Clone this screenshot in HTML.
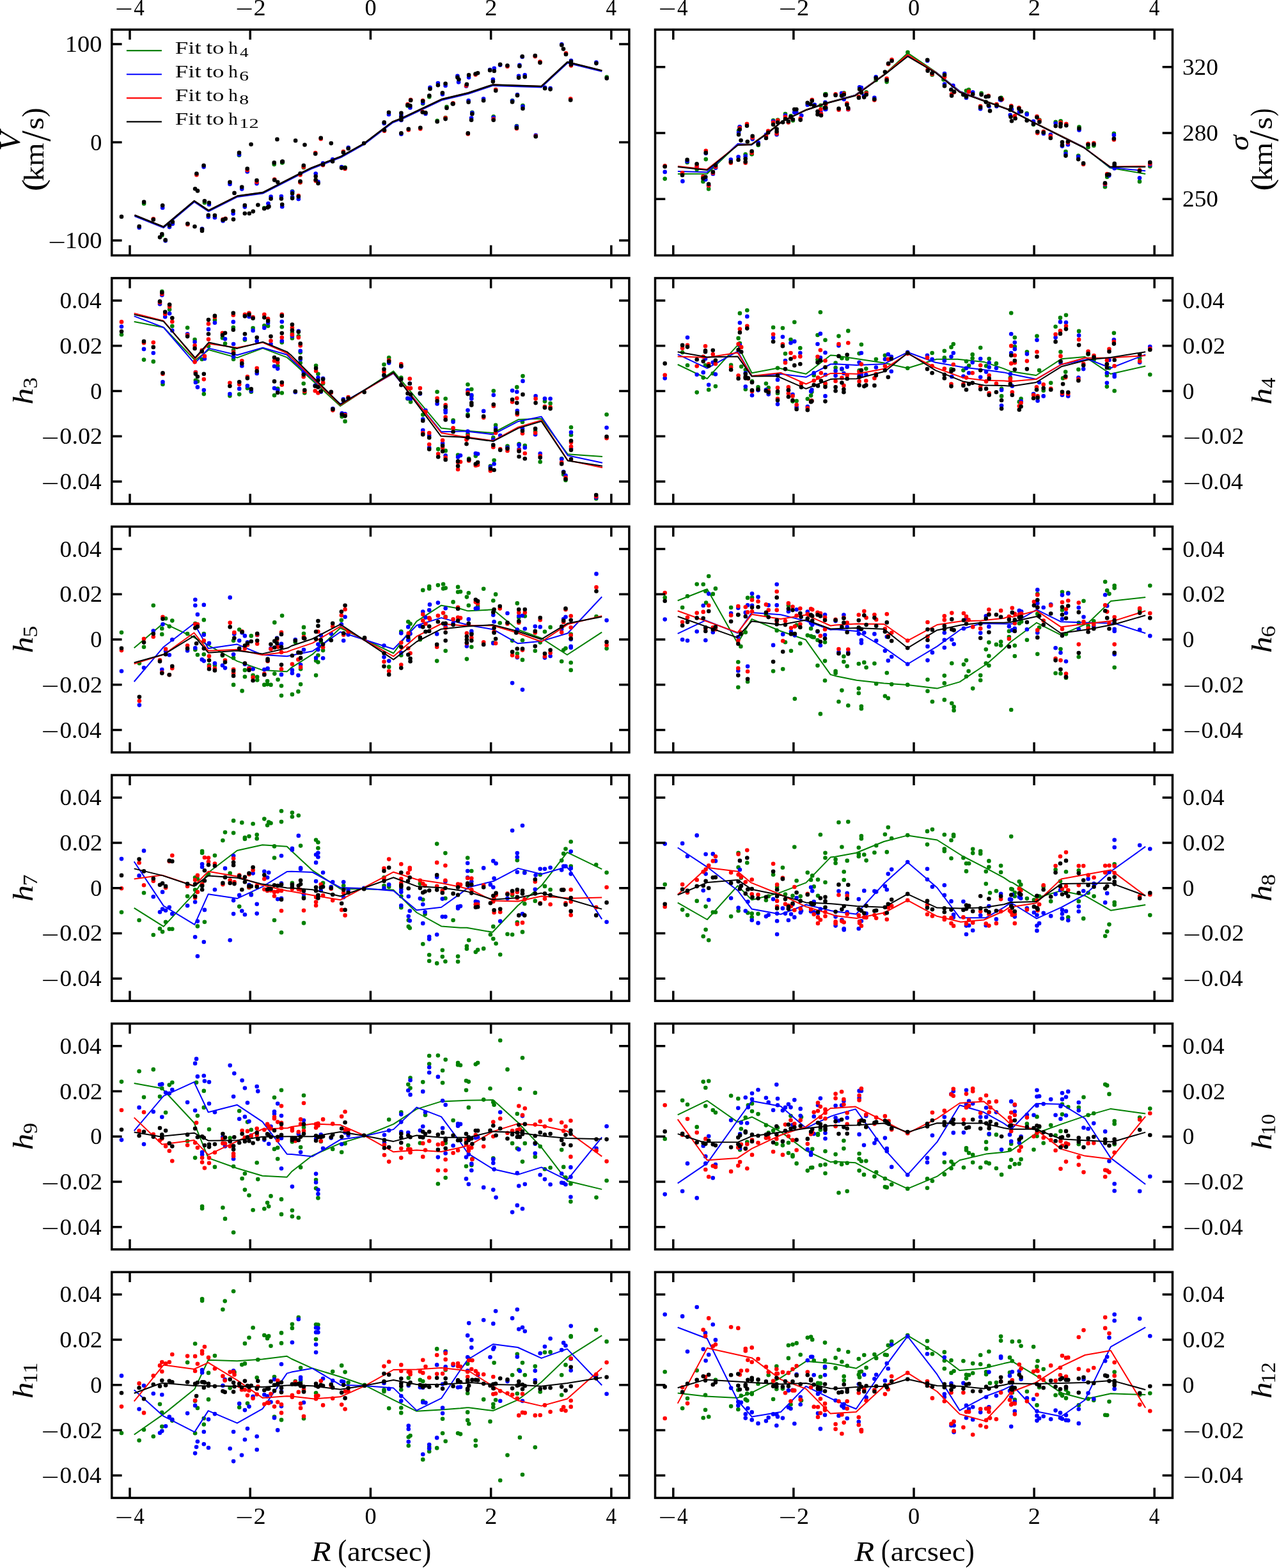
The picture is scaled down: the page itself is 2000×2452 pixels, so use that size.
<!DOCTYPE html>
<html><head><meta charset="utf-8"><title>LOSVD moments</title>
<style>html,body{margin:0;padding:0;background:#fff;}svg{display:block;}text{font-family:'Liberation Serif', serif;}</style>
</head><body>
<svg width="2000" height="2452" viewBox="0 0 2000 2452">
<rect width="2000" height="2452" fill="#fff"/>
<clipPath id="cL0"><rect x="174.80" y="46.30" width="809.10" height="353.10"/></clipPath>
<g clip-path="url(#cL0)">
<g fill="#008000"><circle cx="225.1" cy="318.5" r="3.3"/><circle cx="253.3" cy="368.0" r="3.3"/><circle cx="319.9" cy="317.0" r="3.3"/><circle cx="374.0" cy="242.8" r="3.3"/><circle cx="413.2" cy="325.2" r="3.3"/><circle cx="428.7" cy="257.1" r="3.3"/><circle cx="441.2" cy="254.4" r="3.3"/><circle cx="441.9" cy="254.1" r="3.3"/><circle cx="474.8" cy="261.9" r="3.3"/><circle cx="469.5" cy="285.2" r="3.3"/><circle cx="539.5" cy="261.9" r="3.3"/><circle cx="671.3" cy="151.4" r="3.3"/><circle cx="683.7" cy="188.8" r="3.3"/><circle cx="698.5" cy="167.0" r="3.3"/><circle cx="696.6" cy="184.1" r="3.3"/><circle cx="661.2" cy="161.9" r="3.3"/><circle cx="637.5" cy="165.4" r="3.3"/><circle cx="457.1" cy="299.3" r="3.3"/><circle cx="948.8" cy="120.6" r="3.3"/><circle cx="801.1" cy="157.3" r="3.3"/><circle cx="817.5" cy="165.0" r="3.3"/><circle cx="738.3" cy="175.8" r="3.3"/><circle cx="771.7" cy="182.2" r="3.3"/><circle cx="807.9" cy="197.1" r="3.3"/></g>
<polyline points="210.5,337.0 255.6,355.2 303.8,314.8 326.1,329.6 371.2,307.0 410.8,301.6 469.5,271.7 486.7,263.1 533.3,245.2 569.1,225.0 598.6,202.5 614.2,190.8 628.2,185.4 657.7,171.4 690.4,155.8 732.3,145.7 770.9,132.9 846.4,135.6 887.4,97.5 941.3,110.9" fill="none" stroke="#008000" stroke-width="2.00" stroke-linejoin="round"/>
<g fill="#0000ff"><circle cx="217.7" cy="356.0" r="3.3"/><circle cx="254.2" cy="324.9" r="3.3"/><circle cx="258.7" cy="376.5" r="3.3"/><circle cx="265.0" cy="355.1" r="3.3"/><circle cx="269.9" cy="350.1" r="3.3"/><circle cx="316.0" cy="357.9" r="3.3"/><circle cx="318.6" cy="261.1" r="3.3"/><circle cx="326.9" cy="319.8" r="3.3"/><circle cx="325.8" cy="339.2" r="3.3"/><circle cx="335.9" cy="340.3" r="3.3"/><circle cx="348.6" cy="345.4" r="3.3"/><circle cx="359.5" cy="287.9" r="3.3"/><circle cx="364.6" cy="334.1" r="3.3"/><circle cx="374.0" cy="241.7" r="3.3"/><circle cx="378.2" cy="295.6" r="3.3"/><circle cx="382.8" cy="323.6" r="3.3"/><circle cx="386.7" cy="268.4" r="3.3"/><circle cx="401.5" cy="287.1" r="3.3"/><circle cx="419.4" cy="318.2" r="3.3"/><circle cx="423.6" cy="307.6" r="3.3"/><circle cx="439.9" cy="307.0" r="3.3"/><circle cx="441.2" cy="323.2" r="3.3"/><circle cx="493.7" cy="271.6" r="3.3"/><circle cx="534.1" cy="261.1" r="3.3"/><circle cx="520.1" cy="249.4" r="3.3"/><circle cx="505.0" cy="255.2" r="3.3"/><circle cx="497.5" cy="284.4" r="3.3"/><circle cx="544.7" cy="230.7" r="3.3"/><circle cx="600.7" cy="193.0" r="3.3"/><circle cx="608.0" cy="179.0" r="3.3"/><circle cx="627.4" cy="180.2" r="3.3"/><circle cx="627.4" cy="188.0" r="3.3"/><circle cx="627.4" cy="209.8" r="3.3"/><circle cx="641.4" cy="168.5" r="3.3"/><circle cx="661.2" cy="160.8" r="3.3"/><circle cx="665.5" cy="177.9" r="3.3"/><circle cx="672.5" cy="136.7" r="3.3"/><circle cx="684.9" cy="130.1" r="3.3"/><circle cx="696.6" cy="133.9" r="3.3"/><circle cx="691.9" cy="147.5" r="3.3"/><circle cx="457.1" cy="299.8" r="3.3"/><circle cx="457.1" cy="308.1" r="3.3"/><circle cx="466.8" cy="311.2" r="3.3"/><circle cx="715.4" cy="118.7" r="3.3"/><circle cx="717.1" cy="128.4" r="3.3"/><circle cx="733.1" cy="121.1" r="3.3"/><circle cx="729.1" cy="134.8" r="3.3"/><circle cx="772.8" cy="106.7" r="3.3"/><circle cx="782.1" cy="101.8" r="3.3"/><circle cx="770.9" cy="124.3" r="3.3"/><circle cx="812.4" cy="101.8" r="3.3"/><circle cx="816.7" cy="89.0" r="3.3"/><circle cx="811.1" cy="118.7" r="3.3"/><circle cx="820.7" cy="117.4" r="3.3"/><circle cx="878.3" cy="69.4" r="3.3"/><circle cx="893.0" cy="94.9" r="3.3"/><circle cx="932.4" cy="97.5" r="3.3"/><circle cx="852.1" cy="136.7" r="3.3"/><circle cx="860.6" cy="138.0" r="3.3"/><circle cx="809.0" cy="148.0" r="3.3"/><circle cx="801.1" cy="157.8" r="3.3"/><circle cx="817.5" cy="166.5" r="3.3"/><circle cx="732.6" cy="157.3" r="3.3"/><circle cx="756.1" cy="154.6" r="3.3"/><circle cx="738.3" cy="176.6" r="3.3"/><circle cx="737.1" cy="184.6" r="3.3"/><circle cx="771.7" cy="183.8" r="3.3"/><circle cx="807.9" cy="197.8" r="3.3"/><circle cx="837.8" cy="211.6" r="3.3"/><circle cx="766.1" cy="109.1" r="3.3"/></g>
<polyline points="210.5,337.8 255.6,356.0 303.8,315.6 326.1,330.4 371.2,307.8 410.8,302.4 469.5,272.5 486.7,263.9 533.3,246.0 569.1,225.8 598.6,203.3 614.2,191.6 628.2,186.2 657.7,172.2 690.4,156.6 732.3,146.5 770.9,133.7 846.4,136.4 887.4,98.3 941.3,111.7" fill="none" stroke="#0000ff" stroke-width="2.40" stroke-linejoin="round"/>
<g fill="#ff0000"><circle cx="239.8" cy="342.3" r="3.3"/><circle cx="307.4" cy="273.4" r="3.3"/><circle cx="293.4" cy="350.9" r="3.3"/><circle cx="348.6" cy="343.1" r="3.3"/><circle cx="352.5" cy="341.8" r="3.3"/><circle cx="429.2" cy="280.6" r="3.3"/><circle cx="401.5" cy="284.8" r="3.3"/><circle cx="386.7" cy="266.1" r="3.3"/><circle cx="501.7" cy="217.2" r="3.3"/><circle cx="493.2" cy="239.0" r="3.3"/><circle cx="474.8" cy="261.1" r="3.3"/><circle cx="469.5" cy="273.5" r="3.3"/><circle cx="469.5" cy="285.2" r="3.3"/><circle cx="505.0" cy="258.3" r="3.3"/><circle cx="536.9" cy="237.0" r="3.3"/><circle cx="539.5" cy="263.9" r="3.3"/><circle cx="601.0" cy="204.8" r="3.3"/><circle cx="638.8" cy="203.2" r="3.3"/><circle cx="637.5" cy="163.1" r="3.3"/><circle cx="642.2" cy="156.1" r="3.3"/><circle cx="657.3" cy="201.4" r="3.3"/><circle cx="661.2" cy="157.2" r="3.3"/><circle cx="660.8" cy="174.8" r="3.3"/><circle cx="696.6" cy="184.6" r="3.3"/><circle cx="493.7" cy="282.8" r="3.3"/><circle cx="466.8" cy="306.0" r="3.3"/><circle cx="729.1" cy="134.0" r="3.3"/><circle cx="743.6" cy="116.8" r="3.3"/><circle cx="793.4" cy="103.9" r="3.3"/><circle cx="775.2" cy="140.1" r="3.3"/><circle cx="836.8" cy="88.2" r="3.3"/><circle cx="844.5" cy="96.5" r="3.3"/><circle cx="885.0" cy="83.4" r="3.3"/><circle cx="893.0" cy="102.6" r="3.3"/><circle cx="892.2" cy="154.6" r="3.3"/><circle cx="708.5" cy="161.3" r="3.3"/><circle cx="771.7" cy="186.2" r="3.3"/><circle cx="731.8" cy="209.5" r="3.3"/><circle cx="807.9" cy="201.0" r="3.3"/><circle cx="837.8" cy="212.7" r="3.3"/></g>
<polyline points="210.5,336.5 255.6,354.7 303.8,314.3 326.1,329.1 371.2,306.5 410.8,301.1 469.5,271.2 486.7,262.6 533.3,244.7 569.1,224.5 598.6,202.0 614.2,190.3 628.2,184.9 657.7,170.9 690.4,155.3 732.3,145.2 770.9,132.4 846.4,135.1 887.4,97.0 941.3,110.4" fill="none" stroke="#ff0000" stroke-width="2.00" stroke-linejoin="round"/>
<g fill="#000000"><circle cx="190.0" cy="338.9" r="3.3"/><circle cx="217.7" cy="354.0" r="3.3"/><circle cx="225.1" cy="315.9" r="3.3"/><circle cx="239.8" cy="343.4" r="3.3"/><circle cx="254.2" cy="321.3" r="3.3"/><circle cx="253.3" cy="366.1" r="3.3"/><circle cx="250.0" cy="371.1" r="3.3"/><circle cx="258.7" cy="375.4" r="3.3"/><circle cx="265.0" cy="352.4" r="3.3"/><circle cx="269.9" cy="347.0" r="3.3"/><circle cx="293.4" cy="349.8" r="3.3"/><circle cx="304.5" cy="354.3" r="3.3"/><circle cx="316.0" cy="358.6" r="3.3"/><circle cx="316.0" cy="361.0" r="3.3"/><circle cx="307.4" cy="271.5" r="3.3"/><circle cx="318.6" cy="258.8" r="3.3"/><circle cx="305.1" cy="295.2" r="3.3"/><circle cx="309.0" cy="298.4" r="3.3"/><circle cx="319.9" cy="314.3" r="3.3"/><circle cx="326.9" cy="317.0" r="3.3"/><circle cx="325.8" cy="336.5" r="3.3"/><circle cx="335.9" cy="336.9" r="3.3"/><circle cx="348.6" cy="343.9" r="3.3"/><circle cx="352.5" cy="342.3" r="3.3"/><circle cx="359.5" cy="284.8" r="3.3"/><circle cx="364.6" cy="329.9" r="3.3"/><circle cx="365.0" cy="343.1" r="3.3"/><circle cx="366.5" cy="301.9" r="3.3"/><circle cx="374.0" cy="238.9" r="3.3"/><circle cx="378.2" cy="292.5" r="3.3"/><circle cx="382.8" cy="321.0" r="3.3"/><circle cx="382.8" cy="333.7" r="3.3"/><circle cx="389.8" cy="333.7" r="3.3"/><circle cx="392.6" cy="225.7" r="3.3"/><circle cx="386.7" cy="263.8" r="3.3"/><circle cx="395.8" cy="330.6" r="3.3"/><circle cx="401.5" cy="282.1" r="3.3"/><circle cx="403.4" cy="320.5" r="3.3"/><circle cx="413.2" cy="326.3" r="3.3"/><circle cx="418.6" cy="324.4" r="3.3"/><circle cx="420.5" cy="322.9" r="3.3"/><circle cx="423.6" cy="310.7" r="3.3"/><circle cx="428.7" cy="254.4" r="3.3"/><circle cx="429.2" cy="281.6" r="3.3"/><circle cx="434.2" cy="284.8" r="3.3"/><circle cx="433.4" cy="217.9" r="3.3"/><circle cx="441.2" cy="252.9" r="3.3"/><circle cx="439.9" cy="310.7" r="3.3"/><circle cx="441.2" cy="319.8" r="3.3"/><circle cx="441.9" cy="252.5" r="3.3"/><circle cx="462.1" cy="219.9" r="3.3"/><circle cx="476.5" cy="226.5" r="3.3"/><circle cx="501.7" cy="215.7" r="3.3"/><circle cx="517.8" cy="224.1" r="3.3"/><circle cx="493.2" cy="240.5" r="3.3"/><circle cx="474.8" cy="258.7" r="3.3"/><circle cx="469.5" cy="271.2" r="3.3"/><circle cx="469.5" cy="283.6" r="3.3"/><circle cx="493.7" cy="275.8" r="3.3"/><circle cx="493.7" cy="281.3" r="3.3"/><circle cx="497.5" cy="286.7" r="3.3"/><circle cx="505.0" cy="257.2" r="3.3"/><circle cx="520.1" cy="252.5" r="3.3"/><circle cx="536.9" cy="238.5" r="3.3"/><circle cx="544.7" cy="232.3" r="3.3"/><circle cx="534.1" cy="262.6" r="3.3"/><circle cx="539.5" cy="262.6" r="3.3"/><circle cx="569.1" cy="224.1" r="3.3"/><circle cx="601.0" cy="203.5" r="3.3"/><circle cx="600.7" cy="191.4" r="3.3"/><circle cx="608.0" cy="175.8" r="3.3"/><circle cx="627.4" cy="176.8" r="3.3"/><circle cx="627.4" cy="183.3" r="3.3"/><circle cx="627.4" cy="187.2" r="3.3"/><circle cx="627.4" cy="208.2" r="3.3"/><circle cx="638.8" cy="201.7" r="3.3"/><circle cx="637.5" cy="164.3" r="3.3"/><circle cx="641.4" cy="165.4" r="3.3"/><circle cx="642.2" cy="156.9" r="3.3"/><circle cx="657.3" cy="199.8" r="3.3"/><circle cx="661.2" cy="158.1" r="3.3"/><circle cx="660.8" cy="175.5" r="3.3"/><circle cx="665.5" cy="176.3" r="3.3"/><circle cx="671.3" cy="149.6" r="3.3"/><circle cx="672.5" cy="139.0" r="3.3"/><circle cx="683.7" cy="190.3" r="3.3"/><circle cx="684.9" cy="133.2" r="3.3"/><circle cx="696.6" cy="130.7" r="3.3"/><circle cx="691.9" cy="145.2" r="3.3"/><circle cx="696.6" cy="186.1" r="3.3"/><circle cx="698.5" cy="169.0" r="3.3"/><circle cx="707.8" cy="162.3" r="3.3"/><circle cx="457.1" cy="302.4" r="3.3"/><circle cx="457.1" cy="310.1" r="3.3"/><circle cx="466.8" cy="307.5" r="3.3"/><circle cx="715.4" cy="121.1" r="3.3"/><circle cx="717.5" cy="124.3" r="3.3"/><circle cx="733.1" cy="117.4" r="3.3"/><circle cx="729.9" cy="131.9" r="3.3"/><circle cx="743.6" cy="115.5" r="3.3"/><circle cx="747.1" cy="114.2" r="3.3"/><circle cx="766.1" cy="109.9" r="3.3"/><circle cx="772.8" cy="111.0" r="3.3"/><circle cx="782.1" cy="100.7" r="3.3"/><circle cx="793.4" cy="102.6" r="3.3"/><circle cx="770.9" cy="127.6" r="3.3"/><circle cx="775.2" cy="141.7" r="3.3"/><circle cx="812.4" cy="103.4" r="3.3"/><circle cx="816.7" cy="88.2" r="3.3"/><circle cx="836.8" cy="87.1" r="3.3"/><circle cx="844.5" cy="98.1" r="3.3"/><circle cx="811.1" cy="121.6" r="3.3"/><circle cx="820.7" cy="120.3" r="3.3"/><circle cx="878.3" cy="70.5" r="3.3"/><circle cx="881.0" cy="76.6" r="3.3"/><circle cx="885.0" cy="85.0" r="3.3"/><circle cx="893.0" cy="96.2" r="3.3"/><circle cx="893.0" cy="101.0" r="3.3"/><circle cx="932.4" cy="99.1" r="3.3"/><circle cx="948.8" cy="122.4" r="3.3"/><circle cx="852.1" cy="138.3" r="3.3"/><circle cx="860.6" cy="139.6" r="3.3"/><circle cx="809.0" cy="149.3" r="3.3"/><circle cx="801.1" cy="159.4" r="3.3"/><circle cx="817.5" cy="169.7" r="3.3"/><circle cx="892.2" cy="156.5" r="3.3"/><circle cx="708.5" cy="162.4" r="3.3"/><circle cx="732.6" cy="159.7" r="3.3"/><circle cx="756.1" cy="157.3" r="3.3"/><circle cx="738.3" cy="178.2" r="3.3"/><circle cx="737.1" cy="187.8" r="3.3"/><circle cx="771.7" cy="187.8" r="3.3"/><circle cx="731.8" cy="208.4" r="3.3"/><circle cx="807.9" cy="199.9" r="3.3"/><circle cx="837.8" cy="213.5" r="3.3"/></g>
<polyline points="210.5,336.5 255.6,354.7 303.8,314.3 326.1,329.1 371.2,306.5 410.8,301.1 469.5,271.2 486.7,262.6 533.3,244.7 569.1,224.5 598.6,202.0 614.2,190.3 628.2,184.9 657.7,170.9 690.4,155.3 732.3,145.2 770.9,132.4 846.4,135.1 887.4,97.0 941.3,110.4" fill="none" stroke="#000000" stroke-width="2.50" stroke-linejoin="round"/>
</g>
<rect x="174.80" y="46.30" width="809.10" height="353.10" fill="none" stroke="#000" stroke-width="3.50"/>
<path d="M203.01 46.30V62.10M203.01 399.40V383.60M391.23 46.30V62.10M391.23 399.40V383.60M579.45 46.30V62.10M579.45 399.40V383.60M767.67 46.30V62.10M767.67 399.40V383.60M955.89 46.30V62.10M955.89 399.40V383.60" stroke="#000" stroke-width="3.50" fill="none"/>
<path d="M174.80 69.10H190.60M983.90 69.10H968.10M174.80 222.60H190.60M983.90 222.60H968.10M174.80 376.10H190.60M983.90 376.10H968.10" stroke="#000" stroke-width="3.50" fill="none"/>
<text transform="translate(101.86 81.17) scale(1.0810 1)" font-size="35.60" fill="#000">100</text>
<text transform="translate(141.36 234.67) scale(1.0190 1)" font-size="35.60" fill="#000">0</text>
<text transform="translate(75.04 390.73) scale(1.3831 1)" font-size="35.60" fill="#000">−</text>
<text transform="translate(101.86 388.18) scale(1.0810 1)" font-size="35.60" fill="#000">100</text>
<text transform="translate(179.71 26.46) scale(1.3831 1)" font-size="35.60" fill="#000">−</text>
<text transform="translate(209.26 23.90) scale(0.9291 1)" font-size="35.60" fill="#000">4</text>
<text transform="translate(367.93 26.46) scale(1.3831 1)" font-size="35.60" fill="#000">−</text>
<text transform="translate(396.44 23.90) scale(1.0773 1)" font-size="35.60" fill="#000">2</text>
<text transform="translate(570.38 23.90) scale(1.0190 1)" font-size="35.60" fill="#000">0</text>
<text transform="translate(758.30 23.90) scale(1.0773 1)" font-size="35.60" fill="#000">2</text>
<text transform="translate(947.56 23.90) scale(0.9291 1)" font-size="35.60" fill="#000">4</text>
<clipPath id="cR0"><rect x="1024.50" y="46.30" width="809.00" height="353.10"/></clipPath>
<g clip-path="url(#cR0)">
<g fill="#008000"><circle cx="1039.7" cy="279.6" r="3.3"/><circle cx="1067.0" cy="272.0" r="3.3"/><circle cx="1074.6" cy="253.9" r="3.3"/><circle cx="1089.6" cy="264.9" r="3.3"/><circle cx="1103.8" cy="249.1" r="3.3"/><circle cx="1099.4" cy="283.9" r="3.3"/><circle cx="1108.1" cy="295.4" r="3.3"/><circle cx="1165.7" cy="241.2" r="3.3"/><circle cx="1155.1" cy="204.2" r="3.3"/><circle cx="1156.7" cy="198.6" r="3.3"/><circle cx="1175.6" cy="241.2" r="3.3"/><circle cx="1185.7" cy="227.0" r="3.3"/><circle cx="1209.1" cy="188.4" r="3.3"/><circle cx="1216.2" cy="187.6" r="3.3"/><circle cx="1228.0" cy="178.1" r="3.3"/><circle cx="1236.7" cy="181.3" r="3.3"/><circle cx="1239.9" cy="188.4" r="3.3"/><circle cx="1290.4" cy="147.3" r="3.3"/><circle cx="1283.3" cy="164.7" r="3.3"/><circle cx="1291.3" cy="147.0" r="3.3"/><circle cx="1319.7" cy="145.4" r="3.3"/><circle cx="1354.7" cy="144.2" r="3.3"/><circle cx="1369.7" cy="125.2" r="3.3"/><circle cx="1386.6" cy="128.1" r="3.3"/><circle cx="1419.4" cy="81.8" r="3.3"/><circle cx="1457.6" cy="117.0" r="3.3"/><circle cx="1475.4" cy="124.5" r="3.3"/><circle cx="1511.0" cy="141.8" r="3.3"/><circle cx="1514.9" cy="140.2" r="3.3"/><circle cx="1534.6" cy="145.8" r="3.3"/><circle cx="1565.5" cy="152.9" r="3.3"/><circle cx="1605.7" cy="177.3" r="3.3"/><circle cx="1616.0" cy="194.7" r="3.3"/><circle cx="1625.4" cy="187.6" r="3.3"/><circle cx="1650.7" cy="190.7" r="3.3"/><circle cx="1658.6" cy="189.2" r="3.3"/><circle cx="1687.5" cy="198.6" r="3.3"/><circle cx="1666.5" cy="237.0" r="3.3"/><circle cx="1686.2" cy="243.6" r="3.3"/><circle cx="1701.5" cy="230.2" r="3.3"/><circle cx="1710.4" cy="227.8" r="3.3"/><circle cx="1741.9" cy="208.9" r="3.3"/><circle cx="1731.2" cy="276.8" r="3.3"/><circle cx="1728.0" cy="292.2" r="3.3"/><circle cx="1782.0" cy="283.9" r="3.3"/><circle cx="1798.3" cy="260.2" r="3.3"/></g>
<polyline points="1059.9,272.0 1105.7,271.7 1153.8,225.5 1175.1,225.5 1199.6,208.1 1223.3,189.2 1259.6,171.8 1290.0,161.5 1337.3,148.6 1384.7,114.7 1419.4,82.9 1463.6,112.9 1500.7,142.6 1539.4,157.3 1556.0,163.1 1579.7,171.8 1619.1,192.3 1666.5,216.0 1694.9,230.2 1735.9,262.6 1791.2,272.0" fill="none" stroke="#008000" stroke-width="2.00" stroke-linejoin="round"/>
<g fill="#0000ff"><circle cx="1039.7" cy="268.9" r="3.3"/><circle cx="1067.4" cy="283.4" r="3.3"/><circle cx="1074.6" cy="252.3" r="3.3"/><circle cx="1089.6" cy="261.0" r="3.3"/><circle cx="1103.8" cy="239.7" r="3.3"/><circle cx="1103.3" cy="280.7" r="3.3"/><circle cx="1108.1" cy="290.2" r="3.3"/><circle cx="1114.9" cy="272.0" r="3.3"/><circle cx="1119.1" cy="262.6" r="3.3"/><circle cx="1142.8" cy="249.6" r="3.3"/><circle cx="1154.6" cy="245.2" r="3.3"/><circle cx="1165.7" cy="244.4" r="3.3"/><circle cx="1155.1" cy="207.3" r="3.3"/><circle cx="1156.7" cy="198.2" r="3.3"/><circle cx="1176.7" cy="217.6" r="3.3"/><circle cx="1185.7" cy="223.1" r="3.3"/><circle cx="1198.0" cy="210.5" r="3.3"/><circle cx="1209.1" cy="189.9" r="3.3"/><circle cx="1214.6" cy="210.5" r="3.3"/><circle cx="1228.0" cy="180.5" r="3.3"/><circle cx="1236.7" cy="183.6" r="3.3"/><circle cx="1242.2" cy="175.7" r="3.3"/><circle cx="1245.4" cy="175.7" r="3.3"/><circle cx="1253.3" cy="180.5" r="3.3"/><circle cx="1262.7" cy="163.9" r="3.3"/><circle cx="1273.8" cy="163.9" r="3.3"/><circle cx="1283.3" cy="174.2" r="3.3"/><circle cx="1290.4" cy="160.0" r="3.3"/><circle cx="1290.4" cy="171.0" r="3.3"/><circle cx="1291.3" cy="171.0" r="3.3"/><circle cx="1316.0" cy="145.8" r="3.3"/><circle cx="1319.7" cy="155.2" r="3.3"/><circle cx="1326.3" cy="171.3" r="3.3"/><circle cx="1344.1" cy="136.3" r="3.3"/><circle cx="1346.8" cy="137.1" r="3.3"/><circle cx="1350.8" cy="149.7" r="3.3"/><circle cx="1367.3" cy="152.9" r="3.3"/><circle cx="1369.7" cy="120.2" r="3.3"/><circle cx="1450.2" cy="94.9" r="3.3"/><circle cx="1477.0" cy="115.0" r="3.3"/><circle cx="1477.0" cy="131.6" r="3.3"/><circle cx="1490.4" cy="133.9" r="3.3"/><circle cx="1511.0" cy="152.9" r="3.3"/><circle cx="1521.2" cy="144.2" r="3.3"/><circle cx="1533.1" cy="170.2" r="3.3"/><circle cx="1546.5" cy="166.3" r="3.3"/><circle cx="1564.0" cy="156.0" r="3.3"/><circle cx="1565.5" cy="156.5" r="3.3"/><circle cx="1558.4" cy="166.3" r="3.3"/><circle cx="1582.0" cy="171.0" r="3.3"/><circle cx="1579.7" cy="179.7" r="3.3"/><circle cx="1593.9" cy="175.0" r="3.3"/><circle cx="1605.7" cy="178.9" r="3.3"/><circle cx="1616.0" cy="189.9" r="3.3"/><circle cx="1631.8" cy="208.9" r="3.3"/><circle cx="1642.8" cy="210.5" r="3.3"/><circle cx="1650.7" cy="193.1" r="3.3"/><circle cx="1687.5" cy="203.4" r="3.3"/><circle cx="1661.0" cy="228.6" r="3.3"/><circle cx="1670.0" cy="226.2" r="3.3"/><circle cx="1666.5" cy="240.5" r="3.3"/><circle cx="1686.2" cy="245.2" r="3.3"/><circle cx="1741.9" cy="211.3" r="3.3"/><circle cx="1742.7" cy="263.3" r="3.3"/><circle cx="1734.3" cy="274.4" r="3.3"/><circle cx="1728.0" cy="288.6" r="3.3"/><circle cx="1782.0" cy="278.3" r="3.3"/><circle cx="1798.3" cy="257.8" r="3.3"/></g>
<polyline points="1059.9,268.1 1105.7,269.2 1153.8,224.7 1175.1,226.6 1199.6,209.2 1223.3,189.6 1259.6,172.3 1290.0,162.0 1337.3,148.9 1384.7,115.3 1419.4,86.6 1463.6,113.4 1500.7,142.9 1539.4,157.6 1556.0,163.6 1579.7,172.3 1619.1,192.8 1666.5,216.5 1694.9,230.2 1735.9,261.8 1791.2,267.3" fill="none" stroke="#0000ff" stroke-width="2.00" stroke-linejoin="round"/>
<g fill="#ff0000"><circle cx="1039.7" cy="259.4" r="3.3"/><circle cx="1067.0" cy="270.4" r="3.3"/><circle cx="1089.6" cy="259.4" r="3.3"/><circle cx="1103.8" cy="235.7" r="3.3"/><circle cx="1099.4" cy="276.0" r="3.3"/><circle cx="1108.1" cy="290.2" r="3.3"/><circle cx="1114.9" cy="270.4" r="3.3"/><circle cx="1119.1" cy="261.0" r="3.3"/><circle cx="1142.8" cy="254.7" r="3.3"/><circle cx="1165.7" cy="254.7" r="3.3"/><circle cx="1156.7" cy="200.2" r="3.3"/><circle cx="1168.0" cy="193.9" r="3.3"/><circle cx="1176.7" cy="215.2" r="3.3"/><circle cx="1175.6" cy="238.9" r="3.3"/><circle cx="1198.0" cy="212.8" r="3.3"/><circle cx="1201.2" cy="204.9" r="3.3"/><circle cx="1209.1" cy="191.5" r="3.3"/><circle cx="1214.6" cy="208.9" r="3.3"/><circle cx="1216.2" cy="188.4" r="3.3"/><circle cx="1228.0" cy="182.8" r="3.3"/><circle cx="1232.8" cy="191.5" r="3.3"/><circle cx="1236.7" cy="183.6" r="3.3"/><circle cx="1251.7" cy="185.2" r="3.3"/><circle cx="1269.8" cy="156.0" r="3.3"/><circle cx="1283.3" cy="171.0" r="3.3"/><circle cx="1284.0" cy="178.1" r="3.3"/><circle cx="1291.3" cy="163.1" r="3.3"/><circle cx="1306.6" cy="147.3" r="3.3"/><circle cx="1319.7" cy="146.5" r="3.3"/><circle cx="1311.6" cy="171.8" r="3.3"/><circle cx="1324.4" cy="161.5" r="3.3"/><circle cx="1326.3" cy="171.0" r="3.3"/><circle cx="1342.9" cy="151.3" r="3.3"/><circle cx="1354.7" cy="145.8" r="3.3"/><circle cx="1367.3" cy="156.5" r="3.3"/><circle cx="1386.6" cy="122.9" r="3.3"/><circle cx="1394.5" cy="93.4" r="3.3"/><circle cx="1389.1" cy="100.3" r="3.3"/><circle cx="1450.7" cy="108.7" r="3.3"/><circle cx="1457.6" cy="115.8" r="3.3"/><circle cx="1477.0" cy="120.5" r="3.3"/><circle cx="1492.0" cy="144.2" r="3.3"/><circle cx="1488.1" cy="147.3" r="3.3"/><circle cx="1514.9" cy="143.4" r="3.3"/><circle cx="1533.1" cy="166.0" r="3.3"/><circle cx="1545.7" cy="149.7" r="3.3"/><circle cx="1558.3" cy="163.4" r="3.3"/><circle cx="1567.0" cy="155.2" r="3.3"/><circle cx="1558.4" cy="163.1" r="3.3"/><circle cx="1581.3" cy="165.5" r="3.3"/><circle cx="1586.8" cy="181.3" r="3.3"/><circle cx="1593.4" cy="168.6" r="3.3"/><circle cx="1621.5" cy="182.1" r="3.3"/><circle cx="1625.4" cy="188.4" r="3.3"/><circle cx="1622.3" cy="208.1" r="3.3"/><circle cx="1631.8" cy="205.7" r="3.3"/><circle cx="1642.8" cy="212.8" r="3.3"/><circle cx="1658.6" cy="191.5" r="3.3"/><circle cx="1667.3" cy="193.9" r="3.3"/><circle cx="1670.0" cy="223.1" r="3.3"/><circle cx="1694.1" cy="257.0" r="3.3"/><circle cx="1701.5" cy="224.7" r="3.3"/><circle cx="1710.4" cy="223.9" r="3.3"/><circle cx="1741.9" cy="218.4" r="3.3"/><circle cx="1731.2" cy="272.0" r="3.3"/><circle cx="1728.0" cy="287.8" r="3.3"/><circle cx="1782.0" cy="265.7" r="3.3"/><circle cx="1798.3" cy="256.2" r="3.3"/></g>
<polyline points="1059.9,259.9 1105.7,264.9 1153.8,226.7 1175.1,225.9 1199.6,208.6 1223.3,189.6 1259.6,172.3 1290.0,162.0 1337.3,149.4 1384.7,115.3 1419.4,85.5 1463.6,113.7 1500.7,143.7 1539.4,157.9 1556.0,163.6 1579.7,172.3 1619.1,192.8 1666.5,216.5 1694.9,230.7 1735.9,260.7 1791.2,259.9" fill="none" stroke="#ff0000" stroke-width="2.00" stroke-linejoin="round"/>
<g fill="#000000"><circle cx="1039.7" cy="260.5" r="3.3"/><circle cx="1067.0" cy="273.9" r="3.3"/><circle cx="1074.6" cy="249.9" r="3.3"/><circle cx="1089.6" cy="256.2" r="3.3"/><circle cx="1103.8" cy="238.9" r="3.3"/><circle cx="1099.4" cy="279.1" r="3.3"/><circle cx="1103.3" cy="276.8" r="3.3"/><circle cx="1108.1" cy="287.8" r="3.3"/><circle cx="1114.9" cy="268.9" r="3.3"/><circle cx="1119.1" cy="258.6" r="3.3"/><circle cx="1142.8" cy="253.1" r="3.3"/><circle cx="1154.6" cy="249.9" r="3.3"/><circle cx="1165.7" cy="253.1" r="3.3"/><circle cx="1165.7" cy="248.3" r="3.3"/><circle cx="1155.1" cy="210.5" r="3.3"/><circle cx="1156.7" cy="202.6" r="3.3"/><circle cx="1158.6" cy="219.6" r="3.3"/><circle cx="1168.8" cy="221.5" r="3.3"/><circle cx="1168.0" cy="196.7" r="3.3"/><circle cx="1176.7" cy="212.8" r="3.3"/><circle cx="1175.6" cy="236.5" r="3.3"/><circle cx="1185.7" cy="225.5" r="3.3"/><circle cx="1198.0" cy="216.0" r="3.3"/><circle cx="1201.2" cy="207.3" r="3.3"/><circle cx="1209.1" cy="194.7" r="3.3"/><circle cx="1214.6" cy="205.7" r="3.3"/><circle cx="1214.6" cy="201.8" r="3.3"/><circle cx="1216.2" cy="191.5" r="3.3"/><circle cx="1224.1" cy="191.2" r="3.3"/><circle cx="1228.0" cy="186.0" r="3.3"/><circle cx="1232.8" cy="189.9" r="3.3"/><circle cx="1236.7" cy="182.8" r="3.3"/><circle cx="1239.9" cy="186.8" r="3.3"/><circle cx="1242.2" cy="171.0" r="3.3"/><circle cx="1245.4" cy="171.0" r="3.3"/><circle cx="1251.7" cy="187.6" r="3.3"/><circle cx="1262.7" cy="160.8" r="3.3"/><circle cx="1269.8" cy="157.6" r="3.3"/><circle cx="1267.5" cy="163.1" r="3.3"/><circle cx="1273.0" cy="165.5" r="3.3"/><circle cx="1278.5" cy="174.2" r="3.3"/><circle cx="1278.5" cy="178.9" r="3.3"/><circle cx="1284.0" cy="180.5" r="3.3"/><circle cx="1290.4" cy="148.9" r="3.3"/><circle cx="1290.4" cy="161.5" r="3.3"/><circle cx="1289.6" cy="168.6" r="3.3"/><circle cx="1291.3" cy="148.9" r="3.3"/><circle cx="1291.3" cy="168.6" r="3.3"/><circle cx="1306.6" cy="148.9" r="3.3"/><circle cx="1316.0" cy="149.7" r="3.3"/><circle cx="1319.7" cy="148.1" r="3.3"/><circle cx="1311.6" cy="169.7" r="3.3"/><circle cx="1324.4" cy="163.9" r="3.3"/><circle cx="1326.3" cy="169.1" r="3.3"/><circle cx="1342.9" cy="152.9" r="3.3"/><circle cx="1344.1" cy="139.4" r="3.3"/><circle cx="1347.1" cy="145.0" r="3.3"/><circle cx="1351.2" cy="152.1" r="3.3"/><circle cx="1354.7" cy="148.1" r="3.3"/><circle cx="1367.3" cy="155.2" r="3.3"/><circle cx="1369.7" cy="122.1" r="3.3"/><circle cx="1383.9" cy="112.6" r="3.3"/><circle cx="1386.6" cy="125.2" r="3.3"/><circle cx="1389.1" cy="99.2" r="3.3"/><circle cx="1394.5" cy="95.3" r="3.3"/><circle cx="1450.2" cy="93.7" r="3.3"/><circle cx="1450.7" cy="110.7" r="3.3"/><circle cx="1457.6" cy="114.2" r="3.3"/><circle cx="1477.0" cy="117.3" r="3.3"/><circle cx="1477.0" cy="134.4" r="3.3"/><circle cx="1487.3" cy="140.2" r="3.3"/><circle cx="1492.0" cy="143.4" r="3.3"/><circle cx="1488.1" cy="149.7" r="3.3"/><circle cx="1506.2" cy="148.1" r="3.3"/><circle cx="1511.0" cy="151.3" r="3.3"/><circle cx="1521.2" cy="147.3" r="3.3"/><circle cx="1534.6" cy="148.1" r="3.3"/><circle cx="1533.1" cy="167.9" r="3.3"/><circle cx="1541.7" cy="151.3" r="3.3"/><circle cx="1545.7" cy="150.8" r="3.3"/><circle cx="1541.7" cy="159.6" r="3.3"/><circle cx="1545.7" cy="164.7" r="3.3"/><circle cx="1548.0" cy="173.4" r="3.3"/><circle cx="1558.3" cy="164.7" r="3.3"/><circle cx="1564.0" cy="153.6" r="3.3"/><circle cx="1565.5" cy="155.2" r="3.3"/><circle cx="1558.4" cy="164.7" r="3.3"/><circle cx="1581.3" cy="167.1" r="3.3"/><circle cx="1579.7" cy="171.8" r="3.3"/><circle cx="1580.5" cy="182.8" r="3.3"/><circle cx="1582.0" cy="189.2" r="3.3"/><circle cx="1587.6" cy="185.2" r="3.3"/><circle cx="1593.4" cy="169.9" r="3.3"/><circle cx="1597.0" cy="174.2" r="3.3"/><circle cx="1605.7" cy="188.4" r="3.3"/><circle cx="1616.0" cy="193.9" r="3.3"/><circle cx="1621.5" cy="183.6" r="3.3"/><circle cx="1625.4" cy="190.7" r="3.3"/><circle cx="1622.3" cy="206.0" r="3.3"/><circle cx="1631.8" cy="207.3" r="3.3"/><circle cx="1642.8" cy="216.0" r="3.3"/><circle cx="1650.7" cy="197.1" r="3.3"/><circle cx="1658.3" cy="197.8" r="3.3"/><circle cx="1658.6" cy="193.9" r="3.3"/><circle cx="1667.3" cy="196.3" r="3.3"/><circle cx="1687.5" cy="201.0" r="3.3"/><circle cx="1661.0" cy="222.3" r="3.3"/><circle cx="1661.0" cy="227.0" r="3.3"/><circle cx="1670.0" cy="221.5" r="3.3"/><circle cx="1666.5" cy="243.6" r="3.3"/><circle cx="1686.2" cy="249.1" r="3.3"/><circle cx="1694.1" cy="255.4" r="3.3"/><circle cx="1701.5" cy="226.2" r="3.3"/><circle cx="1710.4" cy="225.5" r="3.3"/><circle cx="1741.9" cy="216.8" r="3.3"/><circle cx="1742.7" cy="255.9" r="3.3"/><circle cx="1742.7" cy="258.6" r="3.3"/><circle cx="1731.2" cy="273.6" r="3.3"/><circle cx="1734.3" cy="272.8" r="3.3"/><circle cx="1728.0" cy="286.2" r="3.3"/><circle cx="1782.0" cy="267.3" r="3.3"/><circle cx="1798.3" cy="253.9" r="3.3"/></g>
<polyline points="1059.9,261.0 1105.7,266.0 1153.8,227.0 1175.1,226.2 1199.6,208.9 1223.3,189.9 1259.6,172.6 1290.0,162.3 1337.3,149.7 1384.7,115.8 1419.4,88.2 1463.6,114.2 1500.7,144.2 1539.4,158.4 1556.0,163.9 1579.7,172.6 1619.1,193.1 1666.5,216.8 1694.9,231.0 1735.9,261.0 1791.2,261.0" fill="none" stroke="#000000" stroke-width="2.00" stroke-linejoin="round"/>
</g>
<rect x="1024.50" y="46.30" width="809.00" height="353.10" fill="none" stroke="#000" stroke-width="3.50"/>
<path d="M1052.80 46.30V62.10M1052.80 399.40V383.60M1240.90 46.30V62.10M1240.90 399.40V383.60M1429.00 46.30V62.10M1429.00 399.40V383.60M1617.10 46.30V62.10M1617.10 399.40V383.60M1805.20 46.30V62.10M1805.20 399.40V383.60" stroke="#000" stroke-width="3.50" fill="none"/>
<path d="M1024.50 104.70H1040.30M1833.50 104.70H1817.70M1024.50 208.10H1040.30M1833.50 208.10H1817.70M1024.50 311.20H1040.30M1833.50 311.20H1817.70" stroke="#000" stroke-width="3.50" fill="none"/>
<text transform="translate(1848.90 116.78) scale(1.0503 1)" font-size="35.60" fill="#000">320</text>
<text transform="translate(1849.05 220.17) scale(1.0475 1)" font-size="35.60" fill="#000">280</text>
<text transform="translate(1849.05 323.27) scale(1.0475 1)" font-size="35.60" fill="#000">250</text>
<text transform="translate(1029.50 26.46) scale(1.3831 1)" font-size="35.60" fill="#000">−</text>
<text transform="translate(1059.05 23.90) scale(0.9291 1)" font-size="35.60" fill="#000">4</text>
<text transform="translate(1217.60 26.46) scale(1.3831 1)" font-size="35.60" fill="#000">−</text>
<text transform="translate(1246.11 23.90) scale(1.0773 1)" font-size="35.60" fill="#000">2</text>
<text transform="translate(1419.93 23.90) scale(1.0190 1)" font-size="35.60" fill="#000">0</text>
<text transform="translate(1607.73 23.90) scale(1.0773 1)" font-size="35.60" fill="#000">2</text>
<text transform="translate(1796.87 23.90) scale(0.9291 1)" font-size="35.60" fill="#000">4</text>
<clipPath id="cL1"><rect x="174.80" y="434.90" width="809.10" height="353.10"/></clipPath>
<g clip-path="url(#cL1)">
<g fill="#008000"><circle cx="190.0" cy="523.2" r="3.3"/><circle cx="225.0" cy="562.6" r="3.3"/><circle cx="239.8" cy="565.4" r="3.3"/><circle cx="253.3" cy="455.7" r="3.3"/><circle cx="265.1" cy="484.0" r="3.3"/><circle cx="269.3" cy="510.0" r="3.3"/><circle cx="254.5" cy="601.0" r="3.3"/><circle cx="293.1" cy="512.5" r="3.3"/><circle cx="304.6" cy="531.1" r="3.3"/><circle cx="305.9" cy="594.7" r="3.3"/><circle cx="308.9" cy="596.4" r="3.3"/><circle cx="315.8" cy="561.8" r="3.3"/><circle cx="318.8" cy="616.1" r="3.3"/><circle cx="326.0" cy="541.3" r="3.3"/><circle cx="335.9" cy="500.5" r="3.3"/><circle cx="347.9" cy="528.4" r="3.3"/><circle cx="352.0" cy="537.2" r="3.3"/><circle cx="364.8" cy="512.0" r="3.3"/><circle cx="365.1" cy="547.5" r="3.3"/><circle cx="365.1" cy="561.8" r="3.3"/><circle cx="359.4" cy="619.1" r="3.3"/><circle cx="374.2" cy="616.6" r="3.3"/><circle cx="382.9" cy="531.4" r="3.3"/><circle cx="386.9" cy="607.1" r="3.3"/><circle cx="392.8" cy="612.8" r="3.3"/><circle cx="395.6" cy="513.0" r="3.3"/><circle cx="413.3" cy="509.2" r="3.3"/><circle cx="419.1" cy="509.7" r="3.3"/><circle cx="429.0" cy="618.2" r="3.3"/><circle cx="434.2" cy="572.2" r="3.3"/><circle cx="434.2" cy="607.9" r="3.3"/><circle cx="440.8" cy="511.3" r="3.3"/><circle cx="440.8" cy="535.5" r="3.3"/><circle cx="440.8" cy="614.5" r="3.3"/><circle cx="456.9" cy="520.7" r="3.3"/><circle cx="456.9" cy="528.9" r="3.3"/><circle cx="466.8" cy="525.6" r="3.3"/><circle cx="469.7" cy="551.1" r="3.3"/><circle cx="469.7" cy="567.6" r="3.3"/><circle cx="474.7" cy="599.7" r="3.3"/><circle cx="476.3" cy="614.5" r="3.3"/><circle cx="494.1" cy="571.7" r="3.3"/><circle cx="497.4" cy="584.8" r="3.3"/><circle cx="505.1" cy="599.7" r="3.3"/><circle cx="534.7" cy="651.5" r="3.3"/><circle cx="539.6" cy="658.9" r="3.3"/><circle cx="600.5" cy="570.0" r="3.3"/><circle cx="608.2" cy="559.4" r="3.3"/><circle cx="627.3" cy="590.6" r="3.3"/><circle cx="637.5" cy="623.5" r="3.3"/><circle cx="642.1" cy="628.4" r="3.3"/><circle cx="661.3" cy="648.5" r="3.3"/><circle cx="683.6" cy="612.8" r="3.3"/><circle cx="685.2" cy="702.4" r="3.3"/><circle cx="696.7" cy="623.5" r="3.3"/><circle cx="696.7" cy="640.8" r="3.3"/><circle cx="696.7" cy="704.9" r="3.3"/><circle cx="708.6" cy="657.2" r="3.3"/><circle cx="716.1" cy="711.5" r="3.3"/><circle cx="731.5" cy="601.3" r="3.3"/><circle cx="731.5" cy="648.2" r="3.3"/><circle cx="731.5" cy="678.6" r="3.3"/><circle cx="737.3" cy="608.7" r="3.3"/><circle cx="737.3" cy="619.4" r="3.3"/><circle cx="733.2" cy="717.2" r="3.3"/><circle cx="743.8" cy="713.1" r="3.3"/><circle cx="771.8" cy="611.2" r="3.3"/><circle cx="775.1" cy="664.9" r="3.3"/><circle cx="771.3" cy="684.4" r="3.3"/><circle cx="772.6" cy="719.7" r="3.3"/><circle cx="766.9" cy="728.8" r="3.3"/><circle cx="793.5" cy="697.5" r="3.3"/><circle cx="808.3" cy="605.4" r="3.3"/><circle cx="817.5" cy="588.1" r="3.3"/><circle cx="817.0" cy="660.0" r="3.3"/><circle cx="811.6" cy="694.2" r="3.3"/><circle cx="820.8" cy="696.7" r="3.3"/><circle cx="837.1" cy="674.5" r="3.3"/><circle cx="844.7" cy="722.2" r="3.3"/><circle cx="851.9" cy="627.6" r="3.3"/><circle cx="860.6" cy="630.9" r="3.3"/><circle cx="878.2" cy="717.2" r="3.3"/><circle cx="881.2" cy="741.9" r="3.3"/><circle cx="884.5" cy="751.0" r="3.3"/><circle cx="893.0" cy="668.2" r="3.3"/><circle cx="893.0" cy="680.2" r="3.3"/><circle cx="948.6" cy="648.2" r="3.3"/><circle cx="932.2" cy="779.8" r="3.3"/></g>
<polyline points="209.7,503.1 255.8,512.0 305.1,563.5 326.5,547.0 370.9,559.4 410.9,544.6 448.7,558.9 455.9,565.1 532.2,635.0 615.3,580.4 690.1,669.6 720.0,672.8 729.9,673.7 771.0,677.0 810.5,656.1 846.6,654.8 887.8,710.3 942.0,714.0" fill="none" stroke="#008000" stroke-width="2.00" stroke-linejoin="round"/>
<g fill="#0000ff"><circle cx="190.0" cy="510.8" r="3.3"/><circle cx="225.0" cy="545.9" r="3.3"/><circle cx="239.8" cy="552.0" r="3.3"/><circle cx="253.3" cy="461.5" r="3.3"/><circle cx="250.0" cy="475.5" r="3.3"/><circle cx="258.2" cy="495.5" r="3.3"/><circle cx="265.1" cy="490.3" r="3.3"/><circle cx="269.3" cy="516.9" r="3.3"/><circle cx="254.5" cy="597.2" r="3.3"/><circle cx="293.1" cy="522.3" r="3.3"/><circle cx="304.6" cy="534.7" r="3.3"/><circle cx="305.9" cy="582.1" r="3.3"/><circle cx="305.9" cy="598.0" r="3.3"/><circle cx="308.9" cy="605.4" r="3.3"/><circle cx="319.9" cy="561.0" r="3.3"/><circle cx="318.8" cy="610.0" r="3.3"/><circle cx="326.0" cy="514.9" r="3.3"/><circle cx="335.9" cy="504.8" r="3.3"/><circle cx="352.0" cy="530.1" r="3.3"/><circle cx="364.8" cy="503.4" r="3.3"/><circle cx="365.1" cy="538.0" r="3.3"/><circle cx="365.1" cy="557.7" r="3.3"/><circle cx="359.4" cy="616.1" r="3.3"/><circle cx="374.2" cy="607.9" r="3.3"/><circle cx="378.3" cy="572.2" r="3.3"/><circle cx="382.9" cy="529.8" r="3.3"/><circle cx="389.5" cy="495.2" r="3.3"/><circle cx="386.9" cy="603.4" r="3.3"/><circle cx="392.8" cy="611.2" r="3.3"/><circle cx="395.6" cy="516.9" r="3.3"/><circle cx="401.7" cy="533.4" r="3.3"/><circle cx="401.7" cy="584.0" r="3.3"/><circle cx="413.3" cy="512.8" r="3.3"/><circle cx="419.1" cy="505.1" r="3.3"/><circle cx="423.5" cy="538.0" r="3.3"/><circle cx="429.0" cy="572.8" r="3.3"/><circle cx="429.0" cy="607.1" r="3.3"/><circle cx="434.2" cy="576.6" r="3.3"/><circle cx="434.2" cy="610.3" r="3.3"/><circle cx="440.8" cy="503.1" r="3.3"/><circle cx="440.8" cy="533.0" r="3.3"/><circle cx="456.9" cy="525.6" r="3.3"/><circle cx="466.8" cy="517.9" r="3.3"/><circle cx="469.7" cy="548.7" r="3.3"/><circle cx="469.7" cy="562.3" r="3.3"/><circle cx="474.7" cy="581.6" r="3.3"/><circle cx="461.8" cy="613.3" r="3.3"/><circle cx="497.4" cy="590.6" r="3.3"/><circle cx="492.8" cy="602.9" r="3.3"/><circle cx="501.8" cy="612.8" r="3.3"/><circle cx="505.1" cy="591.9" r="3.3"/><circle cx="520.4" cy="639.1" r="3.3"/><circle cx="536.8" cy="624.3" r="3.3"/><circle cx="534.7" cy="646.2" r="3.3"/><circle cx="539.6" cy="647.3" r="3.3"/><circle cx="600.5" cy="587.3" r="3.3"/><circle cx="608.2" cy="567.6" r="3.3"/><circle cx="627.3" cy="573.3" r="3.3"/><circle cx="640.8" cy="599.7" r="3.3"/><circle cx="637.5" cy="622.7" r="3.3"/><circle cx="642.1" cy="623.5" r="3.3"/><circle cx="656.9" cy="615.8" r="3.3"/><circle cx="661.3" cy="655.6" r="3.3"/><circle cx="665.5" cy="641.9" r="3.3"/><circle cx="661.3" cy="672.8" r="3.3"/><circle cx="671.2" cy="681.1" r="3.3"/><circle cx="671.2" cy="700.0" r="3.3"/><circle cx="683.6" cy="631.4" r="3.3"/><circle cx="692.1" cy="693.4" r="3.3"/><circle cx="696.7" cy="641.6" r="3.3"/><circle cx="696.7" cy="644.9" r="3.3"/><circle cx="696.7" cy="712.3" r="3.3"/><circle cx="708.6" cy="659.7" r="3.3"/><circle cx="716.1" cy="714.8" r="3.3"/><circle cx="731.5" cy="610.0" r="3.3"/><circle cx="731.5" cy="641.6" r="3.3"/><circle cx="731.5" cy="674.5" r="3.3"/><circle cx="737.3" cy="617.7" r="3.3"/><circle cx="737.3" cy="623.5" r="3.3"/><circle cx="720.0" cy="712.3" r="3.3"/><circle cx="743.8" cy="709.0" r="3.3"/><circle cx="747.1" cy="709.8" r="3.3"/><circle cx="756.2" cy="642.9" r="3.3"/><circle cx="771.8" cy="617.7" r="3.3"/><circle cx="775.1" cy="669.6" r="3.3"/><circle cx="771.3" cy="687.6" r="3.3"/><circle cx="772.6" cy="725.5" r="3.3"/><circle cx="766.9" cy="730.4" r="3.3"/><circle cx="782.2" cy="681.1" r="3.3"/><circle cx="793.5" cy="700.0" r="3.3"/><circle cx="801.1" cy="610.7" r="3.3"/><circle cx="808.3" cy="612.8" r="3.3"/><circle cx="808.8" cy="642.4" r="3.3"/><circle cx="817.5" cy="595.9" r="3.3"/><circle cx="817.0" cy="670.4" r="3.3"/><circle cx="811.6" cy="695.9" r="3.3"/><circle cx="811.6" cy="702.4" r="3.3"/><circle cx="820.8" cy="700.0" r="3.3"/><circle cx="837.6" cy="619.4" r="3.3"/><circle cx="837.1" cy="679.4" r="3.3"/><circle cx="844.7" cy="709.4" r="3.3"/><circle cx="851.9" cy="623.2" r="3.3"/><circle cx="860.6" cy="623.5" r="3.3"/><circle cx="878.2" cy="718.1" r="3.3"/><circle cx="881.2" cy="737.8" r="3.3"/><circle cx="884.5" cy="743.6" r="3.3"/><circle cx="893.0" cy="676.1" r="3.3"/><circle cx="893.0" cy="701.6" r="3.3"/><circle cx="948.6" cy="668.7" r="3.3"/><circle cx="932.2" cy="778.1" r="3.3"/></g>
<polyline points="209.7,494.4 255.8,512.0 304.3,568.4 326.5,544.6 370.9,555.2 410.9,543.7 448.7,554.8 455.9,562.6 532.2,631.7 615.3,584.0 690.1,675.3 720.0,674.5 729.9,674.5 771.0,679.4 810.5,658.9 846.6,651.5 887.8,712.3 942.0,723.8" fill="none" stroke="#0000ff" stroke-width="2.00" stroke-linejoin="round"/>
<g fill="#ff0000"><circle cx="190.0" cy="503.4" r="3.3"/><circle cx="225.0" cy="536.3" r="3.3"/><circle cx="239.8" cy="535.5" r="3.3"/><circle cx="253.3" cy="459.8" r="3.3"/><circle cx="250.0" cy="473.0" r="3.3"/><circle cx="258.2" cy="491.1" r="3.3"/><circle cx="265.1" cy="479.6" r="3.3"/><circle cx="269.3" cy="503.1" r="3.3"/><circle cx="254.5" cy="584.8" r="3.3"/><circle cx="293.1" cy="524.0" r="3.3"/><circle cx="304.6" cy="540.4" r="3.3"/><circle cx="304.6" cy="565.9" r="3.3"/><circle cx="305.9" cy="582.4" r="3.3"/><circle cx="315.8" cy="547.8" r="3.3"/><circle cx="319.9" cy="556.9" r="3.3"/><circle cx="318.8" cy="593.1" r="3.3"/><circle cx="326.0" cy="506.4" r="3.3"/><circle cx="326.0" cy="530.6" r="3.3"/><circle cx="335.9" cy="496.0" r="3.3"/><circle cx="347.9" cy="520.7" r="3.3"/><circle cx="364.8" cy="492.7" r="3.3"/><circle cx="365.1" cy="550.8" r="3.3"/><circle cx="359.4" cy="598.8" r="3.3"/><circle cx="374.2" cy="601.0" r="3.3"/><circle cx="378.3" cy="564.3" r="3.3"/><circle cx="382.9" cy="491.9" r="3.3"/><circle cx="389.5" cy="489.5" r="3.3"/><circle cx="386.9" cy="589.0" r="3.3"/><circle cx="395.6" cy="496.0" r="3.3"/><circle cx="401.7" cy="575.8" r="3.3"/><circle cx="413.3" cy="491.9" r="3.3"/><circle cx="419.1" cy="498.5" r="3.3"/><circle cx="423.5" cy="533.0" r="3.3"/><circle cx="429.0" cy="564.3" r="3.3"/><circle cx="434.2" cy="566.8" r="3.3"/><circle cx="440.8" cy="491.9" r="3.3"/><circle cx="440.8" cy="527.8" r="3.3"/><circle cx="440.8" cy="601.8" r="3.3"/><circle cx="456.9" cy="512.5" r="3.3"/><circle cx="456.9" cy="523.2" r="3.3"/><circle cx="466.8" cy="527.8" r="3.3"/><circle cx="469.7" cy="540.4" r="3.3"/><circle cx="474.7" cy="589.3" r="3.3"/><circle cx="476.3" cy="612.0" r="3.3"/><circle cx="494.1" cy="579.9" r="3.3"/><circle cx="492.8" cy="611.2" r="3.3"/><circle cx="497.4" cy="614.5" r="3.3"/><circle cx="505.1" cy="598.0" r="3.3"/><circle cx="517.8" cy="614.0" r="3.3"/><circle cx="520.4" cy="641.6" r="3.3"/><circle cx="544.6" cy="621.0" r="3.3"/><circle cx="539.6" cy="649.0" r="3.3"/><circle cx="600.5" cy="581.6" r="3.3"/><circle cx="608.2" cy="563.5" r="3.3"/><circle cx="627.3" cy="569.2" r="3.3"/><circle cx="640.8" cy="592.2" r="3.3"/><circle cx="637.5" cy="606.7" r="3.3"/><circle cx="642.1" cy="607.1" r="3.3"/><circle cx="656.9" cy="607.1" r="3.3"/><circle cx="665.5" cy="644.1" r="3.3"/><circle cx="661.3" cy="677.0" r="3.3"/><circle cx="671.2" cy="677.0" r="3.3"/><circle cx="671.2" cy="695.0" r="3.3"/><circle cx="683.6" cy="622.7" r="3.3"/><circle cx="685.2" cy="709.8" r="3.3"/><circle cx="692.1" cy="688.5" r="3.3"/><circle cx="692.1" cy="700.0" r="3.3"/><circle cx="696.7" cy="633.4" r="3.3"/><circle cx="696.7" cy="652.3" r="3.3"/><circle cx="696.7" cy="715.6" r="3.3"/><circle cx="708.6" cy="669.2" r="3.3"/><circle cx="716.1" cy="723.0" r="3.3"/><circle cx="716.1" cy="734.0" r="3.3"/><circle cx="731.5" cy="613.6" r="3.3"/><circle cx="731.5" cy="681.9" r="3.3"/><circle cx="729.5" cy="687.6" r="3.3"/><circle cx="720.0" cy="722.2" r="3.3"/><circle cx="733.2" cy="720.5" r="3.3"/><circle cx="743.8" cy="727.9" r="3.3"/><circle cx="747.1" cy="727.1" r="3.3"/><circle cx="756.2" cy="653.1" r="3.3"/><circle cx="771.8" cy="635.0" r="3.3"/><circle cx="775.1" cy="677.0" r="3.3"/><circle cx="771.3" cy="699.2" r="3.3"/><circle cx="766.9" cy="736.2" r="3.3"/><circle cx="782.2" cy="702.4" r="3.3"/><circle cx="793.5" cy="704.9" r="3.3"/><circle cx="801.1" cy="628.4" r="3.3"/><circle cx="808.3" cy="622.7" r="3.3"/><circle cx="808.8" cy="648.2" r="3.3"/><circle cx="817.0" cy="677.8" r="3.3"/><circle cx="811.6" cy="704.1" r="3.3"/><circle cx="820.8" cy="709.0" r="3.3"/><circle cx="837.6" cy="623.5" r="3.3"/><circle cx="837.1" cy="677.0" r="3.3"/><circle cx="844.7" cy="713.1" r="3.3"/><circle cx="851.9" cy="635.8" r="3.3"/><circle cx="860.6" cy="636.7" r="3.3"/><circle cx="878.2" cy="723.0" r="3.3"/><circle cx="884.5" cy="746.9" r="3.3"/><circle cx="893.0" cy="691.8" r="3.3"/><circle cx="893.0" cy="698.3" r="3.3"/><circle cx="948.6" cy="685.2" r="3.3"/><circle cx="932.2" cy="776.5" r="3.3"/></g>
<polyline points="209.7,489.9 255.8,501.8 305.1,561.0 326.5,537.6 370.9,543.7 410.9,535.5 448.7,552.4 455.9,559.4 532.2,633.4 615.3,583.2 690.1,677.0 720.0,682.2 729.9,683.5 771.0,689.3 810.5,667.9 846.6,657.2 887.8,719.7 942.0,731.2" fill="none" stroke="#ff0000" stroke-width="2.00" stroke-linejoin="round"/>
<g fill="#000000"><circle cx="190.0" cy="518.2" r="3.3"/><circle cx="225.0" cy="533.9" r="3.3"/><circle cx="239.8" cy="542.9" r="3.3"/><circle cx="253.3" cy="457.4" r="3.3"/><circle cx="250.0" cy="471.4" r="3.3"/><circle cx="258.2" cy="487.8" r="3.3"/><circle cx="265.1" cy="476.3" r="3.3"/><circle cx="269.3" cy="497.2" r="3.3"/><circle cx="254.5" cy="583.2" r="3.3"/><circle cx="293.1" cy="526.1" r="3.3"/><circle cx="304.6" cy="544.9" r="3.3"/><circle cx="305.9" cy="584.8" r="3.3"/><circle cx="308.9" cy="589.0" r="3.3"/><circle cx="315.8" cy="549.5" r="3.3"/><circle cx="318.8" cy="584.8" r="3.3"/><circle cx="326.0" cy="500.1" r="3.3"/><circle cx="326.0" cy="522.3" r="3.3"/><circle cx="335.9" cy="493.9" r="3.3"/><circle cx="347.9" cy="524.0" r="3.3"/><circle cx="352.0" cy="520.7" r="3.3"/><circle cx="364.8" cy="489.5" r="3.3"/><circle cx="364.8" cy="515.8" r="3.3"/><circle cx="365.1" cy="552.8" r="3.3"/><circle cx="359.4" cy="603.8" r="3.3"/><circle cx="374.2" cy="597.2" r="3.3"/><circle cx="378.3" cy="568.4" r="3.3"/><circle cx="382.9" cy="494.4" r="3.3"/><circle cx="382.9" cy="522.3" r="3.3"/><circle cx="389.5" cy="491.9" r="3.3"/><circle cx="386.9" cy="591.4" r="3.3"/><circle cx="392.8" cy="608.4" r="3.3"/><circle cx="395.6" cy="497.7" r="3.3"/><circle cx="401.7" cy="527.8" r="3.3"/><circle cx="401.7" cy="580.4" r="3.3"/><circle cx="413.3" cy="496.5" r="3.3"/><circle cx="419.1" cy="501.8" r="3.3"/><circle cx="423.5" cy="526.1" r="3.3"/><circle cx="429.0" cy="559.0" r="3.3"/><circle cx="429.0" cy="596.4" r="3.3"/><circle cx="434.2" cy="561.8" r="3.3"/><circle cx="434.2" cy="614.0" r="3.3"/><circle cx="440.8" cy="493.9" r="3.3"/><circle cx="440.8" cy="521.0" r="3.3"/><circle cx="440.8" cy="598.0" r="3.3"/><circle cx="456.9" cy="507.5" r="3.3"/><circle cx="456.9" cy="516.6" r="3.3"/><circle cx="466.8" cy="519.1" r="3.3"/><circle cx="469.7" cy="537.2" r="3.3"/><circle cx="469.7" cy="559.7" r="3.3"/><circle cx="474.7" cy="585.7" r="3.3"/><circle cx="461.8" cy="612.0" r="3.3"/><circle cx="476.3" cy="610.0" r="3.3"/><circle cx="494.1" cy="575.8" r="3.3"/><circle cx="497.4" cy="594.7" r="3.3"/><circle cx="492.8" cy="603.8" r="3.3"/><circle cx="497.4" cy="605.4" r="3.3"/><circle cx="501.8" cy="611.7" r="3.3"/><circle cx="505.1" cy="593.1" r="3.3"/><circle cx="517.8" cy="612.8" r="3.3"/><circle cx="520.4" cy="639.9" r="3.3"/><circle cx="536.8" cy="626.0" r="3.3"/><circle cx="544.6" cy="622.7" r="3.3"/><circle cx="534.7" cy="648.2" r="3.3"/><circle cx="539.6" cy="650.6" r="3.3"/><circle cx="569.7" cy="613.3" r="3.3"/><circle cx="600.5" cy="577.4" r="3.3"/><circle cx="600.5" cy="586.5" r="3.3"/><circle cx="608.2" cy="565.1" r="3.3"/><circle cx="627.3" cy="572.2" r="3.3"/><circle cx="627.3" cy="593.1" r="3.3"/><circle cx="627.3" cy="602.1" r="3.3"/><circle cx="640.8" cy="599.7" r="3.3"/><circle cx="637.5" cy="615.3" r="3.3"/><circle cx="642.1" cy="616.9" r="3.3"/><circle cx="656.9" cy="614.9" r="3.3"/><circle cx="661.3" cy="658.0" r="3.3"/><circle cx="661.3" cy="679.4" r="3.3"/><circle cx="671.2" cy="684.4" r="3.3"/><circle cx="671.2" cy="702.4" r="3.3"/><circle cx="683.6" cy="627.1" r="3.3"/><circle cx="685.2" cy="714.5" r="3.3"/><circle cx="692.1" cy="696.7" r="3.3"/><circle cx="692.1" cy="705.7" r="3.3"/><circle cx="696.7" cy="636.3" r="3.3"/><circle cx="696.7" cy="656.4" r="3.3"/><circle cx="696.7" cy="718.9" r="3.3"/><circle cx="708.6" cy="675.3" r="3.3"/><circle cx="716.1" cy="721.4" r="3.3"/><circle cx="716.1" cy="728.8" r="3.3"/><circle cx="731.5" cy="616.1" r="3.3"/><circle cx="731.5" cy="650.6" r="3.3"/><circle cx="731.5" cy="684.4" r="3.3"/><circle cx="729.5" cy="694.2" r="3.3"/><circle cx="737.3" cy="630.1" r="3.3"/><circle cx="737.3" cy="633.4" r="3.3"/><circle cx="733.2" cy="718.9" r="3.3"/><circle cx="743.8" cy="725.5" r="3.3"/><circle cx="747.1" cy="723.0" r="3.3"/><circle cx="756.2" cy="651.1" r="3.3"/><circle cx="771.8" cy="632.5" r="3.3"/><circle cx="775.1" cy="672.8" r="3.3"/><circle cx="771.3" cy="695.9" r="3.3"/><circle cx="772.6" cy="735.0" r="3.3"/><circle cx="766.9" cy="732.9" r="3.3"/><circle cx="782.2" cy="703.8" r="3.3"/><circle cx="793.5" cy="701.6" r="3.3"/><circle cx="801.1" cy="624.8" r="3.3"/><circle cx="808.3" cy="630.1" r="3.3"/><circle cx="808.8" cy="645.7" r="3.3"/><circle cx="817.5" cy="616.9" r="3.3"/><circle cx="817.0" cy="673.7" r="3.3"/><circle cx="811.6" cy="705.7" r="3.3"/><circle cx="811.6" cy="714.0" r="3.3"/><circle cx="820.8" cy="717.2" r="3.3"/><circle cx="837.6" cy="630.1" r="3.3"/><circle cx="837.1" cy="670.4" r="3.3"/><circle cx="844.7" cy="715.6" r="3.3"/><circle cx="851.9" cy="637.5" r="3.3"/><circle cx="860.6" cy="639.1" r="3.3"/><circle cx="878.2" cy="725.5" r="3.3"/><circle cx="881.2" cy="738.6" r="3.3"/><circle cx="884.5" cy="749.3" r="3.3"/><circle cx="893.0" cy="689.3" r="3.3"/><circle cx="893.0" cy="703.8" r="3.3"/><circle cx="893.0" cy="718.1" r="3.3"/><circle cx="948.6" cy="682.7" r="3.3"/><circle cx="932.2" cy="774.0" r="3.3"/></g>
<polyline points="209.7,491.9 255.8,502.6 305.1,559.4 326.5,535.5 370.9,544.9 410.9,534.7 448.7,550.1 455.9,556.1 532.2,632.5 615.3,582.4 689.3,681.9 720.0,683.5 729.9,684.4 771.0,690.1 810.5,669.6 846.6,658.9 887.8,720.5 942.0,728.8" fill="none" stroke="#000000" stroke-width="2.00" stroke-linejoin="round"/>
</g>
<rect x="174.80" y="434.90" width="809.10" height="353.10" fill="none" stroke="#000" stroke-width="3.50"/>
<path d="M203.01 434.90V450.70M203.01 788.00V772.20M391.23 434.90V450.70M391.23 788.00V772.20M579.45 434.90V450.70M579.45 788.00V772.20M767.67 434.90V450.70M767.67 788.00V772.20M955.89 434.90V450.70M955.89 788.00V772.20" stroke="#000" stroke-width="3.50" fill="none"/>
<path d="M174.80 469.95H190.60M983.90 469.95H968.10M174.80 540.70H190.60M983.90 540.70H968.10M174.80 611.45H190.60M983.90 611.45H968.10M174.80 682.20H190.60M983.90 682.20H968.10M174.80 752.95H190.60M983.90 752.95H968.10" stroke="#000" stroke-width="3.50" fill="none"/>
<text transform="translate(93.39 482.03) scale(1.0482 1)" font-size="35.60" fill="#000">0.04</text>
<text transform="translate(93.36 552.78) scale(1.0732 1)" font-size="35.60" fill="#000">0.02</text>
<text transform="translate(141.36 623.53) scale(1.0190 1)" font-size="35.60" fill="#000">0</text>
<text transform="translate(64.61 696.83) scale(1.3831 1)" font-size="35.60" fill="#000">−</text>
<text transform="translate(93.36 694.28) scale(1.0732 1)" font-size="35.60" fill="#000">0.02</text>
<text transform="translate(64.61 767.58) scale(1.3831 1)" font-size="35.60" fill="#000">−</text>
<text transform="translate(93.39 765.03) scale(1.0482 1)" font-size="35.60" fill="#000">0.04</text>
<clipPath id="cR1"><rect x="1024.50" y="434.90" width="809.00" height="353.10"/></clipPath>
<g clip-path="url(#cR1)">
<g fill="#008000"><circle cx="1067.1" cy="551.1" r="3.3"/><circle cx="1075.0" cy="571.2" r="3.3"/><circle cx="1089.7" cy="613.6" r="3.3"/><circle cx="1099.7" cy="590.6" r="3.3"/><circle cx="1103.0" cy="571.2" r="3.3"/><circle cx="1108.2" cy="609.5" r="3.3"/><circle cx="1114.8" cy="584.0" r="3.3"/><circle cx="1118.9" cy="604.1" r="3.3"/><circle cx="1143.1" cy="570.9" r="3.3"/><circle cx="1154.6" cy="528.9" r="3.3"/><circle cx="1156.9" cy="489.9" r="3.3"/><circle cx="1156.9" cy="536.7" r="3.3"/><circle cx="1159.2" cy="573.3" r="3.3"/><circle cx="1168.3" cy="485.3" r="3.3"/><circle cx="1165.8" cy="578.3" r="3.3"/><circle cx="1165.8" cy="608.7" r="3.3"/><circle cx="1176.0" cy="596.4" r="3.3"/><circle cx="1185.5" cy="605.4" r="3.3"/><circle cx="1197.9" cy="599.7" r="3.3"/><circle cx="1201.7" cy="606.2" r="3.3"/><circle cx="1209.1" cy="512.0" r="3.3"/><circle cx="1216.0" cy="575.5" r="3.3"/><circle cx="1216.0" cy="614.9" r="3.3"/><circle cx="1223.9" cy="513.0" r="3.3"/><circle cx="1228.0" cy="553.1" r="3.3"/><circle cx="1236.5" cy="531.1" r="3.3"/><circle cx="1242.3" cy="503.8" r="3.3"/><circle cx="1239.5" cy="627.6" r="3.3"/><circle cx="1245.6" cy="627.1" r="3.3"/><circle cx="1251.3" cy="544.2" r="3.3"/><circle cx="1262.8" cy="623.8" r="3.3"/><circle cx="1268.1" cy="618.6" r="3.3"/><circle cx="1269.4" cy="612.8" r="3.3"/><circle cx="1272.7" cy="587.0" r="3.3"/><circle cx="1278.5" cy="524.0" r="3.3"/><circle cx="1278.5" cy="562.6" r="3.3"/><circle cx="1282.9" cy="488.3" r="3.3"/><circle cx="1290.5" cy="531.7" r="3.3"/><circle cx="1290.5" cy="601.3" r="3.3"/><circle cx="1306.6" cy="567.6" r="3.3"/><circle cx="1306.6" cy="575.0" r="3.3"/><circle cx="1311.5" cy="525.6" r="3.3"/><circle cx="1316.4" cy="560.2" r="3.3"/><circle cx="1316.4" cy="577.4" r="3.3"/><circle cx="1324.7" cy="561.0" r="3.3"/><circle cx="1326.3" cy="517.4" r="3.3"/><circle cx="1343.6" cy="552.8" r="3.3"/><circle cx="1343.6" cy="579.4" r="3.3"/><circle cx="1346.9" cy="538.8" r="3.3"/><circle cx="1354.3" cy="576.6" r="3.3"/><circle cx="1369.9" cy="561.8" r="3.3"/><circle cx="1383.9" cy="555.7" r="3.3"/><circle cx="1419.2" cy="575.8" r="3.3"/><circle cx="1457.6" cy="552.0" r="3.3"/><circle cx="1476.8" cy="548.7" r="3.3"/><circle cx="1476.8" cy="559.4" r="3.3"/><circle cx="1487.5" cy="542.9" r="3.3"/><circle cx="1487.5" cy="577.4" r="3.3"/><circle cx="1490.8" cy="538.0" r="3.3"/><circle cx="1506.4" cy="579.1" r="3.3"/><circle cx="1511.0" cy="565.1" r="3.3"/><circle cx="1515.1" cy="571.7" r="3.3"/><circle cx="1520.7" cy="554.4" r="3.3"/><circle cx="1520.7" cy="560.2" r="3.3"/><circle cx="1533.2" cy="543.7" r="3.3"/><circle cx="1542.1" cy="572.2" r="3.3"/><circle cx="1546.7" cy="561.0" r="3.3"/><circle cx="1557.9" cy="568.4" r="3.3"/><circle cx="1566.1" cy="607.9" r="3.3"/><circle cx="1566.1" cy="619.4" r="3.3"/><circle cx="1581.2" cy="489.5" r="3.3"/><circle cx="1586.8" cy="527.8" r="3.3"/><circle cx="1586.8" cy="542.1" r="3.3"/><circle cx="1579.9" cy="590.6" r="3.3"/><circle cx="1593.8" cy="628.4" r="3.3"/><circle cx="1596.6" cy="623.5" r="3.3"/><circle cx="1605.9" cy="550.3" r="3.3"/><circle cx="1621.5" cy="525.6" r="3.3"/><circle cx="1625.1" cy="579.1" r="3.3"/><circle cx="1631.7" cy="610.7" r="3.3"/><circle cx="1643.2" cy="598.8" r="3.3"/><circle cx="1650.6" cy="510.8" r="3.3"/><circle cx="1658.0" cy="496.9" r="3.3"/><circle cx="1658.5" cy="550.3" r="3.3"/><circle cx="1667.0" cy="492.7" r="3.3"/><circle cx="1666.2" cy="581.6" r="3.3"/><circle cx="1662.1" cy="591.4" r="3.3"/><circle cx="1687.1" cy="517.9" r="3.3"/><circle cx="1686.4" cy="577.8" r="3.3"/><circle cx="1701.6" cy="554.1" r="3.3"/><circle cx="1710.6" cy="562.6" r="3.3"/><circle cx="1730.9" cy="587.0" r="3.3"/><circle cx="1730.9" cy="604.6" r="3.3"/><circle cx="1734.5" cy="575.5" r="3.3"/><circle cx="1741.9" cy="520.7" r="3.3"/><circle cx="1742.7" cy="611.2" r="3.3"/><circle cx="1782.2" cy="560.2" r="3.3"/><circle cx="1798.3" cy="585.7" r="3.3"/></g>
<polyline points="1059.7,570.0 1105.8,592.2 1153.5,539.9 1175.7,583.2 1216.8,575.5 1260.4,584.8 1298.7,555.5 1305.9,556.1 1382.2,567.6 1419.2,575.8 1464.5,561.8 1497.4,561.8 1538.5,565.9 1570.0,576.6 1579.9,580.7 1620.2,587.0 1659.6,561.3 1696.6,558.0 1736.9,584.8 1791.2,572.5" fill="none" stroke="#008000" stroke-width="2.00" stroke-linejoin="round"/>
<g fill="#0000ff"><circle cx="1039.7" cy="591.4" r="3.3"/><circle cx="1075.0" cy="527.8" r="3.3"/><circle cx="1089.7" cy="585.7" r="3.3"/><circle cx="1099.7" cy="582.4" r="3.3"/><circle cx="1103.0" cy="561.0" r="3.3"/><circle cx="1108.2" cy="601.8" r="3.3"/><circle cx="1114.8" cy="566.8" r="3.3"/><circle cx="1118.9" cy="585.3" r="3.3"/><circle cx="1156.9" cy="504.8" r="3.3"/><circle cx="1156.9" cy="539.6" r="3.3"/><circle cx="1168.3" cy="494.9" r="3.3"/><circle cx="1165.8" cy="583.2" r="3.3"/><circle cx="1165.8" cy="604.6" r="3.3"/><circle cx="1176.0" cy="618.2" r="3.3"/><circle cx="1185.5" cy="610.3" r="3.3"/><circle cx="1197.9" cy="609.5" r="3.3"/><circle cx="1201.7" cy="616.6" r="3.3"/><circle cx="1209.1" cy="528.1" r="3.3"/><circle cx="1216.0" cy="593.9" r="3.3"/><circle cx="1216.0" cy="632.1" r="3.3"/><circle cx="1223.9" cy="526.8" r="3.3"/><circle cx="1228.0" cy="564.0" r="3.3"/><circle cx="1232.9" cy="610.3" r="3.3"/><circle cx="1236.5" cy="536.3" r="3.3"/><circle cx="1242.3" cy="533.9" r="3.3"/><circle cx="1239.5" cy="616.9" r="3.3"/><circle cx="1245.6" cy="636.7" r="3.3"/><circle cx="1251.3" cy="552.0" r="3.3"/><circle cx="1262.8" cy="635.8" r="3.3"/><circle cx="1268.1" cy="612.0" r="3.3"/><circle cx="1269.4" cy="609.5" r="3.3"/><circle cx="1272.7" cy="583.2" r="3.3"/><circle cx="1278.5" cy="538.0" r="3.3"/><circle cx="1282.9" cy="521.9" r="3.3"/><circle cx="1282.9" cy="559.4" r="3.3"/><circle cx="1290.5" cy="551.5" r="3.3"/><circle cx="1290.5" cy="619.4" r="3.3"/><circle cx="1290.8" cy="586.0" r="3.3"/><circle cx="1306.6" cy="579.9" r="3.3"/><circle cx="1306.6" cy="587.6" r="3.3"/><circle cx="1311.5" cy="540.4" r="3.3"/><circle cx="1316.4" cy="576.6" r="3.3"/><circle cx="1319.4" cy="583.7" r="3.3"/><circle cx="1324.7" cy="573.8" r="3.3"/><circle cx="1343.6" cy="566.8" r="3.3"/><circle cx="1343.6" cy="587.0" r="3.3"/><circle cx="1346.9" cy="552.0" r="3.3"/><circle cx="1346.9" cy="586.5" r="3.3"/><circle cx="1354.3" cy="586.0" r="3.3"/><circle cx="1369.9" cy="574.5" r="3.3"/><circle cx="1383.9" cy="561.8" r="3.3"/><circle cx="1388.8" cy="554.1" r="3.3"/><circle cx="1393.8" cy="557.7" r="3.3"/><circle cx="1393.8" cy="580.7" r="3.3"/><circle cx="1419.2" cy="550.8" r="3.3"/><circle cx="1450.0" cy="555.7" r="3.3"/><circle cx="1457.6" cy="561.8" r="3.3"/><circle cx="1476.8" cy="564.3" r="3.3"/><circle cx="1487.5" cy="557.7" r="3.3"/><circle cx="1490.8" cy="552.0" r="3.3"/><circle cx="1488.3" cy="589.0" r="3.3"/><circle cx="1506.4" cy="588.6" r="3.3"/><circle cx="1511.0" cy="575.8" r="3.3"/><circle cx="1515.1" cy="583.2" r="3.3"/><circle cx="1520.7" cy="566.8" r="3.3"/><circle cx="1533.2" cy="561.0" r="3.3"/><circle cx="1533.2" cy="589.8" r="3.3"/><circle cx="1542.1" cy="581.6" r="3.3"/><circle cx="1546.7" cy="567.2" r="3.3"/><circle cx="1546.7" cy="574.2" r="3.3"/><circle cx="1557.9" cy="575.8" r="3.3"/><circle cx="1566.1" cy="610.0" r="3.3"/><circle cx="1566.1" cy="634.2" r="3.3"/><circle cx="1581.2" cy="522.3" r="3.3"/><circle cx="1581.2" cy="552.0" r="3.3"/><circle cx="1586.8" cy="535.5" r="3.3"/><circle cx="1586.8" cy="545.9" r="3.3"/><circle cx="1579.9" cy="584.8" r="3.3"/><circle cx="1582.8" cy="603.8" r="3.3"/><circle cx="1596.6" cy="627.6" r="3.3"/><circle cx="1605.9" cy="553.6" r="3.3"/><circle cx="1621.5" cy="531.7" r="3.3"/><circle cx="1625.1" cy="598.0" r="3.3"/><circle cx="1616.1" cy="616.1" r="3.3"/><circle cx="1622.6" cy="626.8" r="3.3"/><circle cx="1631.7" cy="619.4" r="3.3"/><circle cx="1650.6" cy="527.8" r="3.3"/><circle cx="1658.0" cy="503.4" r="3.3"/><circle cx="1658.5" cy="567.6" r="3.3"/><circle cx="1667.0" cy="504.3" r="3.3"/><circle cx="1661.0" cy="617.7" r="3.3"/><circle cx="1670.3" cy="619.4" r="3.3"/><circle cx="1687.1" cy="524.5" r="3.3"/><circle cx="1686.4" cy="590.6" r="3.3"/><circle cx="1694.2" cy="577.1" r="3.3"/><circle cx="1730.9" cy="583.2" r="3.3"/><circle cx="1730.9" cy="598.8" r="3.3"/><circle cx="1734.5" cy="563.0" r="3.3"/><circle cx="1741.9" cy="531.4" r="3.3"/><circle cx="1742.7" cy="585.7" r="3.3"/><circle cx="1742.7" cy="589.0" r="3.3"/><circle cx="1782.2" cy="566.8" r="3.3"/><circle cx="1798.3" cy="542.1" r="3.3"/></g>
<polyline points="1059.7,554.1 1105.8,575.8 1153.5,549.5 1175.7,588.1 1220.9,584.8 1260.4,589.8 1298.7,569.5 1305.9,569.2 1339.5,570.9 1382.2,569.2 1419.2,550.8 1462.8,566.8 1505.6,574.2 1538.5,578.3 1570.0,582.4 1579.9,584.8 1620.2,593.1 1659.6,570.0 1701.6,561.8 1736.9,575.5 1791.2,554.4" fill="none" stroke="#0000ff" stroke-width="2.00" stroke-linejoin="round"/>
<g fill="#ff0000"><circle cx="1039.7" cy="586.5" r="3.3"/><circle cx="1067.1" cy="544.6" r="3.3"/><circle cx="1075.0" cy="539.9" r="3.3"/><circle cx="1089.7" cy="572.5" r="3.3"/><circle cx="1099.7" cy="557.7" r="3.3"/><circle cx="1103.0" cy="541.3" r="3.3"/><circle cx="1108.2" cy="569.2" r="3.3"/><circle cx="1114.8" cy="554.1" r="3.3"/><circle cx="1118.9" cy="568.9" r="3.3"/><circle cx="1143.1" cy="574.2" r="3.3"/><circle cx="1154.6" cy="538.0" r="3.3"/><circle cx="1154.6" cy="587.3" r="3.3"/><circle cx="1156.9" cy="514.6" r="3.3"/><circle cx="1159.2" cy="542.9" r="3.3"/><circle cx="1168.3" cy="509.7" r="3.3"/><circle cx="1165.8" cy="590.6" r="3.3"/><circle cx="1169.9" cy="591.9" r="3.3"/><circle cx="1176.0" cy="612.0" r="3.3"/><circle cx="1201.7" cy="611.2" r="3.3"/><circle cx="1209.1" cy="522.8" r="3.3"/><circle cx="1216.0" cy="606.2" r="3.3"/><circle cx="1216.0" cy="623.5" r="3.3"/><circle cx="1223.9" cy="538.3" r="3.3"/><circle cx="1228.0" cy="567.2" r="3.3"/><circle cx="1232.9" cy="605.4" r="3.3"/><circle cx="1232.9" cy="615.3" r="3.3"/><circle cx="1236.5" cy="552.0" r="3.3"/><circle cx="1242.3" cy="558.5" r="3.3"/><circle cx="1239.5" cy="619.4" r="3.3"/><circle cx="1245.6" cy="633.0" r="3.3"/><circle cx="1251.3" cy="557.4" r="3.3"/><circle cx="1253.0" cy="599.7" r="3.3"/><circle cx="1262.8" cy="638.0" r="3.3"/><circle cx="1268.1" cy="626.8" r="3.3"/><circle cx="1269.4" cy="626.5" r="3.3"/><circle cx="1272.7" cy="595.2" r="3.3"/><circle cx="1278.5" cy="557.7" r="3.3"/><circle cx="1282.9" cy="547.5" r="3.3"/><circle cx="1279.0" cy="590.6" r="3.3"/><circle cx="1283.9" cy="583.2" r="3.3"/><circle cx="1290.5" cy="564.0" r="3.3"/><circle cx="1290.5" cy="599.2" r="3.3"/><circle cx="1306.6" cy="595.9" r="3.3"/><circle cx="1311.5" cy="538.0" r="3.3"/><circle cx="1316.4" cy="590.9" r="3.3"/><circle cx="1319.4" cy="602.9" r="3.3"/><circle cx="1324.7" cy="587.0" r="3.3"/><circle cx="1326.3" cy="536.3" r="3.3"/><circle cx="1343.6" cy="581.6" r="3.3"/><circle cx="1343.6" cy="596.4" r="3.3"/><circle cx="1346.9" cy="569.6" r="3.3"/><circle cx="1354.3" cy="595.5" r="3.3"/><circle cx="1367.4" cy="591.4" r="3.3"/><circle cx="1369.9" cy="584.8" r="3.3"/><circle cx="1383.9" cy="572.5" r="3.3"/><circle cx="1388.8" cy="561.8" r="3.3"/><circle cx="1419.2" cy="553.1" r="3.3"/><circle cx="1450.0" cy="559.4" r="3.3"/><circle cx="1457.6" cy="572.2" r="3.3"/><circle cx="1476.8" cy="576.6" r="3.3"/><circle cx="1487.5" cy="600.5" r="3.3"/><circle cx="1490.8" cy="570.0" r="3.3"/><circle cx="1506.4" cy="600.5" r="3.3"/><circle cx="1511.0" cy="590.6" r="3.3"/><circle cx="1520.7" cy="583.2" r="3.3"/><circle cx="1533.2" cy="571.2" r="3.3"/><circle cx="1533.2" cy="604.6" r="3.3"/><circle cx="1542.1" cy="596.4" r="3.3"/><circle cx="1546.7" cy="587.0" r="3.3"/><circle cx="1546.7" cy="614.9" r="3.3"/><circle cx="1557.9" cy="599.7" r="3.3"/><circle cx="1581.2" cy="540.9" r="3.3"/><circle cx="1581.2" cy="568.4" r="3.3"/><circle cx="1586.8" cy="555.7" r="3.3"/><circle cx="1586.8" cy="567.2" r="3.3"/><circle cx="1579.9" cy="592.2" r="3.3"/><circle cx="1579.9" cy="595.5" r="3.3"/><circle cx="1582.8" cy="613.3" r="3.3"/><circle cx="1593.8" cy="635.0" r="3.3"/><circle cx="1596.6" cy="630.1" r="3.3"/><circle cx="1605.9" cy="564.6" r="3.3"/><circle cx="1621.5" cy="550.3" r="3.3"/><circle cx="1621.0" cy="605.4" r="3.3"/><circle cx="1616.1" cy="617.7" r="3.3"/><circle cx="1622.6" cy="619.4" r="3.3"/><circle cx="1631.7" cy="601.3" r="3.3"/><circle cx="1643.2" cy="607.9" r="3.3"/><circle cx="1650.6" cy="522.8" r="3.3"/><circle cx="1658.0" cy="517.4" r="3.3"/><circle cx="1658.5" cy="556.9" r="3.3"/><circle cx="1667.0" cy="509.7" r="3.3"/><circle cx="1666.2" cy="590.3" r="3.3"/><circle cx="1661.0" cy="615.3" r="3.3"/><circle cx="1670.3" cy="616.1" r="3.3"/><circle cx="1687.1" cy="531.1" r="3.3"/><circle cx="1686.4" cy="593.1" r="3.3"/><circle cx="1701.6" cy="549.5" r="3.3"/><circle cx="1694.2" cy="568.9" r="3.3"/><circle cx="1710.6" cy="556.1" r="3.3"/><circle cx="1730.9" cy="563.5" r="3.3"/><circle cx="1730.9" cy="570.0" r="3.3"/><circle cx="1734.5" cy="545.9" r="3.3"/><circle cx="1741.9" cy="534.4" r="3.3"/><circle cx="1742.7" cy="572.2" r="3.3"/><circle cx="1782.2" cy="565.1" r="3.3"/><circle cx="1798.3" cy="545.4" r="3.3"/></g>
<polyline points="1059.7,557.4 1105.8,559.0 1153.5,551.5 1175.7,588.1 1220.9,582.9 1260.4,600.5 1298.7,583.9 1305.9,583.7 1339.5,584.8 1383.9,576.6 1419.2,552.8 1462.8,575.0 1505.6,590.6 1538.5,594.7 1570.0,595.5 1579.9,596.4 1620.2,593.1 1659.6,570.0 1696.6,559.7 1736.9,559.4 1791.2,556.1" fill="none" stroke="#ff0000" stroke-width="2.00" stroke-linejoin="round"/>
<g fill="#000000"><circle cx="1039.7" cy="568.4" r="3.3"/><circle cx="1067.1" cy="539.9" r="3.3"/><circle cx="1075.0" cy="542.6" r="3.3"/><circle cx="1089.7" cy="562.3" r="3.3"/><circle cx="1099.7" cy="565.1" r="3.3"/><circle cx="1103.0" cy="548.3" r="3.3"/><circle cx="1103.0" cy="550.3" r="3.3"/><circle cx="1108.2" cy="572.2" r="3.3"/><circle cx="1114.8" cy="547.8" r="3.3"/><circle cx="1118.9" cy="563.5" r="3.3"/><circle cx="1143.1" cy="578.3" r="3.3"/><circle cx="1154.6" cy="547.0" r="3.3"/><circle cx="1154.6" cy="591.9" r="3.3"/><circle cx="1156.9" cy="519.9" r="3.3"/><circle cx="1159.2" cy="550.3" r="3.3"/><circle cx="1168.3" cy="513.6" r="3.3"/><circle cx="1165.8" cy="584.8" r="3.3"/><circle cx="1165.8" cy="589.0" r="3.3"/><circle cx="1165.8" cy="591.4" r="3.3"/><circle cx="1169.9" cy="591.4" r="3.3"/><circle cx="1176.0" cy="598.0" r="3.3"/><circle cx="1176.0" cy="610.3" r="3.3"/><circle cx="1185.5" cy="609.0" r="3.3"/><circle cx="1197.9" cy="611.2" r="3.3"/><circle cx="1201.7" cy="613.6" r="3.3"/><circle cx="1209.1" cy="534.2" r="3.3"/><circle cx="1216.0" cy="587.3" r="3.3"/><circle cx="1216.0" cy="612.0" r="3.3"/><circle cx="1216.0" cy="626.0" r="3.3"/><circle cx="1223.9" cy="541.3" r="3.3"/><circle cx="1228.0" cy="577.1" r="3.3"/><circle cx="1232.9" cy="610.0" r="3.3"/><circle cx="1232.9" cy="620.5" r="3.3"/><circle cx="1236.5" cy="561.3" r="3.3"/><circle cx="1242.3" cy="571.4" r="3.3"/><circle cx="1239.5" cy="626.0" r="3.3"/><circle cx="1245.6" cy="639.9" r="3.3"/><circle cx="1251.3" cy="569.2" r="3.3"/><circle cx="1253.0" cy="605.4" r="3.3"/><circle cx="1262.8" cy="641.3" r="3.3"/><circle cx="1268.1" cy="628.4" r="3.3"/><circle cx="1269.4" cy="627.6" r="3.3"/><circle cx="1272.7" cy="602.1" r="3.3"/><circle cx="1278.5" cy="566.8" r="3.3"/><circle cx="1282.9" cy="563.5" r="3.3"/><circle cx="1279.0" cy="603.4" r="3.3"/><circle cx="1283.9" cy="595.5" r="3.3"/><circle cx="1290.5" cy="574.2" r="3.3"/><circle cx="1290.5" cy="605.1" r="3.3"/><circle cx="1290.5" cy="627.6" r="3.3"/><circle cx="1306.6" cy="605.4" r="3.3"/><circle cx="1306.6" cy="611.2" r="3.3"/><circle cx="1311.5" cy="556.9" r="3.3"/><circle cx="1316.4" cy="598.5" r="3.3"/><circle cx="1319.4" cy="608.7" r="3.3"/><circle cx="1319.4" cy="613.3" r="3.3"/><circle cx="1324.7" cy="554.8" r="3.3"/><circle cx="1324.7" cy="592.2" r="3.3"/><circle cx="1343.6" cy="589.8" r="3.3"/><circle cx="1343.6" cy="602.4" r="3.3"/><circle cx="1346.9" cy="579.1" r="3.3"/><circle cx="1354.3" cy="602.4" r="3.3"/><circle cx="1351.3" cy="604.1" r="3.3"/><circle cx="1367.4" cy="602.9" r="3.3"/><circle cx="1369.9" cy="587.0" r="3.3"/><circle cx="1383.9" cy="579.1" r="3.3"/><circle cx="1388.8" cy="589.8" r="3.3"/><circle cx="1393.8" cy="561.0" r="3.3"/><circle cx="1419.2" cy="552.0" r="3.3"/><circle cx="1450.0" cy="577.1" r="3.3"/><circle cx="1457.6" cy="583.2" r="3.3"/><circle cx="1476.8" cy="585.7" r="3.3"/><circle cx="1476.8" cy="591.4" r="3.3"/><circle cx="1487.5" cy="580.7" r="3.3"/><circle cx="1487.5" cy="604.1" r="3.3"/><circle cx="1490.8" cy="578.3" r="3.3"/><circle cx="1506.4" cy="602.9" r="3.3"/><circle cx="1511.0" cy="609.5" r="3.3"/><circle cx="1515.1" cy="600.5" r="3.3"/><circle cx="1520.7" cy="598.8" r="3.3"/><circle cx="1533.2" cy="579.1" r="3.3"/><circle cx="1533.2" cy="608.7" r="3.3"/><circle cx="1542.1" cy="607.9" r="3.3"/><circle cx="1546.7" cy="591.9" r="3.3"/><circle cx="1546.7" cy="617.7" r="3.3"/><circle cx="1557.9" cy="613.3" r="3.3"/><circle cx="1566.1" cy="626.0" r="3.3"/><circle cx="1566.1" cy="639.1" r="3.3"/><circle cx="1581.2" cy="555.7" r="3.3"/><circle cx="1586.8" cy="564.0" r="3.3"/><circle cx="1586.8" cy="577.8" r="3.3"/><circle cx="1579.9" cy="600.5" r="3.3"/><circle cx="1582.8" cy="617.7" r="3.3"/><circle cx="1593.8" cy="640.8" r="3.3"/><circle cx="1596.6" cy="635.8" r="3.3"/><circle cx="1605.9" cy="577.1" r="3.3"/><circle cx="1621.5" cy="557.7" r="3.3"/><circle cx="1621.0" cy="609.5" r="3.3"/><circle cx="1616.1" cy="622.7" r="3.3"/><circle cx="1622.6" cy="621.9" r="3.3"/><circle cx="1631.7" cy="607.1" r="3.3"/><circle cx="1643.2" cy="609.5" r="3.3"/><circle cx="1650.6" cy="534.4" r="3.3"/><circle cx="1658.0" cy="521.9" r="3.3"/><circle cx="1658.5" cy="565.1" r="3.3"/><circle cx="1667.0" cy="514.6" r="3.3"/><circle cx="1666.2" cy="588.6" r="3.3"/><circle cx="1662.1" cy="600.5" r="3.3"/><circle cx="1661.0" cy="612.8" r="3.3"/><circle cx="1670.3" cy="613.6" r="3.3"/><circle cx="1687.1" cy="539.6" r="3.3"/><circle cx="1686.4" cy="595.2" r="3.3"/><circle cx="1701.6" cy="553.1" r="3.3"/><circle cx="1694.2" cy="571.2" r="3.3"/><circle cx="1710.6" cy="558.5" r="3.3"/><circle cx="1730.9" cy="569.2" r="3.3"/><circle cx="1730.9" cy="575.0" r="3.3"/><circle cx="1734.5" cy="549.8" r="3.3"/><circle cx="1741.9" cy="537.6" r="3.3"/><circle cx="1742.7" cy="563.0" r="3.3"/><circle cx="1782.2" cy="554.1" r="3.3"/><circle cx="1798.3" cy="547.0" r="3.3"/></g>
<polyline points="1059.7,550.3 1105.8,558.5 1153.5,557.4 1175.7,588.6 1215.1,588.1 1260.4,607.9 1298.7,593.1 1305.9,592.6 1339.5,592.2 1383.9,580.7 1419.2,552.0 1462.8,579.1 1505.6,596.4 1538.5,602.4 1570.0,602.9 1579.9,603.8 1583.2,603.8 1620.2,598.0 1659.6,573.3 1701.6,562.6 1736.9,559.0 1791.2,550.3" fill="none" stroke="#000000" stroke-width="2.00" stroke-linejoin="round"/>
</g>
<rect x="1024.50" y="434.90" width="809.00" height="353.10" fill="none" stroke="#000" stroke-width="3.50"/>
<path d="M1052.80 434.90V450.70M1052.80 788.00V772.20M1240.90 434.90V450.70M1240.90 788.00V772.20M1429.00 434.90V450.70M1429.00 788.00V772.20M1617.10 434.90V450.70M1617.10 788.00V772.20M1805.20 434.90V450.70M1805.20 788.00V772.20" stroke="#000" stroke-width="3.50" fill="none"/>
<path d="M1024.50 469.95H1040.30M1833.50 469.95H1817.70M1024.50 540.70H1040.30M1833.50 540.70H1817.70M1024.50 611.45H1040.30M1833.50 611.45H1817.70M1024.50 682.20H1040.30M1833.50 682.20H1817.70M1024.50 752.95H1040.30M1833.50 752.95H1817.70" stroke="#000" stroke-width="3.50" fill="none"/>
<text transform="translate(1849.27 482.03) scale(1.0482 1)" font-size="35.60" fill="#000">0.04</text>
<text transform="translate(1849.23 552.78) scale(1.0732 1)" font-size="35.60" fill="#000">0.02</text>
<text transform="translate(1849.31 623.53) scale(1.0190 1)" font-size="35.60" fill="#000">0</text>
<text transform="translate(1849.66 696.83) scale(1.3831 1)" font-size="35.60" fill="#000">−</text>
<text transform="translate(1878.41 694.28) scale(1.0732 1)" font-size="35.60" fill="#000">0.02</text>
<text transform="translate(1849.66 767.58) scale(1.3831 1)" font-size="35.60" fill="#000">−</text>
<text transform="translate(1878.44 765.03) scale(1.0482 1)" font-size="35.60" fill="#000">0.04</text>
<clipPath id="cL2"><rect x="174.80" y="823.50" width="809.10" height="353.10"/></clipPath>
<g clip-path="url(#cL2)">
<g fill="#008000"><circle cx="190.0" cy="989.1" r="3.3"/><circle cx="217.9" cy="1037.2" r="3.3"/><circle cx="225.0" cy="1011.7" r="3.3"/><circle cx="239.8" cy="946.7" r="3.3"/><circle cx="253.3" cy="982.9" r="3.3"/><circle cx="253.3" cy="991.9" r="3.3"/><circle cx="259.1" cy="967.3" r="3.3"/><circle cx="264.8" cy="979.6" r="3.3"/><circle cx="269.3" cy="970.6" r="3.3"/><circle cx="293.1" cy="991.1" r="3.3"/><circle cx="305.3" cy="975.0" r="3.3"/><circle cx="305.3" cy="1016.1" r="3.3"/><circle cx="308.9" cy="1024.0" r="3.3"/><circle cx="318.8" cy="969.4" r="3.3"/><circle cx="318.8" cy="991.1" r="3.3"/><circle cx="318.8" cy="1023.2" r="3.3"/><circle cx="327.0" cy="1040.1" r="3.3"/><circle cx="335.9" cy="1040.5" r="3.3"/><circle cx="347.9" cy="1025.3" r="3.3"/><circle cx="365.1" cy="1001.8" r="3.3"/><circle cx="365.1" cy="1028.9" r="3.3"/><circle cx="365.1" cy="1070.9" r="3.3"/><circle cx="374.2" cy="984.5" r="3.3"/><circle cx="378.6" cy="1080.4" r="3.3"/><circle cx="382.9" cy="1047.9" r="3.3"/><circle cx="382.9" cy="1058.2" r="3.3"/><circle cx="392.8" cy="994.4" r="3.3"/><circle cx="395.6" cy="1056.1" r="3.3"/><circle cx="402.2" cy="1058.6" r="3.3"/><circle cx="402.2" cy="1063.5" r="3.3"/><circle cx="413.3" cy="1070.9" r="3.3"/><circle cx="418.1" cy="1065.1" r="3.3"/><circle cx="418.1" cy="1070.1" r="3.3"/><circle cx="423.5" cy="1070.9" r="3.3"/><circle cx="429.3" cy="973.4" r="3.3"/><circle cx="429.3" cy="1053.6" r="3.3"/><circle cx="434.6" cy="1062.7" r="3.3"/><circle cx="440.0" cy="1072.5" r="3.3"/><circle cx="440.0" cy="1087.8" r="3.3"/><circle cx="441.1" cy="962.8" r="3.3"/><circle cx="456.9" cy="1085.9" r="3.3"/><circle cx="461.8" cy="1004.3" r="3.3"/><circle cx="466.4" cy="1081.4" r="3.3"/><circle cx="470.1" cy="1046.2" r="3.3"/><circle cx="470.1" cy="1070.1" r="3.3"/><circle cx="475.0" cy="980.9" r="3.3"/><circle cx="475.0" cy="990.8" r="3.3"/><circle cx="494.1" cy="1033.1" r="3.3"/><circle cx="494.1" cy="1056.1" r="3.3"/><circle cx="497.4" cy="1024.8" r="3.3"/><circle cx="497.4" cy="1035.5" r="3.3"/><circle cx="501.8" cy="1003.5" r="3.3"/><circle cx="505.1" cy="1017.1" r="3.3"/><circle cx="533.9" cy="969.7" r="3.3"/><circle cx="608.2" cy="1042.9" r="3.3"/><circle cx="627.3" cy="987.5" r="3.3"/><circle cx="627.3" cy="1024.8" r="3.3"/><circle cx="638.3" cy="972.2" r="3.3"/><circle cx="641.6" cy="975.5" r="3.3"/><circle cx="638.8" cy="999.7" r="3.3"/><circle cx="656.9" cy="1000.2" r="3.3"/><circle cx="661.3" cy="922.9" r="3.3"/><circle cx="671.2" cy="917.1" r="3.3"/><circle cx="671.2" cy="920.4" r="3.3"/><circle cx="683.2" cy="1033.6" r="3.3"/><circle cx="684.9" cy="915.1" r="3.3"/><circle cx="693.1" cy="913.5" r="3.3"/><circle cx="693.1" cy="920.4" r="3.3"/><circle cx="696.7" cy="919.6" r="3.3"/><circle cx="696.7" cy="964.5" r="3.3"/><circle cx="696.7" cy="1017.8" r="3.3"/><circle cx="708.6" cy="941.4" r="3.3"/><circle cx="716.1" cy="917.9" r="3.3"/><circle cx="716.1" cy="925.7" r="3.3"/><circle cx="720.0" cy="925.3" r="3.3"/><circle cx="729.9" cy="933.6" r="3.3"/><circle cx="729.9" cy="1030.6" r="3.3"/><circle cx="732.8" cy="927.3" r="3.3"/><circle cx="732.8" cy="946.7" r="3.3"/><circle cx="737.3" cy="990.3" r="3.3"/><circle cx="737.3" cy="1011.7" r="3.3"/><circle cx="747.1" cy="948.0" r="3.3"/><circle cx="756.2" cy="920.7" r="3.3"/><circle cx="771.3" cy="939.3" r="3.3"/><circle cx="771.3" cy="1005.1" r="3.3"/><circle cx="775.1" cy="929.4" r="3.3"/><circle cx="781.7" cy="974.3" r="3.3"/><circle cx="801.1" cy="1001.8" r="3.3"/><circle cx="808.8" cy="943.4" r="3.3"/><circle cx="808.8" cy="1022.0" r="3.3"/><circle cx="811.3" cy="965.6" r="3.3"/><circle cx="817.0" cy="1001.3" r="3.3"/><circle cx="817.0" cy="1031.9" r="3.3"/><circle cx="820.8" cy="963.5" r="3.3"/><circle cx="836.8" cy="1017.8" r="3.3"/><circle cx="844.7" cy="1004.6" r="3.3"/><circle cx="851.9" cy="987.8" r="3.3"/><circle cx="860.6" cy="980.9" r="3.3"/><circle cx="878.2" cy="1034.2" r="3.3"/><circle cx="881.2" cy="1016.6" r="3.3"/><circle cx="884.5" cy="1013.8" r="3.3"/><circle cx="892.7" cy="991.9" r="3.3"/><circle cx="892.7" cy="1036.3" r="3.3"/><circle cx="892.7" cy="1047.9" r="3.3"/><circle cx="932.5" cy="964.0" r="3.3"/><circle cx="948.6" cy="1014.1" r="3.3"/></g>
<polyline points="209.7,1013.3 255.8,974.3 303.5,996.9 370.9,1033.9 410.4,1047.9 448.7,1050.3 455.9,1043.8 488.7,1023.2 532.2,982.1 615.3,1021.5 651.5,971.7 690.1,946.7 720.0,952.0 729.9,954.9 733.2,955.3 771.0,953.3 808.8,984.2 846.6,998.0 886.9,1024.0 941.2,988.7" fill="none" stroke="#008000" stroke-width="2.00" stroke-linejoin="round"/>
<g fill="#0000ff"><circle cx="190.0" cy="1049.5" r="3.3"/><circle cx="217.9" cy="1102.6" r="3.3"/><circle cx="225.0" cy="1044.2" r="3.3"/><circle cx="239.8" cy="986.5" r="3.3"/><circle cx="253.3" cy="1047.0" r="3.3"/><circle cx="254.5" cy="976.3" r="3.3"/><circle cx="259.1" cy="1018.3" r="3.3"/><circle cx="264.8" cy="1024.3" r="3.3"/><circle cx="269.3" cy="1000.2" r="3.3"/><circle cx="293.1" cy="1017.4" r="3.3"/><circle cx="305.3" cy="937.7" r="3.3"/><circle cx="305.3" cy="946.7" r="3.3"/><circle cx="305.3" cy="1013.3" r="3.3"/><circle cx="308.9" cy="960.9" r="3.3"/><circle cx="318.8" cy="945.9" r="3.3"/><circle cx="318.8" cy="992.8" r="3.3"/><circle cx="318.8" cy="1033.6" r="3.3"/><circle cx="315.8" cy="1031.4" r="3.3"/><circle cx="327.0" cy="1005.9" r="3.3"/><circle cx="335.9" cy="1037.2" r="3.3"/><circle cx="347.9" cy="1040.5" r="3.3"/><circle cx="352.0" cy="1044.6" r="3.3"/><circle cx="359.7" cy="934.4" r="3.3"/><circle cx="365.1" cy="1023.2" r="3.3"/><circle cx="366.3" cy="991.4" r="3.3"/><circle cx="374.2" cy="1001.8" r="3.3"/><circle cx="378.6" cy="989.5" r="3.3"/><circle cx="382.9" cy="994.4" r="3.3"/><circle cx="382.9" cy="1038.8" r="3.3"/><circle cx="387.0" cy="1004.3" r="3.3"/><circle cx="389.5" cy="1044.6" r="3.3"/><circle cx="395.6" cy="1046.2" r="3.3"/><circle cx="402.2" cy="993.1" r="3.3"/><circle cx="413.3" cy="1047.0" r="3.3"/><circle cx="418.6" cy="1045.4" r="3.3"/><circle cx="423.5" cy="1014.1" r="3.3"/><circle cx="433.1" cy="997.7" r="3.3"/><circle cx="440.0" cy="1006.7" r="3.3"/><circle cx="440.0" cy="1054.9" r="3.3"/><circle cx="434.2" cy="1009.2" r="3.3"/><circle cx="456.9" cy="1047.9" r="3.3"/><circle cx="456.9" cy="1052.8" r="3.3"/><circle cx="461.8" cy="1000.2" r="3.3"/><circle cx="466.4" cy="1056.1" r="3.3"/><circle cx="470.1" cy="1039.6" r="3.3"/><circle cx="475.0" cy="1016.1" r="3.3"/><circle cx="494.1" cy="1028.9" r="3.3"/><circle cx="497.4" cy="1007.6" r="3.3"/><circle cx="497.4" cy="1015.8" r="3.3"/><circle cx="501.8" cy="993.6" r="3.3"/><circle cx="505.1" cy="1029.3" r="3.3"/><circle cx="517.8" cy="991.1" r="3.3"/><circle cx="533.9" cy="976.3" r="3.3"/><circle cx="539.6" cy="964.8" r="3.3"/><circle cx="537.2" cy="1001.8" r="3.3"/><circle cx="544.6" cy="992.4" r="3.3"/><circle cx="600.5" cy="1009.5" r="3.3"/><circle cx="600.5" cy="1027.6" r="3.3"/><circle cx="608.2" cy="1033.6" r="3.3"/><circle cx="627.3" cy="990.3" r="3.3"/><circle cx="627.3" cy="1020.7" r="3.3"/><circle cx="638.3" cy="980.4" r="3.3"/><circle cx="638.3" cy="1001.0" r="3.3"/><circle cx="641.6" cy="991.1" r="3.3"/><circle cx="656.9" cy="979.3" r="3.3"/><circle cx="661.3" cy="956.6" r="3.3"/><circle cx="671.2" cy="954.1" r="3.3"/><circle cx="665.5" cy="965.6" r="3.3"/><circle cx="672.0" cy="945.4" r="3.3"/><circle cx="683.2" cy="991.4" r="3.3"/><circle cx="684.9" cy="942.6" r="3.3"/><circle cx="696.7" cy="951.3" r="3.3"/><circle cx="696.7" cy="979.9" r="3.3"/><circle cx="708.6" cy="975.0" r="3.3"/><circle cx="729.9" cy="1010.5" r="3.3"/><circle cx="732.8" cy="968.4" r="3.3"/><circle cx="737.3" cy="987.0" r="3.3"/><circle cx="743.8" cy="951.6" r="3.3"/><circle cx="747.1" cy="951.3" r="3.3"/><circle cx="771.3" cy="961.8" r="3.3"/><circle cx="771.3" cy="1005.9" r="3.3"/><circle cx="772.6" cy="972.2" r="3.3"/><circle cx="793.5" cy="959.0" r="3.3"/><circle cx="801.1" cy="1068.1" r="3.3"/><circle cx="808.8" cy="984.5" r="3.3"/><circle cx="808.8" cy="1028.1" r="3.3"/><circle cx="811.3" cy="963.2" r="3.3"/><circle cx="817.0" cy="962.8" r="3.3"/><circle cx="817.0" cy="1078.6" r="3.3"/><circle cx="820.8" cy="983.2" r="3.3"/><circle cx="836.8" cy="979.6" r="3.3"/><circle cx="844.7" cy="980.4" r="3.3"/><circle cx="851.9" cy="1028.6" r="3.3"/><circle cx="860.6" cy="1026.0" r="3.3"/><circle cx="878.2" cy="983.7" r="3.3"/><circle cx="881.2" cy="968.1" r="3.3"/><circle cx="884.5" cy="964.8" r="3.3"/><circle cx="892.7" cy="999.7" r="3.3"/><circle cx="892.7" cy="1010.9" r="3.3"/><circle cx="892.7" cy="1012.8" r="3.3"/><circle cx="932.5" cy="897.4" r="3.3"/><circle cx="948.6" cy="970.1" r="3.3"/></g>
<polyline points="209.7,1066.0 255.8,1011.7 303.5,975.0 325.7,1014.1 370.9,1007.6 410.4,1024.0 448.7,1026.2 455.9,1024.8 488.7,1018.3 532.2,988.2 615.3,1015.0 651.5,978.0 690.1,966.1 720.0,974.3 729.9,976.6 741.4,979.3 771.0,984.2 809.6,1006.2 838.4,1003.5 846.6,1002.6 887.8,990.3 941.2,933.2" fill="none" stroke="#0000ff" stroke-width="2.00" stroke-linejoin="round"/>
<g fill="#ff0000"><circle cx="190.0" cy="1017.1" r="3.3"/><circle cx="217.9" cy="1096.1" r="3.3"/><circle cx="225.0" cy="999.0" r="3.3"/><circle cx="239.8" cy="995.7" r="3.3"/><circle cx="250.0" cy="1032.2" r="3.3"/><circle cx="253.3" cy="1051.6" r="3.3"/><circle cx="254.5" cy="964.8" r="3.3"/><circle cx="259.1" cy="1015.0" r="3.3"/><circle cx="264.8" cy="1055.3" r="3.3"/><circle cx="269.3" cy="1045.1" r="3.3"/><circle cx="293.1" cy="1009.5" r="3.3"/><circle cx="305.3" cy="976.0" r="3.3"/><circle cx="308.9" cy="976.3" r="3.3"/><circle cx="318.8" cy="1001.8" r="3.3"/><circle cx="327.0" cy="1026.0" r="3.3"/><circle cx="327.0" cy="1042.4" r="3.3"/><circle cx="335.9" cy="1045.4" r="3.3"/><circle cx="352.0" cy="1032.6" r="3.3"/><circle cx="359.7" cy="973.8" r="3.3"/><circle cx="365.1" cy="1046.7" r="3.3"/><circle cx="365.1" cy="1052.8" r="3.3"/><circle cx="366.3" cy="989.1" r="3.3"/><circle cx="378.6" cy="987.5" r="3.3"/><circle cx="382.9" cy="1014.1" r="3.3"/><circle cx="387.0" cy="1008.4" r="3.3"/><circle cx="389.5" cy="1045.4" r="3.3"/><circle cx="395.6" cy="1059.4" r="3.3"/><circle cx="402.2" cy="992.8" r="3.3"/><circle cx="402.2" cy="1006.7" r="3.3"/><circle cx="413.3" cy="1053.6" r="3.3"/><circle cx="418.6" cy="1033.9" r="3.3"/><circle cx="423.5" cy="1015.0" r="3.3"/><circle cx="433.1" cy="1000.2" r="3.3"/><circle cx="434.6" cy="1011.7" r="3.3"/><circle cx="440.0" cy="988.7" r="3.3"/><circle cx="440.0" cy="1019.9" r="3.3"/><circle cx="440.0" cy="1046.2" r="3.3"/><circle cx="456.9" cy="1038.5" r="3.3"/><circle cx="466.4" cy="1031.4" r="3.3"/><circle cx="470.1" cy="1043.4" r="3.3"/><circle cx="475.0" cy="996.1" r="3.3"/><circle cx="497.4" cy="987.8" r="3.3"/><circle cx="505.1" cy="1012.2" r="3.3"/><circle cx="520.2" cy="979.6" r="3.3"/><circle cx="533.9" cy="962.3" r="3.3"/><circle cx="539.6" cy="953.0" r="3.3"/><circle cx="537.2" cy="992.8" r="3.3"/><circle cx="544.6" cy="987.8" r="3.3"/><circle cx="570.1" cy="999.0" r="3.3"/><circle cx="600.5" cy="1034.7" r="3.3"/><circle cx="608.2" cy="1049.5" r="3.3"/><circle cx="627.3" cy="1005.1" r="3.3"/><circle cx="627.3" cy="1039.6" r="3.3"/><circle cx="638.3" cy="1013.8" r="3.3"/><circle cx="641.6" cy="1021.5" r="3.3"/><circle cx="638.8" cy="990.3" r="3.3"/><circle cx="661.3" cy="960.7" r="3.3"/><circle cx="661.3" cy="970.6" r="3.3"/><circle cx="671.2" cy="966.4" r="3.3"/><circle cx="665.5" cy="975.5" r="3.3"/><circle cx="672.0" cy="968.1" r="3.3"/><circle cx="683.2" cy="1011.7" r="3.3"/><circle cx="684.9" cy="962.8" r="3.3"/><circle cx="693.1" cy="958.6" r="3.3"/><circle cx="696.7" cy="965.1" r="3.3"/><circle cx="696.7" cy="982.1" r="3.3"/><circle cx="708.6" cy="968.4" r="3.3"/><circle cx="716.1" cy="949.7" r="3.3"/><circle cx="716.1" cy="965.6" r="3.3"/><circle cx="720.0" cy="966.4" r="3.3"/><circle cx="729.9" cy="990.3" r="3.3"/><circle cx="729.9" cy="1005.9" r="3.3"/><circle cx="732.8" cy="975.5" r="3.3"/><circle cx="737.3" cy="997.4" r="3.3"/><circle cx="743.8" cy="941.4" r="3.3"/><circle cx="747.1" cy="943.8" r="3.3"/><circle cx="756.2" cy="1004.3" r="3.3"/><circle cx="772.6" cy="987.8" r="3.3"/><circle cx="775.1" cy="1005.9" r="3.3"/><circle cx="781.7" cy="951.6" r="3.3"/><circle cx="793.5" cy="975.5" r="3.3"/><circle cx="801.1" cy="1024.8" r="3.3"/><circle cx="808.8" cy="1027.0" r="3.3"/><circle cx="811.3" cy="957.9" r="3.3"/><circle cx="811.3" cy="973.8" r="3.3"/><circle cx="817.0" cy="1016.6" r="3.3"/><circle cx="820.8" cy="957.9" r="3.3"/><circle cx="836.8" cy="989.5" r="3.3"/><circle cx="844.7" cy="969.4" r="3.3"/><circle cx="851.9" cy="1026.5" r="3.3"/><circle cx="860.6" cy="1021.1" r="3.3"/><circle cx="878.2" cy="988.7" r="3.3"/><circle cx="881.2" cy="973.0" r="3.3"/><circle cx="884.5" cy="953.3" r="3.3"/><circle cx="892.7" cy="963.2" r="3.3"/><circle cx="892.7" cy="981.2" r="3.3"/><circle cx="892.7" cy="993.6" r="3.3"/><circle cx="932.5" cy="918.4" r="3.3"/><circle cx="948.6" cy="1008.9" r="3.3"/></g>
<polyline points="209.7,1038.0 256.6,1023.2 303.5,989.5 325.7,1017.8 370.9,1015.8 410.4,1024.3 448.7,1019.5 455.9,1016.6 488.7,1005.6 532.2,979.6 615.3,1026.5 651.5,995.2 690.1,975.5 720.0,978.0 729.9,978.0 741.4,978.3 771.0,978.3 808.8,989.5 846.6,1003.5 887.8,976.3 941.2,963.2" fill="none" stroke="#ff0000" stroke-width="2.00" stroke-linejoin="round"/>
<g fill="#000000"><circle cx="190.0" cy="1013.8" r="3.3"/><circle cx="217.9" cy="1089.8" r="3.3"/><circle cx="225.0" cy="1004.6" r="3.3"/><circle cx="239.8" cy="991.1" r="3.3"/><circle cx="250.0" cy="1034.2" r="3.3"/><circle cx="253.3" cy="1052.8" r="3.3"/><circle cx="254.5" cy="967.8" r="3.3"/><circle cx="259.1" cy="1023.2" r="3.3"/><circle cx="264.8" cy="1055.3" r="3.3"/><circle cx="269.3" cy="1041.8" r="3.3"/><circle cx="293.1" cy="1014.1" r="3.3"/><circle cx="305.3" cy="982.1" r="3.3"/><circle cx="308.9" cy="979.9" r="3.3"/><circle cx="307.1" cy="1006.2" r="3.3"/><circle cx="318.8" cy="1014.1" r="3.3"/><circle cx="327.0" cy="1032.6" r="3.3"/><circle cx="327.0" cy="1046.2" r="3.3"/><circle cx="335.9" cy="1048.4" r="3.3"/><circle cx="347.9" cy="1024.0" r="3.3"/><circle cx="352.0" cy="1035.5" r="3.3"/><circle cx="359.7" cy="980.4" r="3.3"/><circle cx="365.1" cy="1049.0" r="3.3"/><circle cx="365.1" cy="1056.9" r="3.3"/><circle cx="366.3" cy="997.7" r="3.3"/><circle cx="374.2" cy="1014.1" r="3.3"/><circle cx="378.6" cy="988.2" r="3.3"/><circle cx="382.9" cy="1009.5" r="3.3"/><circle cx="382.9" cy="1037.2" r="3.3"/><circle cx="387.0" cy="1005.9" r="3.3"/><circle cx="389.5" cy="1047.9" r="3.3"/><circle cx="392.8" cy="1003.0" r="3.3"/><circle cx="395.6" cy="1064.3" r="3.3"/><circle cx="402.2" cy="990.8" r="3.3"/><circle cx="402.2" cy="1001.8" r="3.3"/><circle cx="413.3" cy="1055.3" r="3.3"/><circle cx="418.6" cy="1033.1" r="3.3"/><circle cx="418.6" cy="1030.6" r="3.3"/><circle cx="423.5" cy="1007.6" r="3.3"/><circle cx="429.3" cy="1002.6" r="3.3"/><circle cx="429.3" cy="1012.5" r="3.3"/><circle cx="433.1" cy="998.5" r="3.3"/><circle cx="433.1" cy="1005.9" r="3.3"/><circle cx="440.0" cy="991.9" r="3.3"/><circle cx="440.0" cy="1011.7" r="3.3"/><circle cx="440.0" cy="1039.6" r="3.3"/><circle cx="456.9" cy="1025.3" r="3.3"/><circle cx="461.8" cy="1001.8" r="3.3"/><circle cx="466.4" cy="1020.4" r="3.3"/><circle cx="470.1" cy="1020.7" r="3.3"/><circle cx="470.1" cy="1028.9" r="3.3"/><circle cx="475.0" cy="998.0" r="3.3"/><circle cx="476.3" cy="998.5" r="3.3"/><circle cx="494.1" cy="987.8" r="3.3"/><circle cx="494.1" cy="999.3" r="3.3"/><circle cx="497.4" cy="971.1" r="3.3"/><circle cx="497.4" cy="978.8" r="3.3"/><circle cx="501.8" cy="1000.7" r="3.3"/><circle cx="505.1" cy="1007.6" r="3.3"/><circle cx="517.8" cy="1001.3" r="3.3"/><circle cx="520.2" cy="974.7" r="3.3"/><circle cx="533.9" cy="956.6" r="3.3"/><circle cx="539.6" cy="946.7" r="3.3"/><circle cx="537.2" cy="990.3" r="3.3"/><circle cx="570.1" cy="997.4" r="3.3"/><circle cx="600.5" cy="1021.5" r="3.3"/><circle cx="600.5" cy="1042.1" r="3.3"/><circle cx="608.2" cy="1054.9" r="3.3"/><circle cx="627.3" cy="1011.7" r="3.3"/><circle cx="627.3" cy="1044.6" r="3.3"/><circle cx="638.3" cy="996.1" r="3.3"/><circle cx="638.3" cy="1023.7" r="3.3"/><circle cx="641.6" cy="1029.8" r="3.3"/><circle cx="641.6" cy="1034.2" r="3.3"/><circle cx="656.9" cy="996.9" r="3.3"/><circle cx="661.3" cy="980.4" r="3.3"/><circle cx="671.2" cy="979.6" r="3.3"/><circle cx="671.2" cy="987.0" r="3.3"/><circle cx="665.5" cy="987.8" r="3.3"/><circle cx="683.2" cy="1007.9" r="3.3"/><circle cx="684.9" cy="972.2" r="3.3"/><circle cx="693.1" cy="975.0" r="3.3"/><circle cx="696.7" cy="974.7" r="3.3"/><circle cx="696.7" cy="989.1" r="3.3"/><circle cx="696.7" cy="1001.8" r="3.3"/><circle cx="708.6" cy="977.1" r="3.3"/><circle cx="716.1" cy="952.0" r="3.3"/><circle cx="716.1" cy="970.6" r="3.3"/><circle cx="729.9" cy="995.2" r="3.3"/><circle cx="729.9" cy="1000.2" r="3.3"/><circle cx="729.9" cy="1005.1" r="3.3"/><circle cx="732.8" cy="975.0" r="3.3"/><circle cx="737.3" cy="991.9" r="3.3"/><circle cx="737.3" cy="1001.8" r="3.3"/><circle cx="743.8" cy="937.7" r="3.3"/><circle cx="747.1" cy="940.1" r="3.3"/><circle cx="756.2" cy="1007.9" r="3.3"/><circle cx="771.3" cy="957.4" r="3.3"/><circle cx="772.6" cy="953.0" r="3.3"/><circle cx="772.6" cy="982.1" r="3.3"/><circle cx="772.6" cy="989.5" r="3.3"/><circle cx="775.1" cy="999.0" r="3.3"/><circle cx="781.7" cy="948.0" r="3.3"/><circle cx="793.5" cy="973.8" r="3.3"/><circle cx="801.1" cy="1019.4" r="3.3"/><circle cx="808.8" cy="1014.5" r="3.3"/><circle cx="811.3" cy="953.0" r="3.3"/><circle cx="811.3" cy="971.4" r="3.3"/><circle cx="817.0" cy="1014.5" r="3.3"/><circle cx="820.8" cy="953.0" r="3.3"/><circle cx="807.2" cy="989.5" r="3.3"/><circle cx="836.8" cy="987.0" r="3.3"/><circle cx="836.8" cy="1010.5" r="3.3"/><circle cx="844.7" cy="966.1" r="3.3"/><circle cx="851.9" cy="1022.0" r="3.3"/><circle cx="860.6" cy="1016.6" r="3.3"/><circle cx="878.2" cy="979.9" r="3.3"/><circle cx="881.2" cy="970.6" r="3.3"/><circle cx="884.5" cy="951.6" r="3.3"/><circle cx="892.7" cy="969.7" r="3.3"/><circle cx="892.7" cy="998.5" r="3.3"/><circle cx="932.5" cy="924.5" r="3.3"/><circle cx="948.6" cy="1003.9" r="3.3"/></g>
<polyline points="209.7,1036.3 256.6,1023.2 303.5,994.4 325.7,1020.7 370.9,1017.4 410.4,1022.4 450.0,1013.3 455.9,1010.0 488.7,999.0 532.2,976.3 615.3,1031.4 651.5,1003.5 690.1,983.7 720.0,980.4 729.9,979.6 741.4,978.8 771.0,977.1 808.8,987.0 846.6,999.7 887.8,974.7 941.2,964.5" fill="none" stroke="#000000" stroke-width="2.00" stroke-linejoin="round"/>
</g>
<rect x="174.80" y="823.50" width="809.10" height="353.10" fill="none" stroke="#000" stroke-width="3.50"/>
<path d="M203.01 823.50V839.30M203.01 1176.60V1160.80M391.23 823.50V839.30M391.23 1176.60V1160.80M579.45 823.50V839.30M579.45 1176.60V1160.80M767.67 823.50V839.30M767.67 1176.60V1160.80M955.89 823.50V839.30M955.89 1176.60V1160.80" stroke="#000" stroke-width="3.50" fill="none"/>
<path d="M174.80 858.55H190.60M983.90 858.55H968.10M174.80 929.30H190.60M983.90 929.30H968.10M174.80 1000.05H190.60M983.90 1000.05H968.10M174.80 1070.80H190.60M983.90 1070.80H968.10M174.80 1141.55H190.60M983.90 1141.55H968.10" stroke="#000" stroke-width="3.50" fill="none"/>
<text transform="translate(93.39 870.62) scale(1.0482 1)" font-size="35.60" fill="#000">0.04</text>
<text transform="translate(93.36 941.38) scale(1.0732 1)" font-size="35.60" fill="#000">0.02</text>
<text transform="translate(141.36 1012.12) scale(1.0190 1)" font-size="35.60" fill="#000">0</text>
<text transform="translate(64.61 1085.43) scale(1.3831 1)" font-size="35.60" fill="#000">−</text>
<text transform="translate(93.36 1082.88) scale(1.0732 1)" font-size="35.60" fill="#000">0.02</text>
<text transform="translate(64.61 1156.18) scale(1.3831 1)" font-size="35.60" fill="#000">−</text>
<text transform="translate(93.39 1153.62) scale(1.0482 1)" font-size="35.60" fill="#000">0.04</text>
<clipPath id="cR2"><rect x="1024.50" y="823.50" width="809.00" height="353.10"/></clipPath>
<g clip-path="url(#cR2)">
<g fill="#008000"><circle cx="1039.7" cy="934.4" r="3.3"/><circle cx="1067.1" cy="950.0" r="3.3"/><circle cx="1075.0" cy="932.2" r="3.3"/><circle cx="1089.7" cy="913.5" r="3.3"/><circle cx="1099.7" cy="913.8" r="3.3"/><circle cx="1103.3" cy="924.5" r="3.3"/><circle cx="1104.1" cy="942.6" r="3.3"/><circle cx="1108.2" cy="901.0" r="3.3"/><circle cx="1114.8" cy="928.9" r="3.3"/><circle cx="1118.9" cy="920.4" r="3.3"/><circle cx="1143.1" cy="950.0" r="3.3"/><circle cx="1154.3" cy="961.5" r="3.3"/><circle cx="1154.3" cy="1035.2" r="3.3"/><circle cx="1154.3" cy="1074.7" r="3.3"/><circle cx="1158.4" cy="1010.9" r="3.3"/><circle cx="1165.8" cy="988.7" r="3.3"/><circle cx="1169.1" cy="934.9" r="3.3"/><circle cx="1169.1" cy="1066.0" r="3.3"/><circle cx="1176.0" cy="934.4" r="3.3"/><circle cx="1197.9" cy="961.2" r="3.3"/><circle cx="1209.1" cy="1049.5" r="3.3"/><circle cx="1214.7" cy="985.9" r="3.3"/><circle cx="1224.2" cy="1046.2" r="3.3"/><circle cx="1228.0" cy="1004.3" r="3.3"/><circle cx="1232.9" cy="946.7" r="3.3"/><circle cx="1237.0" cy="1017.8" r="3.3"/><circle cx="1242.8" cy="1092.8" r="3.3"/><circle cx="1245.6" cy="977.6" r="3.3"/><circle cx="1251.3" cy="1006.2" r="3.3"/><circle cx="1262.8" cy="993.6" r="3.3"/><circle cx="1268.1" cy="982.9" r="3.3"/><circle cx="1268.1" cy="994.7" r="3.3"/><circle cx="1270.2" cy="996.1" r="3.3"/><circle cx="1272.7" cy="996.4" r="3.3"/><circle cx="1278.5" cy="1001.0" r="3.3"/><circle cx="1278.5" cy="1040.8" r="3.3"/><circle cx="1282.9" cy="1116.4" r="3.3"/><circle cx="1290.0" cy="1004.3" r="3.3"/><circle cx="1290.0" cy="1033.6" r="3.3"/><circle cx="1290.0" cy="1064.3" r="3.3"/><circle cx="1306.6" cy="1049.5" r="3.3"/><circle cx="1306.6" cy="1052.8" r="3.3"/><circle cx="1311.5" cy="1097.2" r="3.3"/><circle cx="1316.4" cy="1079.6" r="3.3"/><circle cx="1319.4" cy="1026.5" r="3.3"/><circle cx="1319.4" cy="1034.7" r="3.3"/><circle cx="1324.7" cy="1041.8" r="3.3"/><circle cx="1326.3" cy="1103.3" r="3.3"/><circle cx="1342.8" cy="1038.0" r="3.3"/><circle cx="1342.8" cy="1076.6" r="3.3"/><circle cx="1342.8" cy="1084.0" r="3.3"/><circle cx="1346.9" cy="1104.6" r="3.3"/><circle cx="1346.9" cy="1108.2" r="3.3"/><circle cx="1351.3" cy="1035.9" r="3.3"/><circle cx="1354.6" cy="1043.8" r="3.3"/><circle cx="1367.4" cy="1037.5" r="3.3"/><circle cx="1370.2" cy="1069.2" r="3.3"/><circle cx="1386.8" cy="1052.3" r="3.3"/><circle cx="1383.9" cy="1088.5" r="3.3"/><circle cx="1388.8" cy="1091.8" r="3.3"/><circle cx="1394.2" cy="1070.1" r="3.3"/><circle cx="1419.2" cy="1070.9" r="3.3"/><circle cx="1450.5" cy="1062.7" r="3.3"/><circle cx="1450.5" cy="1080.8" r="3.3"/><circle cx="1457.9" cy="1097.2" r="3.3"/><circle cx="1476.8" cy="1056.6" r="3.3"/><circle cx="1476.8" cy="1068.4" r="3.3"/><circle cx="1476.8" cy="1094.4" r="3.3"/><circle cx="1488.3" cy="1037.2" r="3.3"/><circle cx="1488.3" cy="1099.7" r="3.3"/><circle cx="1491.6" cy="1105.4" r="3.3"/><circle cx="1491.6" cy="1110.9" r="3.3"/><circle cx="1506.9" cy="1039.1" r="3.3"/><circle cx="1511.0" cy="1032.6" r="3.3"/><circle cx="1514.6" cy="1049.5" r="3.3"/><circle cx="1511.0" cy="1057.7" r="3.3"/><circle cx="1521.2" cy="1076.6" r="3.3"/><circle cx="1533.2" cy="1056.1" r="3.3"/><circle cx="1533.2" cy="1063.8" r="3.3"/><circle cx="1541.8" cy="1015.5" r="3.3"/><circle cx="1541.8" cy="1037.2" r="3.3"/><circle cx="1546.4" cy="1004.6" r="3.3"/><circle cx="1546.4" cy="1025.7" r="3.3"/><circle cx="1546.4" cy="1040.8" r="3.3"/><circle cx="1557.9" cy="1007.9" r="3.3"/><circle cx="1565.1" cy="1003.5" r="3.3"/><circle cx="1565.1" cy="1009.2" r="3.3"/><circle cx="1577.9" cy="987.0" r="3.3"/><circle cx="1577.9" cy="996.1" r="3.3"/><circle cx="1581.2" cy="1110.0" r="3.3"/><circle cx="1586.8" cy="1009.5" r="3.3"/><circle cx="1586.8" cy="1026.0" r="3.3"/><circle cx="1593.8" cy="974.7" r="3.3"/><circle cx="1597.1" cy="972.2" r="3.3"/><circle cx="1605.9" cy="1000.7" r="3.3"/><circle cx="1622.3" cy="928.9" r="3.3"/><circle cx="1622.3" cy="959.9" r="3.3"/><circle cx="1622.3" cy="1022.7" r="3.3"/><circle cx="1625.1" cy="981.2" r="3.3"/><circle cx="1650.6" cy="1052.8" r="3.3"/><circle cx="1658.5" cy="1015.0" r="3.3"/><circle cx="1658.5" cy="1053.3" r="3.3"/><circle cx="1661.0" cy="925.7" r="3.3"/><circle cx="1661.0" cy="954.1" r="3.3"/><circle cx="1667.0" cy="991.4" r="3.3"/><circle cx="1667.0" cy="1059.9" r="3.3"/><circle cx="1670.3" cy="927.0" r="3.3"/><circle cx="1686.8" cy="973.8" r="3.3"/><circle cx="1686.8" cy="1027.3" r="3.3"/><circle cx="1694.5" cy="939.8" r="3.3"/><circle cx="1701.6" cy="978.8" r="3.3"/><circle cx="1710.3" cy="971.4" r="3.3"/><circle cx="1728.2" cy="909.7" r="3.3"/><circle cx="1731.2" cy="923.4" r="3.3"/><circle cx="1734.5" cy="928.6" r="3.3"/><circle cx="1742.7" cy="915.8" r="3.3"/><circle cx="1742.7" cy="919.6" r="3.3"/><circle cx="1742.7" cy="1043.8" r="3.3"/><circle cx="1782.2" cy="954.1" r="3.3"/><circle cx="1798.3" cy="915.8" r="3.3"/></g>
<polyline points="1059.7,939.3 1105.8,921.2 1153.5,1005.9 1175.7,968.1 1220.9,987.0 1259.6,1000.2 1298.7,1054.9 1305.9,1056.9 1339.5,1063.8 1382.2,1068.4 1419.2,1070.9 1465.3,1076.6 1500.7,1066.4 1543.4,1038.0 1570.0,1014.5 1579.9,1004.3 1621.0,973.8 1658.8,992.8 1701.6,974.3 1736.9,940.1 1791.2,933.9" fill="none" stroke="#008000" stroke-width="2.00" stroke-linejoin="round"/>
<g fill="#0000ff"><circle cx="1039.7" cy="968.6" r="3.3"/><circle cx="1067.1" cy="1000.2" r="3.3"/><circle cx="1075.0" cy="1001.8" r="3.3"/><circle cx="1089.7" cy="987.5" r="3.3"/><circle cx="1099.7" cy="947.0" r="3.3"/><circle cx="1103.3" cy="1001.3" r="3.3"/><circle cx="1108.2" cy="928.6" r="3.3"/><circle cx="1114.8" cy="988.7" r="3.3"/><circle cx="1143.1" cy="959.0" r="3.3"/><circle cx="1154.3" cy="950.8" r="3.3"/><circle cx="1154.3" cy="996.1" r="3.3"/><circle cx="1154.3" cy="1049.0" r="3.3"/><circle cx="1165.8" cy="957.9" r="3.3"/><circle cx="1169.1" cy="946.4" r="3.3"/><circle cx="1169.1" cy="1042.1" r="3.3"/><circle cx="1176.0" cy="928.3" r="3.3"/><circle cx="1176.0" cy="946.7" r="3.3"/><circle cx="1185.5" cy="933.6" r="3.3"/><circle cx="1201.7" cy="946.4" r="3.3"/><circle cx="1209.1" cy="1008.9" r="3.3"/><circle cx="1214.7" cy="913.8" r="3.3"/><circle cx="1214.7" cy="946.4" r="3.3"/><circle cx="1224.2" cy="991.9" r="3.3"/><circle cx="1232.9" cy="956.2" r="3.3"/><circle cx="1237.0" cy="987.8" r="3.3"/><circle cx="1242.8" cy="993.6" r="3.3"/><circle cx="1245.6" cy="953.3" r="3.3"/><circle cx="1262.8" cy="956.6" r="3.3"/><circle cx="1268.1" cy="974.3" r="3.3"/><circle cx="1270.2" cy="977.1" r="3.3"/><circle cx="1278.5" cy="987.8" r="3.3"/><circle cx="1282.9" cy="1009.2" r="3.3"/><circle cx="1290.0" cy="961.2" r="3.3"/><circle cx="1290.0" cy="993.1" r="3.3"/><circle cx="1306.6" cy="971.1" r="3.3"/><circle cx="1311.5" cy="1019.9" r="3.3"/><circle cx="1319.4" cy="961.5" r="3.3"/><circle cx="1324.7" cy="980.4" r="3.3"/><circle cx="1326.3" cy="1020.4" r="3.3"/><circle cx="1342.8" cy="984.5" r="3.3"/><circle cx="1342.8" cy="991.1" r="3.3"/><circle cx="1346.9" cy="1001.0" r="3.3"/><circle cx="1346.9" cy="1005.6" r="3.3"/><circle cx="1351.3" cy="989.5" r="3.3"/><circle cx="1367.4" cy="991.4" r="3.3"/><circle cx="1370.2" cy="1001.8" r="3.3"/><circle cx="1386.8" cy="995.7" r="3.3"/><circle cx="1383.9" cy="1017.8" r="3.3"/><circle cx="1388.8" cy="1033.1" r="3.3"/><circle cx="1394.2" cy="1027.0" r="3.3"/><circle cx="1419.2" cy="1038.5" r="3.3"/><circle cx="1450.5" cy="1010.9" r="3.3"/><circle cx="1450.5" cy="1032.6" r="3.3"/><circle cx="1457.9" cy="1020.4" r="3.3"/><circle cx="1476.8" cy="989.5" r="3.3"/><circle cx="1476.8" cy="1000.7" r="3.3"/><circle cx="1476.8" cy="1012.8" r="3.3"/><circle cx="1488.3" cy="1000.2" r="3.3"/><circle cx="1491.6" cy="1007.2" r="3.3"/><circle cx="1506.9" cy="982.9" r="3.3"/><circle cx="1511.0" cy="968.1" r="3.3"/><circle cx="1533.2" cy="989.8" r="3.3"/><circle cx="1541.8" cy="963.2" r="3.3"/><circle cx="1546.4" cy="979.9" r="3.3"/><circle cx="1577.9" cy="979.6" r="3.3"/><circle cx="1582.8" cy="985.4" r="3.3"/><circle cx="1586.8" cy="982.9" r="3.3"/><circle cx="1593.8" cy="954.9" r="3.3"/><circle cx="1597.1" cy="956.2" r="3.3"/><circle cx="1605.9" cy="984.2" r="3.3"/><circle cx="1622.3" cy="922.4" r="3.3"/><circle cx="1622.3" cy="943.4" r="3.3"/><circle cx="1622.3" cy="989.5" r="3.3"/><circle cx="1631.7" cy="950.0" r="3.3"/><circle cx="1643.2" cy="945.4" r="3.3"/><circle cx="1650.6" cy="1013.3" r="3.3"/><circle cx="1658.5" cy="1020.7" r="3.3"/><circle cx="1661.0" cy="930.6" r="3.3"/><circle cx="1661.0" cy="968.1" r="3.3"/><circle cx="1667.0" cy="958.6" r="3.3"/><circle cx="1667.0" cy="1034.2" r="3.3"/><circle cx="1670.3" cy="928.3" r="3.3"/><circle cx="1686.8" cy="950.3" r="3.3"/><circle cx="1686.8" cy="983.7" r="3.3"/><circle cx="1694.5" cy="964.8" r="3.3"/><circle cx="1710.3" cy="979.6" r="3.3"/><circle cx="1728.2" cy="930.3" r="3.3"/><circle cx="1731.2" cy="947.5" r="3.3"/><circle cx="1742.7" cy="983.7" r="3.3"/><circle cx="1742.7" cy="987.0" r="3.3"/><circle cx="1742.7" cy="1023.2" r="3.3"/><circle cx="1782.2" cy="984.9" r="3.3"/><circle cx="1798.3" cy="994.4" r="3.3"/></g>
<polyline points="1059.7,990.8 1103.3,970.1 1153.5,990.0 1175.7,957.9 1220.9,961.2 1260.4,971.1 1298.7,984.8 1305.9,984.2 1339.5,987.0 1382.2,1012.5 1419.2,1038.5 1465.3,1010.9 1502.3,984.2 1534.4,975.0 1570.0,975.5 1579.9,975.5 1583.2,975.5 1621.0,953.3 1658.8,972.2 1701.6,973.8 1742.7,974.7 1791.2,990.3" fill="none" stroke="#0000ff" stroke-width="2.00" stroke-linejoin="round"/>
<g fill="#ff0000"><circle cx="1039.7" cy="927.0" r="3.3"/><circle cx="1067.1" cy="972.7" r="3.3"/><circle cx="1075.0" cy="965.6" r="3.3"/><circle cx="1089.7" cy="958.6" r="3.3"/><circle cx="1099.7" cy="956.9" r="3.3"/><circle cx="1103.3" cy="982.9" r="3.3"/><circle cx="1108.2" cy="946.7" r="3.3"/><circle cx="1114.8" cy="981.2" r="3.3"/><circle cx="1118.9" cy="984.2" r="3.3"/><circle cx="1143.1" cy="962.3" r="3.3"/><circle cx="1154.3" cy="948.0" r="3.3"/><circle cx="1154.3" cy="1001.8" r="3.3"/><circle cx="1154.3" cy="1045.1" r="3.3"/><circle cx="1158.4" cy="988.7" r="3.3"/><circle cx="1165.8" cy="949.2" r="3.3"/><circle cx="1169.1" cy="957.4" r="3.3"/><circle cx="1169.1" cy="1050.0" r="3.3"/><circle cx="1176.0" cy="938.2" r="3.3"/><circle cx="1176.0" cy="956.2" r="3.3"/><circle cx="1185.5" cy="940.5" r="3.3"/><circle cx="1197.9" cy="945.4" r="3.3"/><circle cx="1201.7" cy="954.1" r="3.3"/><circle cx="1214.7" cy="925.0" r="3.3"/><circle cx="1214.7" cy="954.1" r="3.3"/><circle cx="1214.7" cy="971.7" r="3.3"/><circle cx="1224.2" cy="1002.3" r="3.3"/><circle cx="1228.0" cy="971.1" r="3.3"/><circle cx="1232.9" cy="943.4" r="3.3"/><circle cx="1237.0" cy="982.1" r="3.3"/><circle cx="1239.5" cy="948.7" r="3.3"/><circle cx="1242.8" cy="979.6" r="3.3"/><circle cx="1245.6" cy="962.8" r="3.3"/><circle cx="1251.3" cy="951.6" r="3.3"/><circle cx="1251.3" cy="976.0" r="3.3"/><circle cx="1262.8" cy="960.2" r="3.3"/><circle cx="1268.1" cy="952.0" r="3.3"/><circle cx="1270.2" cy="953.3" r="3.3"/><circle cx="1278.5" cy="957.9" r="3.3"/><circle cx="1282.9" cy="959.0" r="3.3"/><circle cx="1282.9" cy="994.4" r="3.3"/><circle cx="1290.0" cy="965.6" r="3.3"/><circle cx="1290.0" cy="984.2" r="3.3"/><circle cx="1306.6" cy="968.9" r="3.3"/><circle cx="1311.5" cy="1015.0" r="3.3"/><circle cx="1319.4" cy="966.1" r="3.3"/><circle cx="1324.7" cy="973.8" r="3.3"/><circle cx="1326.3" cy="1015.5" r="3.3"/><circle cx="1342.8" cy="961.5" r="3.3"/><circle cx="1351.3" cy="955.8" r="3.3"/><circle cx="1354.6" cy="966.1" r="3.3"/><circle cx="1367.4" cy="961.2" r="3.3"/><circle cx="1370.2" cy="968.9" r="3.3"/><circle cx="1386.8" cy="960.2" r="3.3"/><circle cx="1383.9" cy="983.2" r="3.3"/><circle cx="1388.8" cy="994.4" r="3.3"/><circle cx="1394.2" cy="989.5" r="3.3"/><circle cx="1419.2" cy="1001.8" r="3.3"/><circle cx="1450.5" cy="973.0" r="3.3"/><circle cx="1450.5" cy="995.2" r="3.3"/><circle cx="1476.8" cy="963.2" r="3.3"/><circle cx="1476.8" cy="969.4" r="3.3"/><circle cx="1488.3" cy="958.6" r="3.3"/><circle cx="1506.9" cy="959.0" r="3.3"/><circle cx="1511.0" cy="964.0" r="3.3"/><circle cx="1514.6" cy="969.4" r="3.3"/><circle cx="1521.2" cy="980.4" r="3.3"/><circle cx="1533.2" cy="982.9" r="3.3"/><circle cx="1546.4" cy="953.3" r="3.3"/><circle cx="1546.4" cy="960.2" r="3.3"/><circle cx="1565.1" cy="954.9" r="3.3"/><circle cx="1577.9" cy="964.0" r="3.3"/><circle cx="1577.9" cy="999.0" r="3.3"/><circle cx="1582.8" cy="950.8" r="3.3"/><circle cx="1586.8" cy="959.9" r="3.3"/><circle cx="1586.8" cy="974.7" r="3.3"/><circle cx="1593.8" cy="960.7" r="3.3"/><circle cx="1597.1" cy="959.5" r="3.3"/><circle cx="1616.9" cy="941.0" r="3.3"/><circle cx="1622.3" cy="930.3" r="3.3"/><circle cx="1622.3" cy="949.7" r="3.3"/><circle cx="1622.3" cy="985.4" r="3.3"/><circle cx="1631.7" cy="970.6" r="3.3"/><circle cx="1643.2" cy="946.7" r="3.3"/><circle cx="1650.6" cy="1029.8" r="3.3"/><circle cx="1658.5" cy="1032.6" r="3.3"/><circle cx="1661.0" cy="941.8" r="3.3"/><circle cx="1661.0" cy="983.7" r="3.3"/><circle cx="1667.0" cy="952.5" r="3.3"/><circle cx="1667.0" cy="1053.6" r="3.3"/><circle cx="1670.3" cy="939.3" r="3.3"/><circle cx="1686.8" cy="942.6" r="3.3"/><circle cx="1686.8" cy="1007.6" r="3.3"/><circle cx="1694.5" cy="972.2" r="3.3"/><circle cx="1701.6" cy="982.6" r="3.3"/><circle cx="1710.3" cy="976.6" r="3.3"/><circle cx="1728.2" cy="946.4" r="3.3"/><circle cx="1731.2" cy="956.6" r="3.3"/><circle cx="1734.5" cy="975.0" r="3.3"/><circle cx="1742.7" cy="965.1" r="3.3"/><circle cx="1742.7" cy="1007.6" r="3.3"/><circle cx="1782.2" cy="951.3" r="3.3"/><circle cx="1798.3" cy="959.0" r="3.3"/></g>
<polyline points="1059.7,955.3 1153.5,989.1 1175.7,960.7 1220.9,968.1 1260.4,961.5 1298.7,978.5 1305.9,977.6 1339.5,975.5 1382.2,976.0 1419.2,1001.8 1465.3,977.1 1502.3,971.4 1534.4,970.6 1570.0,966.8 1579.9,963.2 1583.2,964.8 1621.0,954.9 1658.8,980.4 1701.6,975.0 1742.7,970.6 1791.2,955.3" fill="none" stroke="#ff0000" stroke-width="2.00" stroke-linejoin="round"/>
<g fill="#000000"><circle cx="1039.7" cy="939.8" r="3.3"/><circle cx="1067.1" cy="978.3" r="3.3"/><circle cx="1075.0" cy="972.7" r="3.3"/><circle cx="1089.7" cy="966.4" r="3.3"/><circle cx="1099.7" cy="966.8" r="3.3"/><circle cx="1103.3" cy="981.2" r="3.3"/><circle cx="1103.3" cy="987.0" r="3.3"/><circle cx="1108.2" cy="955.8" r="3.3"/><circle cx="1114.8" cy="984.5" r="3.3"/><circle cx="1118.9" cy="980.4" r="3.3"/><circle cx="1143.1" cy="971.7" r="3.3"/><circle cx="1154.3" cy="961.2" r="3.3"/><circle cx="1154.3" cy="1006.7" r="3.3"/><circle cx="1154.3" cy="1056.1" r="3.3"/><circle cx="1158.4" cy="991.4" r="3.3"/><circle cx="1165.8" cy="964.0" r="3.3"/><circle cx="1169.1" cy="1061.8" r="3.3"/><circle cx="1176.0" cy="949.7" r="3.3"/><circle cx="1185.5" cy="949.2" r="3.3"/><circle cx="1197.9" cy="957.9" r="3.3"/><circle cx="1201.7" cy="965.1" r="3.3"/><circle cx="1209.1" cy="1034.7" r="3.3"/><circle cx="1214.7" cy="934.4" r="3.3"/><circle cx="1214.7" cy="969.7" r="3.3"/><circle cx="1214.7" cy="976.3" r="3.3"/><circle cx="1224.2" cy="1019.1" r="3.3"/><circle cx="1228.0" cy="977.1" r="3.3"/><circle cx="1232.9" cy="952.0" r="3.3"/><circle cx="1237.0" cy="991.4" r="3.3"/><circle cx="1239.5" cy="954.1" r="3.3"/><circle cx="1242.8" cy="991.1" r="3.3"/><circle cx="1251.3" cy="959.0" r="3.3"/><circle cx="1251.3" cy="980.9" r="3.3"/><circle cx="1252.6" cy="964.8" r="3.3"/><circle cx="1262.8" cy="967.3" r="3.3"/><circle cx="1268.1" cy="961.5" r="3.3"/><circle cx="1270.2" cy="963.2" r="3.3"/><circle cx="1270.2" cy="970.6" r="3.3"/><circle cx="1278.5" cy="961.5" r="3.3"/><circle cx="1278.5" cy="987.0" r="3.3"/><circle cx="1282.9" cy="963.5" r="3.3"/><circle cx="1282.9" cy="1003.5" r="3.3"/><circle cx="1290.0" cy="969.7" r="3.3"/><circle cx="1290.0" cy="998.5" r="3.3"/><circle cx="1306.6" cy="969.7" r="3.3"/><circle cx="1311.5" cy="1022.0" r="3.3"/><circle cx="1316.4" cy="980.4" r="3.3"/><circle cx="1319.4" cy="966.8" r="3.3"/><circle cx="1319.4" cy="973.8" r="3.3"/><circle cx="1324.7" cy="988.7" r="3.3"/><circle cx="1326.3" cy="1022.4" r="3.3"/><circle cx="1342.8" cy="970.1" r="3.3"/><circle cx="1342.8" cy="981.2" r="3.3"/><circle cx="1346.9" cy="983.7" r="3.3"/><circle cx="1351.3" cy="962.3" r="3.3"/><circle cx="1354.6" cy="977.1" r="3.3"/><circle cx="1367.4" cy="966.1" r="3.3"/><circle cx="1370.2" cy="978.8" r="3.3"/><circle cx="1386.8" cy="973.4" r="3.3"/><circle cx="1383.9" cy="987.8" r="3.3"/><circle cx="1388.8" cy="996.1" r="3.3"/><circle cx="1394.2" cy="1002.3" r="3.3"/><circle cx="1419.2" cy="1013.3" r="3.3"/><circle cx="1450.5" cy="984.2" r="3.3"/><circle cx="1450.5" cy="1001.0" r="3.3"/><circle cx="1457.9" cy="984.9" r="3.3"/><circle cx="1476.8" cy="978.8" r="3.3"/><circle cx="1476.8" cy="983.7" r="3.3"/><circle cx="1488.3" cy="968.4" r="3.3"/><circle cx="1488.3" cy="984.2" r="3.3"/><circle cx="1491.6" cy="985.4" r="3.3"/><circle cx="1506.9" cy="969.7" r="3.3"/><circle cx="1511.0" cy="975.5" r="3.3"/><circle cx="1533.2" cy="975.5" r="3.3"/><circle cx="1533.2" cy="997.7" r="3.3"/><circle cx="1541.8" cy="967.3" r="3.3"/><circle cx="1546.4" cy="961.2" r="3.3"/><circle cx="1546.4" cy="988.7" r="3.3"/><circle cx="1557.9" cy="961.2" r="3.3"/><circle cx="1565.1" cy="964.8" r="3.3"/><circle cx="1577.9" cy="968.9" r="3.3"/><circle cx="1577.9" cy="1011.2" r="3.3"/><circle cx="1582.8" cy="957.9" r="3.3"/><circle cx="1586.8" cy="969.4" r="3.3"/><circle cx="1586.8" cy="987.0" r="3.3"/><circle cx="1593.8" cy="965.6" r="3.3"/><circle cx="1597.1" cy="964.5" r="3.3"/><circle cx="1605.9" cy="973.0" r="3.3"/><circle cx="1616.9" cy="946.7" r="3.3"/><circle cx="1622.3" cy="938.2" r="3.3"/><circle cx="1622.3" cy="949.7" r="3.3"/><circle cx="1622.3" cy="996.9" r="3.3"/><circle cx="1625.1" cy="963.2" r="3.3"/><circle cx="1631.7" cy="977.1" r="3.3"/><circle cx="1643.2" cy="959.5" r="3.3"/><circle cx="1650.6" cy="1032.6" r="3.3"/><circle cx="1658.5" cy="1046.7" r="3.3"/><circle cx="1661.0" cy="949.2" r="3.3"/><circle cx="1661.0" cy="961.2" r="3.3"/><circle cx="1661.0" cy="994.1" r="3.3"/><circle cx="1667.0" cy="966.8" r="3.3"/><circle cx="1667.0" cy="1058.6" r="3.3"/><circle cx="1670.3" cy="947.5" r="3.3"/><circle cx="1686.8" cy="957.4" r="3.3"/><circle cx="1686.8" cy="1021.1" r="3.3"/><circle cx="1701.6" cy="988.2" r="3.3"/><circle cx="1710.3" cy="983.2" r="3.3"/><circle cx="1728.2" cy="955.3" r="3.3"/><circle cx="1731.2" cy="966.4" r="3.3"/><circle cx="1734.5" cy="983.2" r="3.3"/><circle cx="1742.7" cy="970.1" r="3.3"/><circle cx="1742.7" cy="973.8" r="3.3"/><circle cx="1742.7" cy="1020.7" r="3.3"/><circle cx="1782.2" cy="958.6" r="3.3"/><circle cx="1798.3" cy="966.4" r="3.3"/></g>
<polyline points="1059.7,964.0 1152.6,996.9 1175.7,971.4 1220.9,977.1 1260.4,969.4 1298.7,983.5 1305.9,983.2 1339.5,982.1 1382.2,983.7 1419.2,1013.3 1465.3,985.4 1502.3,977.6 1534.4,973.8 1570.0,973.8 1579.9,973.0 1583.2,972.2 1621.0,964.0 1658.8,990.3 1701.6,984.2 1742.7,976.3 1791.2,962.3" fill="none" stroke="#000000" stroke-width="2.00" stroke-linejoin="round"/>
</g>
<rect x="1024.50" y="823.50" width="809.00" height="353.10" fill="none" stroke="#000" stroke-width="3.50"/>
<path d="M1052.80 823.50V839.30M1052.80 1176.60V1160.80M1240.90 823.50V839.30M1240.90 1176.60V1160.80M1429.00 823.50V839.30M1429.00 1176.60V1160.80M1617.10 823.50V839.30M1617.10 1176.60V1160.80M1805.20 823.50V839.30M1805.20 1176.60V1160.80" stroke="#000" stroke-width="3.50" fill="none"/>
<path d="M1024.50 858.55H1040.30M1833.50 858.55H1817.70M1024.50 929.30H1040.30M1833.50 929.30H1817.70M1024.50 1000.05H1040.30M1833.50 1000.05H1817.70M1024.50 1070.80H1040.30M1833.50 1070.80H1817.70M1024.50 1141.55H1040.30M1833.50 1141.55H1817.70" stroke="#000" stroke-width="3.50" fill="none"/>
<text transform="translate(1849.27 870.62) scale(1.0482 1)" font-size="35.60" fill="#000">0.04</text>
<text transform="translate(1849.23 941.38) scale(1.0732 1)" font-size="35.60" fill="#000">0.02</text>
<text transform="translate(1849.31 1012.12) scale(1.0190 1)" font-size="35.60" fill="#000">0</text>
<text transform="translate(1849.66 1085.43) scale(1.3831 1)" font-size="35.60" fill="#000">−</text>
<text transform="translate(1878.41 1082.88) scale(1.0732 1)" font-size="35.60" fill="#000">0.02</text>
<text transform="translate(1849.66 1156.18) scale(1.3831 1)" font-size="35.60" fill="#000">−</text>
<text transform="translate(1878.44 1153.62) scale(1.0482 1)" font-size="35.60" fill="#000">0.04</text>
<clipPath id="cL3"><rect x="174.80" y="1212.10" width="809.10" height="353.10"/></clipPath>
<g clip-path="url(#cL3)">
<g fill="#008000"><circle cx="190.0" cy="1426.5" r="3.3"/><circle cx="217.6" cy="1439.0" r="3.3"/><circle cx="225.0" cy="1396.2" r="3.3"/><circle cx="239.8" cy="1462.0" r="3.3"/><circle cx="250.0" cy="1452.2" r="3.3"/><circle cx="254.1" cy="1457.1" r="3.3"/><circle cx="259.1" cy="1441.8" r="3.3"/><circle cx="264.8" cy="1452.8" r="3.3"/><circle cx="269.3" cy="1452.8" r="3.3"/><circle cx="293.1" cy="1401.5" r="3.3"/><circle cx="305.1" cy="1372.2" r="3.3"/><circle cx="305.1" cy="1391.6" r="3.3"/><circle cx="308.9" cy="1374.4" r="3.3"/><circle cx="308.9" cy="1448.4" r="3.3"/><circle cx="316.1" cy="1331.1" r="3.3"/><circle cx="316.1" cy="1333.7" r="3.3"/><circle cx="316.1" cy="1384.7" r="3.3"/><circle cx="319.9" cy="1441.8" r="3.3"/><circle cx="326.0" cy="1367.0" r="3.3"/><circle cx="335.9" cy="1337.7" r="3.3"/><circle cx="348.4" cy="1314.3" r="3.3"/><circle cx="352.0" cy="1301.5" r="3.3"/><circle cx="359.7" cy="1365.6" r="3.3"/><circle cx="365.1" cy="1283.4" r="3.3"/><circle cx="365.1" cy="1302.5" r="3.3"/><circle cx="374.2" cy="1417.6" r="3.3"/><circle cx="378.3" cy="1286.4" r="3.3"/><circle cx="382.9" cy="1309.7" r="3.3"/><circle cx="382.9" cy="1311.9" r="3.3"/><circle cx="389.5" cy="1307.8" r="3.3"/><circle cx="389.5" cy="1388.0" r="3.3"/><circle cx="392.8" cy="1398.2" r="3.3"/><circle cx="395.6" cy="1288.3" r="3.3"/><circle cx="401.7" cy="1305.3" r="3.3"/><circle cx="401.7" cy="1311.4" r="3.3"/><circle cx="413.3" cy="1280.6" r="3.3"/><circle cx="418.1" cy="1290.5" r="3.3"/><circle cx="420.2" cy="1285.5" r="3.3"/><circle cx="423.5" cy="1287.2" r="3.3"/><circle cx="429.0" cy="1323.4" r="3.3"/><circle cx="429.0" cy="1341.5" r="3.3"/><circle cx="429.0" cy="1439.0" r="3.3"/><circle cx="440.0" cy="1268.3" r="3.3"/><circle cx="440.0" cy="1285.1" r="3.3"/><circle cx="440.0" cy="1458.2" r="3.3"/><circle cx="456.9" cy="1270.7" r="3.3"/><circle cx="456.9" cy="1277.3" r="3.3"/><circle cx="456.9" cy="1380.9" r="3.3"/><circle cx="466.8" cy="1275.2" r="3.3"/><circle cx="470.1" cy="1322.6" r="3.3"/><circle cx="475.0" cy="1403.1" r="3.3"/><circle cx="475.0" cy="1443.4" r="3.3"/><circle cx="494.1" cy="1313.5" r="3.3"/><circle cx="497.4" cy="1317.3" r="3.3"/><circle cx="497.4" cy="1326.2" r="3.3"/><circle cx="505.1" cy="1380.9" r="3.3"/><circle cx="537.2" cy="1385.1" r="3.3"/><circle cx="600.5" cy="1372.2" r="3.3"/><circle cx="600.5" cy="1385.1" r="3.3"/><circle cx="608.2" cy="1386.7" r="3.3"/><circle cx="627.3" cy="1401.5" r="3.3"/><circle cx="627.3" cy="1419.3" r="3.3"/><circle cx="638.8" cy="1439.0" r="3.3"/><circle cx="638.8" cy="1448.9" r="3.3"/><circle cx="640.8" cy="1451.2" r="3.3"/><circle cx="656.9" cy="1381.8" r="3.3"/><circle cx="661.3" cy="1406.8" r="3.3"/><circle cx="661.3" cy="1476.3" r="3.3"/><circle cx="664.6" cy="1429.5" r="3.3"/><circle cx="671.2" cy="1493.3" r="3.3"/><circle cx="671.2" cy="1502.7" r="3.3"/><circle cx="683.2" cy="1319.6" r="3.3"/><circle cx="683.2" cy="1506.4" r="3.3"/><circle cx="691.8" cy="1485.7" r="3.3"/><circle cx="691.8" cy="1496.1" r="3.3"/><circle cx="696.4" cy="1334.1" r="3.3"/><circle cx="696.4" cy="1404.8" r="3.3"/><circle cx="696.4" cy="1503.5" r="3.3"/><circle cx="708.6" cy="1439.0" r="3.3"/><circle cx="716.1" cy="1495.6" r="3.3"/><circle cx="716.1" cy="1503.8" r="3.3"/><circle cx="731.2" cy="1341.5" r="3.3"/><circle cx="737.3" cy="1362.0" r="3.3"/><circle cx="729.9" cy="1483.7" r="3.3"/><circle cx="729.9" cy="1479.6" r="3.3"/><circle cx="733.2" cy="1470.2" r="3.3"/><circle cx="743.8" cy="1488.7" r="3.3"/><circle cx="747.1" cy="1485.4" r="3.3"/><circle cx="756.2" cy="1483.4" r="3.3"/><circle cx="766.9" cy="1461.5" r="3.3"/><circle cx="771.3" cy="1448.9" r="3.3"/><circle cx="771.3" cy="1468.1" r="3.3"/><circle cx="775.6" cy="1475.5" r="3.3"/><circle cx="782.2" cy="1492.8" r="3.3"/><circle cx="793.5" cy="1460.7" r="3.3"/><circle cx="801.1" cy="1399.9" r="3.3"/><circle cx="801.1" cy="1461.5" r="3.3"/><circle cx="808.8" cy="1345.2" r="3.3"/><circle cx="808.8" cy="1442.3" r="3.3"/><circle cx="817.0" cy="1457.4" r="3.3"/><circle cx="820.3" cy="1364.0" r="3.3"/><circle cx="820.3" cy="1413.3" r="3.3"/><circle cx="836.8" cy="1408.9" r="3.3"/><circle cx="844.7" cy="1367.8" r="3.3"/><circle cx="851.9" cy="1385.9" r="3.3"/><circle cx="860.6" cy="1391.3" r="3.3"/><circle cx="878.2" cy="1345.6" r="3.3"/><circle cx="881.2" cy="1334.9" r="3.3"/><circle cx="884.5" cy="1327.5" r="3.3"/><circle cx="892.7" cy="1316.3" r="3.3"/><circle cx="892.7" cy="1354.6" r="3.3"/><circle cx="932.2" cy="1352.2" r="3.3"/><circle cx="948.6" cy="1364.5" r="3.3"/></g>
<polyline points="209.7,1419.9 255.8,1448.9 304.3,1396.6 325.7,1364.5 370.9,1330.0 410.4,1321.2 448.7,1323.7 455.9,1330.8 488.7,1361.2 532.2,1390.0 569.2,1390.3 615.3,1391.6 651.5,1427.0 690.1,1448.4 720.0,1450.8 729.9,1450.8 770.2,1457.8 809.6,1416.3 846.6,1385.1 886.9,1332.8 941.2,1359.1" fill="none" stroke="#008000" stroke-width="2.00" stroke-linejoin="round"/>
<g fill="#0000ff"><circle cx="190.0" cy="1343.1" r="3.3"/><circle cx="217.6" cy="1369.4" r="3.3"/><circle cx="225.0" cy="1330.4" r="3.3"/><circle cx="239.8" cy="1402.3" r="3.3"/><circle cx="250.0" cy="1426.2" r="3.3"/><circle cx="254.1" cy="1394.9" r="3.3"/><circle cx="254.1" cy="1421.6" r="3.3"/><circle cx="259.1" cy="1423.7" r="3.3"/><circle cx="264.8" cy="1418.8" r="3.3"/><circle cx="269.3" cy="1429.1" r="3.3"/><circle cx="293.1" cy="1416.3" r="3.3"/><circle cx="305.1" cy="1410.5" r="3.3"/><circle cx="305.1" cy="1465.3" r="3.3"/><circle cx="308.9" cy="1440.6" r="3.3"/><circle cx="308.9" cy="1495.2" r="3.3"/><circle cx="316.1" cy="1351.3" r="3.3"/><circle cx="316.1" cy="1355.8" r="3.3"/><circle cx="319.9" cy="1422.9" r="3.3"/><circle cx="318.8" cy="1473.0" r="3.3"/><circle cx="335.9" cy="1391.3" r="3.3"/><circle cx="352.0" cy="1357.9" r="3.3"/><circle cx="359.7" cy="1470.2" r="3.3"/><circle cx="365.1" cy="1338.2" r="3.3"/><circle cx="365.1" cy="1408.1" r="3.3"/><circle cx="365.1" cy="1429.1" r="3.3"/><circle cx="374.2" cy="1399.9" r="3.3"/><circle cx="378.3" cy="1424.5" r="3.3"/><circle cx="382.9" cy="1430.3" r="3.3"/><circle cx="389.5" cy="1383.7" r="3.3"/><circle cx="392.8" cy="1399.5" r="3.3"/><circle cx="395.6" cy="1365.6" r="3.3"/><circle cx="401.7" cy="1413.8" r="3.3"/><circle cx="401.7" cy="1428.6" r="3.3"/><circle cx="413.3" cy="1362.8" r="3.3"/><circle cx="418.1" cy="1372.2" r="3.3"/><circle cx="420.2" cy="1364.5" r="3.3"/><circle cx="434.2" cy="1406.1" r="3.3"/><circle cx="440.0" cy="1338.2" r="3.3"/><circle cx="440.0" cy="1381.4" r="3.3"/><circle cx="440.0" cy="1404.8" r="3.3"/><circle cx="456.9" cy="1326.7" r="3.3"/><circle cx="456.9" cy="1329.1" r="3.3"/><circle cx="466.8" cy="1306.9" r="3.3"/><circle cx="470.1" cy="1357.4" r="3.3"/><circle cx="470.1" cy="1359.1" r="3.3"/><circle cx="475.0" cy="1398.2" r="3.3"/><circle cx="494.1" cy="1336.5" r="3.3"/><circle cx="494.1" cy="1348.9" r="3.3"/><circle cx="494.1" cy="1378.1" r="3.3"/><circle cx="497.4" cy="1333.7" r="3.3"/><circle cx="497.4" cy="1340.3" r="3.3"/><circle cx="501.8" cy="1392.5" r="3.3"/><circle cx="505.1" cy="1364.5" r="3.3"/><circle cx="517.8" cy="1386.7" r="3.3"/><circle cx="520.2" cy="1379.3" r="3.3"/><circle cx="537.2" cy="1379.3" r="3.3"/><circle cx="537.2" cy="1403.1" r="3.3"/><circle cx="544.6" cy="1392.5" r="3.3"/><circle cx="569.2" cy="1388.7" r="3.3"/><circle cx="600.5" cy="1388.7" r="3.3"/><circle cx="608.2" cy="1383.4" r="3.3"/><circle cx="627.3" cy="1390.8" r="3.3"/><circle cx="627.3" cy="1394.9" r="3.3"/><circle cx="627.3" cy="1416.0" r="3.3"/><circle cx="638.8" cy="1401.8" r="3.3"/><circle cx="638.8" cy="1432.8" r="3.3"/><circle cx="640.8" cy="1424.5" r="3.3"/><circle cx="640.8" cy="1439.7" r="3.3"/><circle cx="656.9" cy="1405.1" r="3.3"/><circle cx="661.3" cy="1414.3" r="3.3"/><circle cx="661.3" cy="1443.9" r="3.3"/><circle cx="664.6" cy="1426.2" r="3.3"/><circle cx="671.2" cy="1464.8" r="3.3"/><circle cx="671.2" cy="1468.6" r="3.3"/><circle cx="683.2" cy="1371.6" r="3.3"/><circle cx="683.2" cy="1461.5" r="3.3"/><circle cx="691.8" cy="1405.6" r="3.3"/><circle cx="691.8" cy="1433.6" r="3.3"/><circle cx="696.4" cy="1378.5" r="3.3"/><circle cx="696.4" cy="1433.6" r="3.3"/><circle cx="716.1" cy="1417.9" r="3.3"/><circle cx="716.1" cy="1420.4" r="3.3"/><circle cx="720.0" cy="1417.1" r="3.3"/><circle cx="731.2" cy="1349.7" r="3.3"/><circle cx="731.2" cy="1362.0" r="3.3"/><circle cx="731.2" cy="1372.2" r="3.3"/><circle cx="737.3" cy="1378.5" r="3.3"/><circle cx="743.8" cy="1409.7" r="3.3"/><circle cx="747.1" cy="1410.5" r="3.3"/><circle cx="756.2" cy="1357.4" r="3.3"/><circle cx="766.9" cy="1383.4" r="3.3"/><circle cx="771.3" cy="1346.4" r="3.3"/><circle cx="771.3" cy="1387.5" r="3.3"/><circle cx="772.6" cy="1373.5" r="3.3"/><circle cx="775.6" cy="1350.2" r="3.3"/><circle cx="782.2" cy="1440.6" r="3.3"/><circle cx="793.5" cy="1404.8" r="3.3"/><circle cx="801.1" cy="1298.7" r="3.3"/><circle cx="808.8" cy="1334.1" r="3.3"/><circle cx="808.8" cy="1340.3" r="3.3"/><circle cx="808.8" cy="1363.7" r="3.3"/><circle cx="817.0" cy="1291.0" r="3.3"/><circle cx="817.0" cy="1429.1" r="3.3"/><circle cx="820.3" cy="1365.0" r="3.3"/><circle cx="836.8" cy="1390.8" r="3.3"/><circle cx="837.6" cy="1368.6" r="3.3"/><circle cx="844.7" cy="1358.7" r="3.3"/><circle cx="851.9" cy="1358.7" r="3.3"/><circle cx="860.6" cy="1356.8" r="3.3"/><circle cx="878.2" cy="1360.4" r="3.3"/><circle cx="881.2" cy="1354.6" r="3.3"/><circle cx="884.5" cy="1354.6" r="3.3"/><circle cx="892.7" cy="1331.6" r="3.3"/><circle cx="892.7" cy="1357.9" r="3.3"/><circle cx="892.7" cy="1366.6" r="3.3"/><circle cx="948.6" cy="1441.8" r="3.3"/></g>
<polyline points="209.7,1347.2 255.8,1416.6 304.3,1445.9 325.7,1398.2 370.9,1405.1 410.4,1386.7 448.7,1363.1 455.9,1362.8 488.7,1364.0 532.2,1388.0 569.2,1389.2 615.3,1392.9 651.5,1423.2 690.1,1418.8 720.0,1397.4 729.9,1389.7 733.2,1387.5 772.6,1377.7 810.1,1357.9 846.6,1367.0 886.1,1355.8 892.7,1362.8 941.2,1437.4" fill="none" stroke="#0000ff" stroke-width="2.00" stroke-linejoin="round"/>
<g fill="#ff0000"><circle cx="190.0" cy="1389.2" r="3.3"/><circle cx="217.6" cy="1349.2" r="3.3"/><circle cx="225.0" cy="1384.2" r="3.3"/><circle cx="239.8" cy="1377.7" r="3.3"/><circle cx="259.1" cy="1388.3" r="3.3"/><circle cx="264.8" cy="1346.9" r="3.3"/><circle cx="269.3" cy="1337.7" r="3.3"/><circle cx="293.1" cy="1385.9" r="3.3"/><circle cx="305.1" cy="1376.0" r="3.3"/><circle cx="305.1" cy="1404.0" r="3.3"/><circle cx="308.9" cy="1368.9" r="3.3"/><circle cx="308.9" cy="1394.9" r="3.3"/><circle cx="316.1" cy="1382.6" r="3.3"/><circle cx="319.9" cy="1341.0" r="3.3"/><circle cx="326.0" cy="1341.5" r="3.3"/><circle cx="326.0" cy="1347.6" r="3.3"/><circle cx="335.9" cy="1350.5" r="3.3"/><circle cx="348.4" cy="1383.1" r="3.3"/><circle cx="359.7" cy="1376.5" r="3.3"/><circle cx="365.1" cy="1342.6" r="3.3"/><circle cx="366.5" cy="1379.3" r="3.3"/><circle cx="374.2" cy="1368.6" r="3.3"/><circle cx="389.5" cy="1367.3" r="3.3"/><circle cx="389.5" cy="1387.5" r="3.3"/><circle cx="395.6" cy="1360.7" r="3.3"/><circle cx="401.7" cy="1385.1" r="3.3"/><circle cx="413.3" cy="1374.4" r="3.3"/><circle cx="413.3" cy="1390.8" r="3.3"/><circle cx="418.1" cy="1392.9" r="3.3"/><circle cx="423.5" cy="1392.5" r="3.3"/><circle cx="429.0" cy="1394.9" r="3.3"/><circle cx="429.0" cy="1401.2" r="3.3"/><circle cx="434.2" cy="1394.1" r="3.3"/><circle cx="440.0" cy="1392.9" r="3.3"/><circle cx="440.0" cy="1424.2" r="3.3"/><circle cx="456.9" cy="1390.0" r="3.3"/><circle cx="466.8" cy="1390.8" r="3.3"/><circle cx="470.1" cy="1391.6" r="3.3"/><circle cx="475.0" cy="1423.7" r="3.3"/><circle cx="494.1" cy="1403.1" r="3.3"/><circle cx="494.1" cy="1410.5" r="3.3"/><circle cx="494.1" cy="1416.0" r="3.3"/><circle cx="501.8" cy="1383.1" r="3.3"/><circle cx="505.1" cy="1400.2" r="3.3"/><circle cx="517.8" cy="1389.7" r="3.3"/><circle cx="520.2" cy="1408.1" r="3.3"/><circle cx="537.2" cy="1396.2" r="3.3"/><circle cx="534.2" cy="1422.9" r="3.3"/><circle cx="539.6" cy="1431.4" r="3.3"/><circle cx="600.5" cy="1357.9" r="3.3"/><circle cx="600.5" cy="1373.9" r="3.3"/><circle cx="608.2" cy="1343.6" r="3.3"/><circle cx="627.3" cy="1351.3" r="3.3"/><circle cx="627.3" cy="1374.4" r="3.3"/><circle cx="627.3" cy="1380.9" r="3.3"/><circle cx="638.0" cy="1365.3" r="3.3"/><circle cx="640.8" cy="1357.1" r="3.3"/><circle cx="640.8" cy="1359.6" r="3.3"/><circle cx="656.9" cy="1376.8" r="3.3"/><circle cx="661.3" cy="1381.8" r="3.3"/><circle cx="664.6" cy="1385.1" r="3.3"/><circle cx="683.2" cy="1348.9" r="3.3"/><circle cx="683.2" cy="1385.9" r="3.3"/><circle cx="691.8" cy="1392.9" r="3.3"/><circle cx="696.4" cy="1353.5" r="3.3"/><circle cx="696.4" cy="1376.8" r="3.3"/><circle cx="716.1" cy="1382.6" r="3.3"/><circle cx="720.0" cy="1383.4" r="3.3"/><circle cx="731.2" cy="1373.2" r="3.3"/><circle cx="731.2" cy="1383.4" r="3.3"/><circle cx="737.3" cy="1373.5" r="3.3"/><circle cx="737.3" cy="1391.3" r="3.3"/><circle cx="743.8" cy="1414.3" r="3.3"/><circle cx="747.1" cy="1414.3" r="3.3"/><circle cx="756.2" cy="1384.2" r="3.3"/><circle cx="771.3" cy="1409.7" r="3.3"/><circle cx="772.6" cy="1404.8" r="3.3"/><circle cx="772.6" cy="1427.0" r="3.3"/><circle cx="775.6" cy="1399.5" r="3.3"/><circle cx="782.2" cy="1426.2" r="3.3"/><circle cx="793.5" cy="1397.4" r="3.3"/><circle cx="801.1" cy="1397.4" r="3.3"/><circle cx="808.8" cy="1394.9" r="3.3"/><circle cx="808.8" cy="1404.5" r="3.3"/><circle cx="808.8" cy="1445.1" r="3.3"/><circle cx="817.0" cy="1442.9" r="3.3"/><circle cx="820.3" cy="1406.4" r="3.3"/><circle cx="836.8" cy="1378.8" r="3.3"/><circle cx="844.7" cy="1412.2" r="3.3"/><circle cx="851.9" cy="1405.6" r="3.3"/><circle cx="860.6" cy="1414.3" r="3.3"/><circle cx="881.2" cy="1391.6" r="3.3"/><circle cx="884.5" cy="1412.2" r="3.3"/><circle cx="892.7" cy="1391.3" r="3.3"/><circle cx="892.7" cy="1410.1" r="3.3"/><circle cx="892.7" cy="1431.1" r="3.3"/><circle cx="932.2" cy="1418.8" r="3.3"/><circle cx="948.6" cy="1387.5" r="3.3"/></g>
<polyline points="209.7,1374.4 253.3,1368.6 303.5,1385.1 325.7,1362.8 370.9,1370.6 410.4,1384.2 448.7,1393.0 455.9,1394.1 488.7,1399.9 532.2,1407.3 615.3,1363.7 651.5,1375.2 690.1,1380.9 720.0,1387.0 729.9,1389.7 733.2,1390.0 771.0,1408.4 809.6,1409.4 846.6,1401.5 892.7,1404.8 941.2,1403.5" fill="none" stroke="#ff0000" stroke-width="2.00" stroke-linejoin="round"/>
<g fill="#000000"><circle cx="190.0" cy="1368.9" r="3.3"/><circle cx="217.6" cy="1343.6" r="3.3"/><circle cx="225.0" cy="1362.4" r="3.3"/><circle cx="239.8" cy="1373.9" r="3.3"/><circle cx="250.0" cy="1383.7" r="3.3"/><circle cx="254.1" cy="1381.4" r="3.3"/><circle cx="259.1" cy="1385.9" r="3.3"/><circle cx="264.8" cy="1345.9" r="3.3"/><circle cx="269.3" cy="1346.9" r="3.3"/><circle cx="293.1" cy="1382.1" r="3.3"/><circle cx="305.1" cy="1382.6" r="3.3"/><circle cx="305.1" cy="1401.8" r="3.3"/><circle cx="316.1" cy="1385.4" r="3.3"/><circle cx="316.1" cy="1391.3" r="3.3"/><circle cx="319.9" cy="1361.2" r="3.3"/><circle cx="319.9" cy="1377.2" r="3.3"/><circle cx="326.0" cy="1352.5" r="3.3"/><circle cx="335.9" cy="1354.1" r="3.3"/><circle cx="348.4" cy="1380.9" r="3.3"/><circle cx="352.0" cy="1371.9" r="3.3"/><circle cx="359.7" cy="1380.9" r="3.3"/><circle cx="365.1" cy="1348.5" r="3.3"/><circle cx="365.1" cy="1353.0" r="3.3"/><circle cx="366.5" cy="1382.1" r="3.3"/><circle cx="374.2" cy="1369.9" r="3.3"/><circle cx="378.3" cy="1391.3" r="3.3"/><circle cx="382.9" cy="1371.6" r="3.3"/><circle cx="382.9" cy="1379.3" r="3.3"/><circle cx="389.5" cy="1365.6" r="3.3"/><circle cx="389.5" cy="1385.9" r="3.3"/><circle cx="392.8" cy="1385.9" r="3.3"/><circle cx="395.6" cy="1356.3" r="3.3"/><circle cx="401.7" cy="1386.7" r="3.3"/><circle cx="413.3" cy="1368.3" r="3.3"/><circle cx="418.1" cy="1390.8" r="3.3"/><circle cx="420.2" cy="1390.0" r="3.3"/><circle cx="423.5" cy="1390.0" r="3.3"/><circle cx="429.0" cy="1384.2" r="3.3"/><circle cx="434.2" cy="1385.1" r="3.3"/><circle cx="440.0" cy="1383.4" r="3.3"/><circle cx="440.0" cy="1406.8" r="3.3"/><circle cx="456.9" cy="1383.4" r="3.3"/><circle cx="456.9" cy="1386.7" r="3.3"/><circle cx="466.8" cy="1385.1" r="3.3"/><circle cx="470.1" cy="1376.8" r="3.3"/><circle cx="470.1" cy="1382.6" r="3.3"/><circle cx="475.0" cy="1392.9" r="3.3"/><circle cx="475.0" cy="1404.8" r="3.3"/><circle cx="494.1" cy="1387.5" r="3.3"/><circle cx="494.1" cy="1392.9" r="3.3"/><circle cx="497.4" cy="1399.9" r="3.3"/><circle cx="497.4" cy="1404.5" r="3.3"/><circle cx="501.8" cy="1388.0" r="3.3"/><circle cx="505.1" cy="1386.7" r="3.3"/><circle cx="517.8" cy="1388.7" r="3.3"/><circle cx="520.2" cy="1399.0" r="3.3"/><circle cx="537.2" cy="1391.6" r="3.3"/><circle cx="534.2" cy="1412.7" r="3.3"/><circle cx="539.6" cy="1422.9" r="3.3"/><circle cx="544.6" cy="1395.7" r="3.3"/><circle cx="569.2" cy="1390.3" r="3.3"/><circle cx="600.5" cy="1362.0" r="3.3"/><circle cx="600.5" cy="1377.7" r="3.3"/><circle cx="608.2" cy="1356.8" r="3.3"/><circle cx="627.3" cy="1364.5" r="3.3"/><circle cx="627.3" cy="1384.2" r="3.3"/><circle cx="627.3" cy="1386.7" r="3.3"/><circle cx="638.8" cy="1389.2" r="3.3"/><circle cx="638.0" cy="1377.7" r="3.3"/><circle cx="640.8" cy="1372.2" r="3.3"/><circle cx="656.9" cy="1388.7" r="3.3"/><circle cx="661.3" cy="1395.7" r="3.3"/><circle cx="664.6" cy="1394.1" r="3.3"/><circle cx="671.2" cy="1392.5" r="3.3"/><circle cx="683.2" cy="1368.3" r="3.3"/><circle cx="683.2" cy="1391.6" r="3.3"/><circle cx="691.8" cy="1396.2" r="3.3"/><circle cx="696.4" cy="1388.7" r="3.3"/><circle cx="708.6" cy="1397.4" r="3.3"/><circle cx="716.1" cy="1387.5" r="3.3"/><circle cx="716.1" cy="1399.5" r="3.3"/><circle cx="731.2" cy="1381.4" r="3.3"/><circle cx="731.2" cy="1384.2" r="3.3"/><circle cx="737.3" cy="1383.4" r="3.3"/><circle cx="737.3" cy="1396.6" r="3.3"/><circle cx="743.8" cy="1418.8" r="3.3"/><circle cx="747.1" cy="1418.3" r="3.3"/><circle cx="756.2" cy="1387.5" r="3.3"/><circle cx="766.9" cy="1412.2" r="3.3"/><circle cx="771.3" cy="1400.7" r="3.3"/><circle cx="772.6" cy="1423.2" r="3.3"/><circle cx="775.6" cy="1396.6" r="3.3"/><circle cx="782.2" cy="1421.6" r="3.3"/><circle cx="793.5" cy="1398.5" r="3.3"/><circle cx="801.1" cy="1393.3" r="3.3"/><circle cx="808.8" cy="1391.3" r="3.3"/><circle cx="808.8" cy="1402.8" r="3.3"/><circle cx="811.3" cy="1431.4" r="3.3"/><circle cx="817.0" cy="1392.9" r="3.3"/><circle cx="817.0" cy="1397.4" r="3.3"/><circle cx="820.3" cy="1431.4" r="3.3"/><circle cx="836.8" cy="1375.2" r="3.3"/><circle cx="836.8" cy="1397.4" r="3.3"/><circle cx="844.7" cy="1413.3" r="3.3"/><circle cx="851.9" cy="1397.4" r="3.3"/><circle cx="860.6" cy="1399.9" r="3.3"/><circle cx="878.2" cy="1391.6" r="3.3"/><circle cx="881.2" cy="1391.6" r="3.3"/><circle cx="884.5" cy="1414.7" r="3.3"/><circle cx="892.7" cy="1404.0" r="3.3"/><circle cx="892.7" cy="1424.9" r="3.3"/><circle cx="932.2" cy="1431.4" r="3.3"/><circle cx="948.6" cy="1411.4" r="3.3"/></g>
<polyline points="209.7,1358.4 254.9,1369.4 303.5,1385.9 325.7,1369.4 370.9,1372.7 410.4,1382.6 448.7,1388.5 455.9,1388.7 488.7,1391.3 532.2,1401.5 615.3,1372.2 651.5,1385.9 690.1,1388.3 720.0,1392.5 729.9,1394.1 733.2,1394.9 771.0,1406.8 809.6,1404.0 846.6,1396.6 892.7,1407.3 941.2,1421.6" fill="none" stroke="#000000" stroke-width="2.00" stroke-linejoin="round"/>
</g>
<rect x="174.80" y="1212.10" width="809.10" height="353.10" fill="none" stroke="#000" stroke-width="3.50"/>
<path d="M203.01 1212.10V1227.90M203.01 1565.20V1549.40M391.23 1212.10V1227.90M391.23 1565.20V1549.40M579.45 1212.10V1227.90M579.45 1565.20V1549.40M767.67 1212.10V1227.90M767.67 1565.20V1549.40M955.89 1212.10V1227.90M955.89 1565.20V1549.40" stroke="#000" stroke-width="3.50" fill="none"/>
<path d="M174.80 1247.15H190.60M983.90 1247.15H968.10M174.80 1317.90H190.60M983.90 1317.90H968.10M174.80 1388.65H190.60M983.90 1388.65H968.10M174.80 1459.40H190.60M983.90 1459.40H968.10M174.80 1530.15H190.60M983.90 1530.15H968.10" stroke="#000" stroke-width="3.50" fill="none"/>
<text transform="translate(93.39 1259.23) scale(1.0482 1)" font-size="35.60" fill="#000">0.04</text>
<text transform="translate(93.36 1329.98) scale(1.0732 1)" font-size="35.60" fill="#000">0.02</text>
<text transform="translate(141.36 1400.73) scale(1.0190 1)" font-size="35.60" fill="#000">0</text>
<text transform="translate(64.61 1474.03) scale(1.3831 1)" font-size="35.60" fill="#000">−</text>
<text transform="translate(93.36 1471.48) scale(1.0732 1)" font-size="35.60" fill="#000">0.02</text>
<text transform="translate(64.61 1544.78) scale(1.3831 1)" font-size="35.60" fill="#000">−</text>
<text transform="translate(93.39 1542.23) scale(1.0482 1)" font-size="35.60" fill="#000">0.04</text>
<clipPath id="cR3"><rect x="1024.50" y="1212.10" width="809.00" height="353.10"/></clipPath>
<g clip-path="url(#cR3)">
<g fill="#008000"><circle cx="1039.7" cy="1383.1" r="3.3"/><circle cx="1067.1" cy="1422.6" r="3.3"/><circle cx="1075.0" cy="1431.1" r="3.3"/><circle cx="1089.7" cy="1408.9" r="3.3"/><circle cx="1099.7" cy="1464.3" r="3.3"/><circle cx="1103.6" cy="1417.6" r="3.3"/><circle cx="1103.6" cy="1453.8" r="3.3"/><circle cx="1108.2" cy="1470.2" r="3.3"/><circle cx="1114.8" cy="1426.5" r="3.3"/><circle cx="1118.9" cy="1426.5" r="3.3"/><circle cx="1143.1" cy="1433.1" r="3.3"/><circle cx="1154.6" cy="1333.7" r="3.3"/><circle cx="1154.6" cy="1356.3" r="3.3"/><circle cx="1154.6" cy="1424.2" r="3.3"/><circle cx="1158.9" cy="1372.7" r="3.3"/><circle cx="1168.3" cy="1349.2" r="3.3"/><circle cx="1169.4" cy="1390.8" r="3.3"/><circle cx="1169.4" cy="1427.5" r="3.3"/><circle cx="1175.7" cy="1428.6" r="3.3"/><circle cx="1175.7" cy="1434.4" r="3.3"/><circle cx="1185.5" cy="1429.1" r="3.3"/><circle cx="1197.9" cy="1407.8" r="3.3"/><circle cx="1201.7" cy="1401.5" r="3.3"/><circle cx="1209.1" cy="1367.8" r="3.3"/><circle cx="1215.1" cy="1387.0" r="3.3"/><circle cx="1223.9" cy="1356.8" r="3.3"/><circle cx="1228.0" cy="1398.5" r="3.3"/><circle cx="1239.5" cy="1400.7" r="3.3"/><circle cx="1242.3" cy="1324.5" r="3.3"/><circle cx="1245.6" cy="1377.2" r="3.3"/><circle cx="1251.7" cy="1401.5" r="3.3"/><circle cx="1262.8" cy="1364.5" r="3.3"/><circle cx="1268.1" cy="1376.0" r="3.3"/><circle cx="1270.2" cy="1369.4" r="3.3"/><circle cx="1272.7" cy="1386.4" r="3.3"/><circle cx="1279.0" cy="1375.5" r="3.3"/><circle cx="1279.0" cy="1400.7" r="3.3"/><circle cx="1282.9" cy="1305.3" r="3.3"/><circle cx="1290.5" cy="1333.7" r="3.3"/><circle cx="1290.5" cy="1341.5" r="3.3"/><circle cx="1290.5" cy="1379.8" r="3.3"/><circle cx="1306.6" cy="1343.9" r="3.3"/><circle cx="1306.6" cy="1349.7" r="3.3"/><circle cx="1311.5" cy="1286.0" r="3.3"/><circle cx="1316.4" cy="1324.5" r="3.3"/><circle cx="1319.7" cy="1363.3" r="3.3"/><circle cx="1319.7" cy="1376.0" r="3.3"/><circle cx="1324.7" cy="1345.9" r="3.3"/><circle cx="1326.3" cy="1285.1" r="3.3"/><circle cx="1342.8" cy="1325.5" r="3.3"/><circle cx="1342.8" cy="1335.4" r="3.3"/><circle cx="1342.8" cy="1339.3" r="3.3"/><circle cx="1346.9" cy="1307.4" r="3.3"/><circle cx="1346.9" cy="1311.4" r="3.3"/><circle cx="1351.3" cy="1336.5" r="3.3"/><circle cx="1354.6" cy="1345.6" r="3.3"/><circle cx="1367.4" cy="1333.2" r="3.3"/><circle cx="1370.2" cy="1322.2" r="3.3"/><circle cx="1383.9" cy="1304.8" r="3.3"/><circle cx="1386.8" cy="1332.4" r="3.3"/><circle cx="1388.8" cy="1293.8" r="3.3"/><circle cx="1394.2" cy="1311.0" r="3.3"/><circle cx="1419.2" cy="1306.1" r="3.3"/><circle cx="1450.0" cy="1299.9" r="3.3"/><circle cx="1450.0" cy="1320.6" r="3.3"/><circle cx="1457.9" cy="1297.1" r="3.3"/><circle cx="1476.8" cy="1305.3" r="3.3"/><circle cx="1476.8" cy="1327.5" r="3.3"/><circle cx="1476.8" cy="1331.1" r="3.3"/><circle cx="1487.5" cy="1314.0" r="3.3"/><circle cx="1487.5" cy="1342.3" r="3.3"/><circle cx="1491.1" cy="1305.3" r="3.3"/><circle cx="1491.1" cy="1307.8" r="3.3"/><circle cx="1506.4" cy="1341.5" r="3.3"/><circle cx="1511.0" cy="1350.2" r="3.3"/><circle cx="1511.0" cy="1362.4" r="3.3"/><circle cx="1515.1" cy="1350.2" r="3.3"/><circle cx="1521.2" cy="1327.8" r="3.3"/><circle cx="1521.2" cy="1334.1" r="3.3"/><circle cx="1533.2" cy="1331.1" r="3.3"/><circle cx="1533.2" cy="1334.9" r="3.3"/><circle cx="1541.8" cy="1362.8" r="3.3"/><circle cx="1541.8" cy="1382.1" r="3.3"/><circle cx="1546.4" cy="1346.4" r="3.3"/><circle cx="1546.4" cy="1355.8" r="3.3"/><circle cx="1548.0" cy="1396.2" r="3.3"/><circle cx="1557.9" cy="1393.3" r="3.3"/><circle cx="1565.1" cy="1353.8" r="3.3"/><circle cx="1565.1" cy="1364.0" r="3.3"/><circle cx="1581.2" cy="1308.1" r="3.3"/><circle cx="1581.2" cy="1390.0" r="3.3"/><circle cx="1582.8" cy="1390.8" r="3.3"/><circle cx="1586.8" cy="1395.7" r="3.3"/><circle cx="1586.8" cy="1401.5" r="3.3"/><circle cx="1593.8" cy="1378.5" r="3.3"/><circle cx="1596.3" cy="1383.4" r="3.3"/><circle cx="1605.9" cy="1405.1" r="3.3"/><circle cx="1616.9" cy="1407.3" r="3.3"/><circle cx="1621.5" cy="1401.8" r="3.3"/><circle cx="1625.1" cy="1401.5" r="3.3"/><circle cx="1631.7" cy="1386.4" r="3.3"/><circle cx="1643.2" cy="1409.4" r="3.3"/><circle cx="1650.6" cy="1360.1" r="3.3"/><circle cx="1658.0" cy="1378.1" r="3.3"/><circle cx="1661.0" cy="1436.4" r="3.3"/><circle cx="1667.0" cy="1363.3" r="3.3"/><circle cx="1670.3" cy="1434.4" r="3.3"/><circle cx="1686.8" cy="1361.2" r="3.3"/><circle cx="1686.8" cy="1409.4" r="3.3"/><circle cx="1694.2" cy="1436.4" r="3.3"/><circle cx="1701.6" cy="1396.2" r="3.3"/><circle cx="1710.6" cy="1401.5" r="3.3"/><circle cx="1728.2" cy="1463.7" r="3.3"/><circle cx="1731.2" cy="1456.6" r="3.3"/><circle cx="1734.5" cy="1445.6" r="3.3"/><circle cx="1742.7" cy="1351.3" r="3.3"/><circle cx="1742.7" cy="1411.0" r="3.3"/><circle cx="1742.7" cy="1415.0" r="3.3"/><circle cx="1798.3" cy="1431.1" r="3.3"/></g>
<polyline points="1059.7,1411.7 1105.8,1438.0 1153.5,1385.1 1175.7,1407.3 1216.8,1396.9 1260.4,1380.4 1298.7,1340.6 1305.9,1339.8 1338.7,1333.7 1382.2,1316.0 1419.2,1306.4 1465.3,1313.5 1505.6,1339.0 1543.4,1358.4 1570.0,1372.7 1579.9,1379.3 1583.2,1380.1 1621.0,1404.0 1659.6,1392.9 1696.6,1400.7 1736.9,1423.7 1791.2,1415.0" fill="none" stroke="#008000" stroke-width="2.00" stroke-linejoin="round"/>
<g fill="#0000ff"><circle cx="1039.7" cy="1319.6" r="3.3"/><circle cx="1067.1" cy="1318.9" r="3.3"/><circle cx="1075.0" cy="1339.0" r="3.3"/><circle cx="1089.7" cy="1306.4" r="3.3"/><circle cx="1099.7" cy="1392.5" r="3.3"/><circle cx="1103.6" cy="1335.7" r="3.3"/><circle cx="1103.6" cy="1366.6" r="3.3"/><circle cx="1108.2" cy="1407.3" r="3.3"/><circle cx="1114.8" cy="1335.4" r="3.3"/><circle cx="1118.9" cy="1346.4" r="3.3"/><circle cx="1143.1" cy="1404.5" r="3.3"/><circle cx="1154.6" cy="1419.6" r="3.3"/><circle cx="1156.9" cy="1360.1" r="3.3"/><circle cx="1158.9" cy="1385.1" r="3.3"/><circle cx="1165.8" cy="1424.5" r="3.3"/><circle cx="1169.4" cy="1410.1" r="3.3"/><circle cx="1175.7" cy="1439.0" r="3.3"/><circle cx="1185.5" cy="1443.4" r="3.3"/><circle cx="1197.9" cy="1433.1" r="3.3"/><circle cx="1201.7" cy="1430.8" r="3.3"/><circle cx="1209.1" cy="1406.1" r="3.3"/><circle cx="1215.1" cy="1428.6" r="3.3"/><circle cx="1215.1" cy="1440.2" r="3.3"/><circle cx="1215.1" cy="1461.0" r="3.3"/><circle cx="1223.9" cy="1420.4" r="3.3"/><circle cx="1228.0" cy="1428.6" r="3.3"/><circle cx="1232.9" cy="1439.0" r="3.3"/><circle cx="1237.0" cy="1429.5" r="3.3"/><circle cx="1239.5" cy="1414.3" r="3.3"/><circle cx="1242.3" cy="1434.4" r="3.3"/><circle cx="1245.6" cy="1404.0" r="3.3"/><circle cx="1251.7" cy="1427.0" r="3.3"/><circle cx="1253.0" cy="1424.5" r="3.3"/><circle cx="1268.1" cy="1387.5" r="3.3"/><circle cx="1268.1" cy="1425.3" r="3.3"/><circle cx="1270.2" cy="1393.3" r="3.3"/><circle cx="1272.7" cy="1410.1" r="3.3"/><circle cx="1272.7" cy="1426.2" r="3.3"/><circle cx="1279.0" cy="1428.1" r="3.3"/><circle cx="1282.9" cy="1421.6" r="3.3"/><circle cx="1306.6" cy="1433.6" r="3.3"/><circle cx="1306.6" cy="1447.6" r="3.3"/><circle cx="1311.5" cy="1393.6" r="3.3"/><circle cx="1316.4" cy="1438.5" r="3.3"/><circle cx="1319.7" cy="1452.2" r="3.3"/><circle cx="1319.7" cy="1454.1" r="3.3"/><circle cx="1324.7" cy="1396.9" r="3.3"/><circle cx="1324.7" cy="1426.2" r="3.3"/><circle cx="1342.8" cy="1406.1" r="3.3"/><circle cx="1342.8" cy="1452.2" r="3.3"/><circle cx="1344.1" cy="1441.0" r="3.3"/><circle cx="1346.9" cy="1440.2" r="3.3"/><circle cx="1351.3" cy="1392.9" r="3.3"/><circle cx="1354.6" cy="1428.6" r="3.3"/><circle cx="1367.4" cy="1393.6" r="3.3"/><circle cx="1370.2" cy="1394.6" r="3.3"/><circle cx="1383.9" cy="1385.9" r="3.3"/><circle cx="1386.8" cy="1391.3" r="3.3"/><circle cx="1388.8" cy="1366.6" r="3.3"/><circle cx="1394.2" cy="1359.6" r="3.3"/><circle cx="1419.2" cy="1348.0" r="3.3"/><circle cx="1450.0" cy="1358.7" r="3.3"/><circle cx="1450.0" cy="1375.2" r="3.3"/><circle cx="1457.9" cy="1386.7" r="3.3"/><circle cx="1476.8" cy="1384.2" r="3.3"/><circle cx="1476.8" cy="1399.9" r="3.3"/><circle cx="1487.5" cy="1409.4" r="3.3"/><circle cx="1491.1" cy="1430.3" r="3.3"/><circle cx="1490.8" cy="1434.4" r="3.3"/><circle cx="1506.4" cy="1409.7" r="3.3"/><circle cx="1511.0" cy="1447.6" r="3.3"/><circle cx="1511.0" cy="1461.0" r="3.3"/><circle cx="1515.1" cy="1447.2" r="3.3"/><circle cx="1521.2" cy="1455.0" r="3.3"/><circle cx="1533.2" cy="1431.4" r="3.3"/><circle cx="1541.8" cy="1447.2" r="3.3"/><circle cx="1546.4" cy="1417.1" r="3.3"/><circle cx="1557.9" cy="1437.4" r="3.3"/><circle cx="1565.1" cy="1397.9" r="3.3"/><circle cx="1581.2" cy="1406.8" r="3.3"/><circle cx="1579.0" cy="1406.4" r="3.3"/><circle cx="1582.8" cy="1399.0" r="3.3"/><circle cx="1586.8" cy="1433.6" r="3.3"/><circle cx="1593.8" cy="1402.8" r="3.3"/><circle cx="1596.3" cy="1404.8" r="3.3"/><circle cx="1605.9" cy="1420.4" r="3.3"/><circle cx="1616.9" cy="1427.0" r="3.3"/><circle cx="1621.5" cy="1431.1" r="3.3"/><circle cx="1621.5" cy="1447.6" r="3.3"/><circle cx="1621.5" cy="1455.4" r="3.3"/><circle cx="1625.1" cy="1443.9" r="3.3"/><circle cx="1631.7" cy="1427.8" r="3.3"/><circle cx="1643.2" cy="1432.4" r="3.3"/><circle cx="1650.6" cy="1398.2" r="3.3"/><circle cx="1658.0" cy="1392.0" r="3.3"/><circle cx="1661.0" cy="1422.9" r="3.3"/><circle cx="1661.0" cy="1429.1" r="3.3"/><circle cx="1661.0" cy="1436.0" r="3.3"/><circle cx="1667.0" cy="1424.9" r="3.3"/><circle cx="1670.3" cy="1439.3" r="3.3"/><circle cx="1686.8" cy="1417.6" r="3.3"/><circle cx="1686.8" cy="1425.3" r="3.3"/><circle cx="1694.2" cy="1393.3" r="3.3"/><circle cx="1701.6" cy="1374.4" r="3.3"/><circle cx="1710.6" cy="1381.8" r="3.3"/><circle cx="1728.2" cy="1411.4" r="3.3"/><circle cx="1731.2" cy="1396.9" r="3.3"/><circle cx="1734.5" cy="1364.0" r="3.3"/><circle cx="1742.7" cy="1313.5" r="3.3"/><circle cx="1742.7" cy="1325.0" r="3.3"/><circle cx="1782.2" cy="1321.7" r="3.3"/><circle cx="1798.3" cy="1327.5" r="3.3"/></g>
<polyline points="1059.7,1325.5 1105.8,1355.8 1153.5,1392.5 1175.7,1421.6 1220.9,1429.8 1260.4,1414.7 1300.0,1424.2 1305.9,1425.3 1338.7,1429.5 1382.2,1381.8 1419.2,1348.5 1465.3,1388.0 1500.7,1435.2 1541.8,1435.2 1570.0,1418.8 1579.9,1412.2 1583.2,1413.0 1621.0,1436.4 1659.6,1418.8 1696.6,1399.0 1736.9,1362.8 1791.2,1323.9" fill="none" stroke="#0000ff" stroke-width="2.00" stroke-linejoin="round"/>
<g fill="#ff0000"><circle cx="1039.7" cy="1417.9" r="3.3"/><circle cx="1067.1" cy="1383.1" r="3.3"/><circle cx="1075.0" cy="1395.7" r="3.3"/><circle cx="1089.7" cy="1376.0" r="3.3"/><circle cx="1099.7" cy="1363.3" r="3.3"/><circle cx="1103.6" cy="1359.6" r="3.3"/><circle cx="1108.2" cy="1353.5" r="3.3"/><circle cx="1114.8" cy="1346.4" r="3.3"/><circle cx="1118.9" cy="1339.3" r="3.3"/><circle cx="1143.1" cy="1364.5" r="3.3"/><circle cx="1154.6" cy="1335.7" r="3.3"/><circle cx="1154.6" cy="1367.8" r="3.3"/><circle cx="1158.9" cy="1371.6" r="3.3"/><circle cx="1168.3" cy="1329.5" r="3.3"/><circle cx="1165.8" cy="1379.3" r="3.3"/><circle cx="1175.7" cy="1375.5" r="3.3"/><circle cx="1175.7" cy="1398.2" r="3.3"/><circle cx="1185.5" cy="1399.0" r="3.3"/><circle cx="1209.1" cy="1350.8" r="3.3"/><circle cx="1215.1" cy="1383.4" r="3.3"/><circle cx="1215.1" cy="1408.9" r="3.3"/><circle cx="1215.1" cy="1417.6" r="3.3"/><circle cx="1223.9" cy="1372.7" r="3.3"/><circle cx="1228.0" cy="1413.8" r="3.3"/><circle cx="1232.9" cy="1416.0" r="3.3"/><circle cx="1237.0" cy="1417.1" r="3.3"/><circle cx="1242.3" cy="1387.0" r="3.3"/><circle cx="1242.3" cy="1423.2" r="3.3"/><circle cx="1251.7" cy="1420.9" r="3.3"/><circle cx="1262.8" cy="1397.9" r="3.3"/><circle cx="1268.1" cy="1422.1" r="3.3"/><circle cx="1272.7" cy="1429.8" r="3.3"/><circle cx="1279.0" cy="1434.4" r="3.3"/><circle cx="1279.0" cy="1443.9" r="3.3"/><circle cx="1282.9" cy="1438.5" r="3.3"/><circle cx="1290.5" cy="1426.2" r="3.3"/><circle cx="1290.5" cy="1432.8" r="3.3"/><circle cx="1306.6" cy="1441.3" r="3.3"/><circle cx="1306.6" cy="1444.3" r="3.3"/><circle cx="1311.5" cy="1399.5" r="3.3"/><circle cx="1316.4" cy="1440.6" r="3.3"/><circle cx="1319.7" cy="1442.3" r="3.3"/><circle cx="1324.7" cy="1400.7" r="3.3"/><circle cx="1324.7" cy="1429.5" r="3.3"/><circle cx="1342.8" cy="1431.4" r="3.3"/><circle cx="1344.1" cy="1441.0" r="3.3"/><circle cx="1344.1" cy="1443.4" r="3.3"/><circle cx="1346.9" cy="1447.9" r="3.3"/><circle cx="1351.3" cy="1434.4" r="3.3"/><circle cx="1354.6" cy="1434.7" r="3.3"/><circle cx="1367.4" cy="1431.1" r="3.3"/><circle cx="1370.2" cy="1435.7" r="3.3"/><circle cx="1383.9" cy="1428.6" r="3.3"/><circle cx="1386.8" cy="1437.7" r="3.3"/><circle cx="1388.8" cy="1419.3" r="3.3"/><circle cx="1394.2" cy="1416.6" r="3.3"/><circle cx="1419.2" cy="1407.8" r="3.3"/><circle cx="1450.0" cy="1415.0" r="3.3"/><circle cx="1450.0" cy="1429.8" r="3.3"/><circle cx="1457.9" cy="1432.4" r="3.3"/><circle cx="1476.8" cy="1434.7" r="3.3"/><circle cx="1476.8" cy="1438.0" r="3.3"/><circle cx="1487.5" cy="1435.2" r="3.3"/><circle cx="1487.5" cy="1443.9" r="3.3"/><circle cx="1491.1" cy="1447.9" r="3.3"/><circle cx="1506.4" cy="1434.4" r="3.3"/><circle cx="1511.0" cy="1444.6" r="3.3"/><circle cx="1515.1" cy="1438.5" r="3.3"/><circle cx="1521.2" cy="1442.9" r="3.3"/><circle cx="1533.2" cy="1425.3" r="3.3"/><circle cx="1541.8" cy="1444.3" r="3.3"/><circle cx="1546.4" cy="1429.5" r="3.3"/><circle cx="1546.4" cy="1447.6" r="3.3"/><circle cx="1557.9" cy="1443.9" r="3.3"/><circle cx="1565.1" cy="1406.1" r="3.3"/><circle cx="1565.1" cy="1425.3" r="3.3"/><circle cx="1581.2" cy="1426.2" r="3.3"/><circle cx="1579.0" cy="1424.2" r="3.3"/><circle cx="1582.8" cy="1430.8" r="3.3"/><circle cx="1586.8" cy="1443.9" r="3.3"/><circle cx="1586.8" cy="1429.5" r="3.3"/><circle cx="1593.8" cy="1389.7" r="3.3"/><circle cx="1596.3" cy="1392.5" r="3.3"/><circle cx="1605.9" cy="1422.6" r="3.3"/><circle cx="1621.5" cy="1408.1" r="3.3"/><circle cx="1622.6" cy="1423.7" r="3.3"/><circle cx="1625.1" cy="1414.3" r="3.3"/><circle cx="1631.7" cy="1384.2" r="3.3"/><circle cx="1650.6" cy="1354.1" r="3.3"/><circle cx="1658.0" cy="1339.3" r="3.3"/><circle cx="1661.0" cy="1390.0" r="3.3"/><circle cx="1667.0" cy="1332.8" r="3.3"/><circle cx="1667.0" cy="1385.9" r="3.3"/><circle cx="1670.3" cy="1392.0" r="3.3"/><circle cx="1686.8" cy="1354.1" r="3.3"/><circle cx="1686.8" cy="1384.2" r="3.3"/><circle cx="1694.2" cy="1354.1" r="3.3"/><circle cx="1701.6" cy="1368.6" r="3.3"/><circle cx="1710.6" cy="1372.2" r="3.3"/><circle cx="1728.2" cy="1353.8" r="3.3"/><circle cx="1728.2" cy="1364.5" r="3.3"/><circle cx="1734.5" cy="1353.5" r="3.3"/><circle cx="1742.7" cy="1354.1" r="3.3"/><circle cx="1742.7" cy="1365.0" r="3.3"/><circle cx="1782.2" cy="1401.2" r="3.3"/><circle cx="1798.3" cy="1399.0" r="3.3"/></g>
<polyline points="1059.7,1399.0 1105.8,1356.8 1153.5,1362.8 1174.0,1380.1 1220.9,1399.0 1260.4,1417.9 1300.0,1429.8 1305.9,1431.9 1339.5,1436.0 1382.2,1427.5 1419.2,1407.8 1465.3,1432.8 1502.3,1441.8 1538.5,1438.5 1570.0,1424.5 1579.9,1417.9 1583.2,1417.9 1620.2,1412.2 1659.6,1374.4 1736.9,1360.4 1791.2,1400.7" fill="none" stroke="#ff0000" stroke-width="2.00" stroke-linejoin="round"/>
<g fill="#000000"><circle cx="1039.7" cy="1413.8" r="3.3"/><circle cx="1067.1" cy="1390.8" r="3.3"/><circle cx="1075.0" cy="1392.9" r="3.3"/><circle cx="1089.7" cy="1385.9" r="3.3"/><circle cx="1099.7" cy="1385.1" r="3.3"/><circle cx="1103.6" cy="1377.7" r="3.3"/><circle cx="1108.2" cy="1388.7" r="3.3"/><circle cx="1114.8" cy="1372.2" r="3.3"/><circle cx="1118.9" cy="1371.9" r="3.3"/><circle cx="1143.1" cy="1380.9" r="3.3"/><circle cx="1154.6" cy="1378.5" r="3.3"/><circle cx="1156.9" cy="1345.9" r="3.3"/><circle cx="1156.9" cy="1390.0" r="3.3"/><circle cx="1158.9" cy="1385.4" r="3.3"/><circle cx="1168.3" cy="1341.5" r="3.3"/><circle cx="1165.8" cy="1397.4" r="3.3"/><circle cx="1169.4" cy="1390.8" r="3.3"/><circle cx="1175.7" cy="1390.0" r="3.3"/><circle cx="1176.5" cy="1403.1" r="3.3"/><circle cx="1185.5" cy="1404.8" r="3.3"/><circle cx="1197.9" cy="1402.8" r="3.3"/><circle cx="1209.1" cy="1362.8" r="3.3"/><circle cx="1215.1" cy="1391.3" r="3.3"/><circle cx="1215.1" cy="1401.5" r="3.3"/><circle cx="1215.1" cy="1420.4" r="3.3"/><circle cx="1223.9" cy="1374.4" r="3.3"/><circle cx="1228.0" cy="1406.1" r="3.3"/><circle cx="1232.9" cy="1417.9" r="3.3"/><circle cx="1232.9" cy="1421.2" r="3.3"/><circle cx="1239.5" cy="1412.7" r="3.3"/><circle cx="1245.6" cy="1395.7" r="3.3"/><circle cx="1251.7" cy="1408.9" r="3.3"/><circle cx="1262.8" cy="1399.0" r="3.3"/><circle cx="1268.1" cy="1412.2" r="3.3"/><circle cx="1270.2" cy="1414.3" r="3.3"/><circle cx="1272.7" cy="1413.8" r="3.3"/><circle cx="1279.0" cy="1426.2" r="3.3"/><circle cx="1282.9" cy="1404.5" r="3.3"/><circle cx="1290.5" cy="1402.8" r="3.3"/><circle cx="1290.5" cy="1409.4" r="3.3"/><circle cx="1290.5" cy="1418.8" r="3.3"/><circle cx="1306.6" cy="1425.8" r="3.3"/><circle cx="1311.5" cy="1383.4" r="3.3"/><circle cx="1316.4" cy="1422.1" r="3.3"/><circle cx="1319.7" cy="1417.1" r="3.3"/><circle cx="1324.7" cy="1405.6" r="3.3"/><circle cx="1326.3" cy="1383.7" r="3.3"/><circle cx="1342.8" cy="1421.6" r="3.3"/><circle cx="1346.9" cy="1424.2" r="3.3"/><circle cx="1351.3" cy="1428.1" r="3.3"/><circle cx="1354.6" cy="1416.6" r="3.3"/><circle cx="1367.4" cy="1424.5" r="3.3"/><circle cx="1370.2" cy="1423.7" r="3.3"/><circle cx="1383.9" cy="1418.8" r="3.3"/><circle cx="1386.8" cy="1427.5" r="3.3"/><circle cx="1388.8" cy="1413.8" r="3.3"/><circle cx="1394.2" cy="1406.8" r="3.3"/><circle cx="1419.2" cy="1397.9" r="3.3"/><circle cx="1450.0" cy="1408.9" r="3.3"/><circle cx="1450.0" cy="1419.6" r="3.3"/><circle cx="1457.9" cy="1422.1" r="3.3"/><circle cx="1476.8" cy="1420.4" r="3.3"/><circle cx="1476.8" cy="1426.2" r="3.3"/><circle cx="1487.5" cy="1422.6" r="3.3"/><circle cx="1506.4" cy="1422.9" r="3.3"/><circle cx="1511.0" cy="1415.5" r="3.3"/><circle cx="1511.0" cy="1421.2" r="3.3"/><circle cx="1515.1" cy="1416.6" r="3.3"/><circle cx="1521.2" cy="1424.9" r="3.3"/><circle cx="1533.2" cy="1401.2" r="3.3"/><circle cx="1533.2" cy="1420.4" r="3.3"/><circle cx="1541.8" cy="1423.7" r="3.3"/><circle cx="1546.4" cy="1405.6" r="3.3"/><circle cx="1546.4" cy="1426.2" r="3.3"/><circle cx="1557.9" cy="1424.2" r="3.3"/><circle cx="1565.1" cy="1401.5" r="3.3"/><circle cx="1581.2" cy="1399.5" r="3.3"/><circle cx="1581.2" cy="1416.6" r="3.3"/><circle cx="1582.8" cy="1419.6" r="3.3"/><circle cx="1586.8" cy="1425.3" r="3.3"/><circle cx="1593.8" cy="1396.9" r="3.3"/><circle cx="1596.3" cy="1399.0" r="3.3"/><circle cx="1616.9" cy="1417.9" r="3.3"/><circle cx="1621.5" cy="1400.7" r="3.3"/><circle cx="1621.5" cy="1419.9" r="3.3"/><circle cx="1622.6" cy="1421.6" r="3.3"/><circle cx="1631.7" cy="1391.3" r="3.3"/><circle cx="1643.2" cy="1402.3" r="3.3"/><circle cx="1650.6" cy="1364.5" r="3.3"/><circle cx="1658.0" cy="1350.2" r="3.3"/><circle cx="1658.0" cy="1385.9" r="3.3"/><circle cx="1661.0" cy="1398.5" r="3.3"/><circle cx="1667.0" cy="1345.9" r="3.3"/><circle cx="1667.0" cy="1396.6" r="3.3"/><circle cx="1670.3" cy="1401.5" r="3.3"/><circle cx="1686.8" cy="1365.6" r="3.3"/><circle cx="1686.8" cy="1396.2" r="3.3"/><circle cx="1694.2" cy="1376.5" r="3.3"/><circle cx="1701.6" cy="1384.2" r="3.3"/><circle cx="1710.6" cy="1386.7" r="3.3"/><circle cx="1728.2" cy="1389.2" r="3.3"/><circle cx="1731.2" cy="1385.9" r="3.3"/><circle cx="1734.5" cy="1374.4" r="3.3"/><circle cx="1742.7" cy="1371.6" r="3.3"/><circle cx="1742.7" cy="1378.8" r="3.3"/><circle cx="1742.7" cy="1382.6" r="3.3"/><circle cx="1782.2" cy="1404.8" r="3.3"/><circle cx="1798.3" cy="1396.2" r="3.3"/></g>
<polyline points="1059.7,1399.5 1105.8,1380.1 1153.5,1376.0 1175.7,1390.8 1220.9,1399.9 1260.4,1411.4 1300.0,1413.3 1305.9,1413.8 1339.5,1417.1 1382.2,1418.8 1419.2,1398.2 1465.3,1419.6 1502.3,1420.4 1538.5,1419.3 1570.0,1414.3 1579.9,1411.0 1583.2,1411.0 1620.2,1410.1 1659.6,1382.1 1736.9,1380.9 1791.2,1400.7" fill="none" stroke="#000000" stroke-width="2.00" stroke-linejoin="round"/>
</g>
<rect x="1024.50" y="1212.10" width="809.00" height="353.10" fill="none" stroke="#000" stroke-width="3.50"/>
<path d="M1052.80 1212.10V1227.90M1052.80 1565.20V1549.40M1240.90 1212.10V1227.90M1240.90 1565.20V1549.40M1429.00 1212.10V1227.90M1429.00 1565.20V1549.40M1617.10 1212.10V1227.90M1617.10 1565.20V1549.40M1805.20 1212.10V1227.90M1805.20 1565.20V1549.40" stroke="#000" stroke-width="3.50" fill="none"/>
<path d="M1024.50 1247.15H1040.30M1833.50 1247.15H1817.70M1024.50 1317.90H1040.30M1833.50 1317.90H1817.70M1024.50 1388.65H1040.30M1833.50 1388.65H1817.70M1024.50 1459.40H1040.30M1833.50 1459.40H1817.70M1024.50 1530.15H1040.30M1833.50 1530.15H1817.70" stroke="#000" stroke-width="3.50" fill="none"/>
<text transform="translate(1849.27 1259.23) scale(1.0482 1)" font-size="35.60" fill="#000">0.04</text>
<text transform="translate(1849.23 1329.98) scale(1.0732 1)" font-size="35.60" fill="#000">0.02</text>
<text transform="translate(1849.31 1400.73) scale(1.0190 1)" font-size="35.60" fill="#000">0</text>
<text transform="translate(1849.66 1474.03) scale(1.3831 1)" font-size="35.60" fill="#000">−</text>
<text transform="translate(1878.41 1471.48) scale(1.0732 1)" font-size="35.60" fill="#000">0.02</text>
<text transform="translate(1849.66 1544.78) scale(1.3831 1)" font-size="35.60" fill="#000">−</text>
<text transform="translate(1878.44 1542.23) scale(1.0482 1)" font-size="35.60" fill="#000">0.04</text>
<clipPath id="cL4"><rect x="174.80" y="1600.70" width="809.10" height="353.10"/></clipPath>
<g clip-path="url(#cL4)">
<g fill="#008000"><circle cx="190.0" cy="1691.6" r="3.3"/><circle cx="217.6" cy="1675.2" r="3.3"/><circle cx="225.0" cy="1715.8" r="3.3"/><circle cx="239.8" cy="1672.4" r="3.3"/><circle cx="250.0" cy="1714.7" r="3.3"/><circle cx="253.3" cy="1702.0" r="3.3"/><circle cx="259.1" cy="1739.8" r="3.3"/><circle cx="264.8" cy="1696.6" r="3.3"/><circle cx="269.3" cy="1692.8" r="3.3"/><circle cx="293.1" cy="1784.2" r="3.3"/><circle cx="305.1" cy="1810.6" r="3.3"/><circle cx="307.1" cy="1692.8" r="3.3"/><circle cx="308.9" cy="1744.8" r="3.3"/><circle cx="316.1" cy="1886.5" r="3.3"/><circle cx="316.1" cy="1889.8" r="3.3"/><circle cx="318.8" cy="1705.9" r="3.3"/><circle cx="318.8" cy="1731.9" r="3.3"/><circle cx="327.0" cy="1766.1" r="3.3"/><circle cx="335.9" cy="1824.9" r="3.3"/><circle cx="348.4" cy="1888.5" r="3.3"/><circle cx="352.0" cy="1905.9" r="3.3"/><circle cx="359.7" cy="1779.6" r="3.3"/><circle cx="365.1" cy="1824.0" r="3.3"/><circle cx="365.1" cy="1927.3" r="3.3"/><circle cx="374.2" cy="1737.2" r="3.3"/><circle cx="378.6" cy="1843.0" r="3.3"/><circle cx="382.9" cy="1835.2" r="3.3"/><circle cx="382.9" cy="1860.6" r="3.3"/><circle cx="387.0" cy="1754.6" r="3.3"/><circle cx="389.5" cy="1869.3" r="3.3"/><circle cx="392.8" cy="1766.8" r="3.3"/><circle cx="395.6" cy="1892.3" r="3.3"/><circle cx="401.7" cy="1818.3" r="3.3"/><circle cx="403.3" cy="1844.1" r="3.3"/><circle cx="413.3" cy="1890.2" r="3.3"/><circle cx="418.1" cy="1880.8" r="3.3"/><circle cx="420.2" cy="1886.5" r="3.3"/><circle cx="423.5" cy="1870.4" r="3.3"/><circle cx="429.0" cy="1716.3" r="3.3"/><circle cx="429.0" cy="1796.9" r="3.3"/><circle cx="434.2" cy="1794.8" r="3.3"/><circle cx="434.2" cy="1812.2" r="3.3"/><circle cx="440.0" cy="1704.8" r="3.3"/><circle cx="440.0" cy="1875.4" r="3.3"/><circle cx="440.0" cy="1898.9" r="3.3"/><circle cx="456.9" cy="1785.4" r="3.3"/><circle cx="456.9" cy="1892.8" r="3.3"/><circle cx="456.9" cy="1902.2" r="3.3"/><circle cx="466.8" cy="1904.3" r="3.3"/><circle cx="470.1" cy="1794.1" r="3.3"/><circle cx="470.1" cy="1825.4" r="3.3"/><circle cx="475.0" cy="1713.0" r="3.3"/><circle cx="475.0" cy="1762.9" r="3.3"/><circle cx="494.1" cy="1845.1" r="3.3"/><circle cx="494.1" cy="1858.2" r="3.3"/><circle cx="497.4" cy="1873.4" r="3.3"/><circle cx="501.8" cy="1784.9" r="3.3"/><circle cx="520.2" cy="1796.9" r="3.3"/><circle cx="534.2" cy="1801.8" r="3.3"/><circle cx="539.6" cy="1788.2" r="3.3"/><circle cx="608.2" cy="1750.8" r="3.3"/><circle cx="627.3" cy="1739.3" r="3.3"/><circle cx="638.3" cy="1695.8" r="3.3"/><circle cx="638.3" cy="1791.1" r="3.3"/><circle cx="641.6" cy="1685.6" r="3.3"/><circle cx="641.6" cy="1701.5" r="3.3"/><circle cx="656.9" cy="1787.5" r="3.3"/><circle cx="661.3" cy="1692.1" r="3.3"/><circle cx="665.1" cy="1743.8" r="3.3"/><circle cx="671.2" cy="1651.0" r="3.3"/><circle cx="671.2" cy="1663.7" r="3.3"/><circle cx="684.9" cy="1650.5" r="3.3"/><circle cx="684.9" cy="1851.2" r="3.3"/><circle cx="692.1" cy="1674.0" r="3.3"/><circle cx="692.1" cy="1693.3" r="3.3"/><circle cx="696.7" cy="1657.1" r="3.3"/><circle cx="696.7" cy="1787.5" r="3.3"/><circle cx="696.7" cy="1841.8" r="3.3"/><circle cx="708.6" cy="1752.0" r="3.3"/><circle cx="716.1" cy="1662.0" r="3.3"/><circle cx="716.1" cy="1665.3" r="3.3"/><circle cx="720.0" cy="1665.8" r="3.3"/><circle cx="729.0" cy="1690.0" r="3.3"/><circle cx="729.0" cy="1704.8" r="3.3"/><circle cx="729.0" cy="1823.7" r="3.3"/><circle cx="732.8" cy="1691.6" r="3.3"/><circle cx="732.8" cy="1731.9" r="3.3"/><circle cx="737.3" cy="1822.1" r="3.3"/><circle cx="738.4" cy="1812.2" r="3.3"/><circle cx="743.8" cy="1664.2" r="3.3"/><circle cx="747.1" cy="1662.0" r="3.3"/><circle cx="756.2" cy="1719.6" r="3.3"/><circle cx="766.5" cy="1702.3" r="3.3"/><circle cx="771.3" cy="1723.4" r="3.3"/><circle cx="771.3" cy="1811.2" r="3.3"/><circle cx="772.6" cy="1727.8" r="3.3"/><circle cx="782.2" cy="1627.0" r="3.3"/><circle cx="793.5" cy="1672.4" r="3.3"/><circle cx="801.1" cy="1787.9" r="3.3"/><circle cx="808.8" cy="1741.8" r="3.3"/><circle cx="808.8" cy="1795.8" r="3.3"/><circle cx="812.9" cy="1702.7" r="3.3"/><circle cx="817.0" cy="1654.3" r="3.3"/><circle cx="817.0" cy="1816.6" r="3.3"/><circle cx="820.8" cy="1787.9" r="3.3"/><circle cx="836.8" cy="1708.9" r="3.3"/><circle cx="836.8" cy="1808.9" r="3.3"/><circle cx="844.7" cy="1792.8" r="3.3"/><circle cx="851.9" cy="1828.2" r="3.3"/><circle cx="860.6" cy="1826.0" r="3.3"/><circle cx="878.2" cy="1798.1" r="3.3"/><circle cx="881.2" cy="1824.9" r="3.3"/><circle cx="884.5" cy="1841.3" r="3.3"/><circle cx="892.4" cy="1851.2" r="3.3"/><circle cx="892.4" cy="1879.1" r="3.3"/><circle cx="932.5" cy="1872.6" r="3.3"/><circle cx="948.6" cy="1846.2" r="3.3"/></g>
<polyline points="209.7,1694.1 253.3,1702.0 303.5,1755.8 325.7,1810.9 370.9,1827.0 410.4,1838.8 448.7,1840.7 455.9,1832.3 488.7,1806.8 532.2,1787.9 569.2,1776.7 615.3,1757.9 651.5,1734.4 690.1,1722.4 720.0,1721.2 729.9,1720.8 771.0,1720.1 809.6,1755.0 846.6,1794.1 886.9,1846.7 941.2,1859.9" fill="none" stroke="#008000" stroke-width="2.00" stroke-linejoin="round"/>
<g fill="#0000ff"><circle cx="190.0" cy="1782.6" r="3.3"/><circle cx="217.6" cy="1731.9" r="3.3"/><circle cx="225.0" cy="1789.2" r="3.3"/><circle cx="239.8" cy="1738.5" r="3.3"/><circle cx="250.0" cy="1696.1" r="3.3"/><circle cx="253.3" cy="1695.4" r="3.3"/><circle cx="253.3" cy="1746.7" r="3.3"/><circle cx="259.1" cy="1708.6" r="3.3"/><circle cx="264.8" cy="1709.7" r="3.3"/><circle cx="269.3" cy="1704.0" r="3.3"/><circle cx="293.1" cy="1723.7" r="3.3"/><circle cx="305.1" cy="1662.9" r="3.3"/><circle cx="305.1" cy="1736.5" r="3.3"/><circle cx="307.1" cy="1655.9" r="3.3"/><circle cx="308.9" cy="1683.4" r="3.3"/><circle cx="316.1" cy="1801.8" r="3.3"/><circle cx="316.1" cy="1805.6" r="3.3"/><circle cx="318.8" cy="1682.3" r="3.3"/><circle cx="319.9" cy="1690.5" r="3.3"/><circle cx="327.0" cy="1692.1" r="3.3"/><circle cx="327.0" cy="1725.7" r="3.3"/><circle cx="335.9" cy="1739.3" r="3.3"/><circle cx="348.4" cy="1778.0" r="3.3"/><circle cx="352.0" cy="1792.5" r="3.3"/><circle cx="359.7" cy="1666.1" r="3.3"/><circle cx="365.1" cy="1714.7" r="3.3"/><circle cx="365.1" cy="1812.2" r="3.3"/><circle cx="366.3" cy="1678.5" r="3.3"/><circle cx="374.2" cy="1749.7" r="3.3"/><circle cx="378.6" cy="1689.5" r="3.3"/><circle cx="382.9" cy="1701.5" r="3.3"/><circle cx="382.9" cy="1746.4" r="3.3"/><circle cx="387.0" cy="1724.5" r="3.3"/><circle cx="389.5" cy="1753.6" r="3.3"/><circle cx="392.8" cy="1775.5" r="3.3"/><circle cx="401.7" cy="1699.0" r="3.3"/><circle cx="403.3" cy="1706.4" r="3.3"/><circle cx="413.3" cy="1782.6" r="3.3"/><circle cx="420.2" cy="1788.7" r="3.3"/><circle cx="423.5" cy="1761.5" r="3.3"/><circle cx="429.0" cy="1738.2" r="3.3"/><circle cx="429.0" cy="1741.8" r="3.3"/><circle cx="434.2" cy="1725.7" r="3.3"/><circle cx="440.0" cy="1744.8" r="3.3"/><circle cx="440.0" cy="1780.0" r="3.3"/><circle cx="440.0" cy="1827.3" r="3.3"/><circle cx="456.9" cy="1855.6" r="3.3"/><circle cx="466.8" cy="1773.1" r="3.3"/><circle cx="470.1" cy="1801.8" r="3.3"/><circle cx="475.0" cy="1752.0" r="3.3"/><circle cx="494.1" cy="1780.9" r="3.3"/><circle cx="494.1" cy="1835.6" r="3.3"/><circle cx="494.1" cy="1849.0" r="3.3"/><circle cx="497.4" cy="1860.6" r="3.3"/><circle cx="497.4" cy="1867.1" r="3.3"/><circle cx="501.8" cy="1774.4" r="3.3"/><circle cx="505.1" cy="1795.8" r="3.3"/><circle cx="517.8" cy="1779.6" r="3.3"/><circle cx="534.2" cy="1789.2" r="3.3"/><circle cx="539.6" cy="1771.1" r="3.3"/><circle cx="544.6" cy="1775.5" r="3.3"/><circle cx="601.0" cy="1774.7" r="3.3"/><circle cx="601.0" cy="1787.0" r="3.3"/><circle cx="608.2" cy="1767.8" r="3.3"/><circle cx="627.3" cy="1742.6" r="3.3"/><circle cx="627.3" cy="1754.6" r="3.3"/><circle cx="627.3" cy="1770.1" r="3.3"/><circle cx="638.3" cy="1705.3" r="3.3"/><circle cx="638.3" cy="1771.1" r="3.3"/><circle cx="641.6" cy="1689.2" r="3.3"/><circle cx="641.6" cy="1711.9" r="3.3"/><circle cx="656.9" cy="1767.8" r="3.3"/><circle cx="661.3" cy="1706.9" r="3.3"/><circle cx="661.3" cy="1761.5" r="3.3"/><circle cx="665.1" cy="1739.3" r="3.3"/><circle cx="671.2" cy="1669.1" r="3.3"/><circle cx="671.2" cy="1677.3" r="3.3"/><circle cx="684.9" cy="1683.9" r="3.3"/><circle cx="684.9" cy="1809.6" r="3.3"/><circle cx="692.1" cy="1721.2" r="3.3"/><circle cx="692.1" cy="1764.0" r="3.3"/><circle cx="696.7" cy="1727.8" r="3.3"/><circle cx="696.7" cy="1803.5" r="3.3"/><circle cx="708.6" cy="1791.5" r="3.3"/><circle cx="716.1" cy="1757.4" r="3.3"/><circle cx="716.1" cy="1760.7" r="3.3"/><circle cx="720.0" cy="1757.9" r="3.3"/><circle cx="729.0" cy="1809.6" r="3.3"/><circle cx="729.0" cy="1843.4" r="3.3"/><circle cx="732.8" cy="1805.1" r="3.3"/><circle cx="732.8" cy="1851.7" r="3.3"/><circle cx="737.3" cy="1819.9" r="3.3"/><circle cx="737.3" cy="1830.3" r="3.3"/><circle cx="743.8" cy="1779.3" r="3.3"/><circle cx="747.1" cy="1778.3" r="3.3"/><circle cx="756.2" cy="1856.9" r="3.3"/><circle cx="771.3" cy="1812.9" r="3.3"/><circle cx="771.3" cy="1818.8" r="3.3"/><circle cx="771.3" cy="1860.6" r="3.3"/><circle cx="772.6" cy="1828.6" r="3.3"/><circle cx="775.6" cy="1872.6" r="3.3"/><circle cx="782.2" cy="1739.3" r="3.3"/><circle cx="801.1" cy="1895.6" r="3.3"/><circle cx="808.8" cy="1834.2" r="3.3"/><circle cx="808.8" cy="1884.9" r="3.3"/><circle cx="811.3" cy="1797.4" r="3.3"/><circle cx="811.3" cy="1854.5" r="3.3"/><circle cx="817.0" cy="1745.1" r="3.3"/><circle cx="817.0" cy="1890.2" r="3.3"/><circle cx="820.8" cy="1851.7" r="3.3"/><circle cx="836.8" cy="1788.7" r="3.3"/><circle cx="836.8" cy="1803.5" r="3.3"/><circle cx="844.7" cy="1837.2" r="3.3"/><circle cx="851.9" cy="1844.1" r="3.3"/><circle cx="860.6" cy="1852.3" r="3.3"/><circle cx="878.2" cy="1835.2" r="3.3"/><circle cx="878.2" cy="1849.5" r="3.3"/><circle cx="881.2" cy="1850.0" r="3.3"/><circle cx="884.5" cy="1852.3" r="3.3"/><circle cx="892.4" cy="1825.4" r="3.3"/><circle cx="892.4" cy="1840.5" r="3.3"/><circle cx="892.4" cy="1871.7" r="3.3"/><circle cx="932.5" cy="1795.8" r="3.3"/><circle cx="948.6" cy="1761.2" r="3.3"/></g>
<polyline points="209.7,1768.4 255.8,1713.8 303.5,1692.1 325.7,1739.3 370.9,1727.8 410.4,1754.1 448.7,1804.7 455.9,1805.1 488.7,1808.4 532.2,1782.1 569.2,1776.7 615.3,1766.1 651.5,1731.6 690.1,1746.4 720.0,1786.5 729.9,1801.0 733.2,1804.6 771.0,1828.2 809.6,1836.9 846.6,1825.4 886.9,1845.4 941.2,1778.3" fill="none" stroke="#0000ff" stroke-width="2.00" stroke-linejoin="round"/>
<g fill="#ff0000"><circle cx="190.0" cy="1736.0" r="3.3"/><circle cx="217.6" cy="1768.4" r="3.3"/><circle cx="225.0" cy="1739.3" r="3.3"/><circle cx="239.8" cy="1773.9" r="3.3"/><circle cx="250.0" cy="1783.2" r="3.3"/><circle cx="253.3" cy="1780.5" r="3.3"/><circle cx="259.1" cy="1792.5" r="3.3"/><circle cx="264.8" cy="1799.7" r="3.3"/><circle cx="269.3" cy="1815.5" r="3.3"/><circle cx="293.1" cy="1790.8" r="3.3"/><circle cx="305.1" cy="1787.0" r="3.3"/><circle cx="307.1" cy="1755.8" r="3.3"/><circle cx="308.9" cy="1794.8" r="3.3"/><circle cx="316.1" cy="1810.6" r="3.3"/><circle cx="316.1" cy="1817.5" r="3.3"/><circle cx="319.9" cy="1826.5" r="3.3"/><circle cx="327.0" cy="1810.6" r="3.3"/><circle cx="327.0" cy="1818.8" r="3.3"/><circle cx="335.9" cy="1802.3" r="3.3"/><circle cx="348.4" cy="1780.9" r="3.3"/><circle cx="348.4" cy="1787.9" r="3.3"/><circle cx="352.0" cy="1788.2" r="3.3"/><circle cx="359.7" cy="1792.5" r="3.3"/><circle cx="365.1" cy="1804.0" r="3.3"/><circle cx="365.1" cy="1807.9" r="3.3"/><circle cx="378.6" cy="1768.1" r="3.3"/><circle cx="382.9" cy="1778.8" r="3.3"/><circle cx="387.0" cy="1768.9" r="3.3"/><circle cx="392.8" cy="1776.3" r="3.3"/><circle cx="401.7" cy="1764.8" r="3.3"/><circle cx="401.7" cy="1775.0" r="3.3"/><circle cx="413.3" cy="1766.8" r="3.3"/><circle cx="418.1" cy="1757.9" r="3.3"/><circle cx="420.2" cy="1761.2" r="3.3"/><circle cx="423.5" cy="1764.8" r="3.3"/><circle cx="429.0" cy="1746.7" r="3.3"/><circle cx="429.0" cy="1749.2" r="3.3"/><circle cx="434.2" cy="1754.6" r="3.3"/><circle cx="434.2" cy="1783.2" r="3.3"/><circle cx="440.0" cy="1729.5" r="3.3"/><circle cx="440.0" cy="1755.8" r="3.3"/><circle cx="440.0" cy="1764.0" r="3.3"/><circle cx="456.9" cy="1764.8" r="3.3"/><circle cx="456.9" cy="1768.1" r="3.3"/><circle cx="461.8" cy="1784.2" r="3.3"/><circle cx="466.8" cy="1770.1" r="3.3"/><circle cx="470.1" cy="1750.4" r="3.3"/><circle cx="470.1" cy="1757.9" r="3.3"/><circle cx="475.0" cy="1725.0" r="3.3"/><circle cx="475.0" cy="1768.4" r="3.3"/><circle cx="494.1" cy="1757.9" r="3.3"/><circle cx="494.1" cy="1763.5" r="3.3"/><circle cx="497.4" cy="1756.9" r="3.3"/><circle cx="497.4" cy="1760.2" r="3.3"/><circle cx="501.8" cy="1784.2" r="3.3"/><circle cx="505.1" cy="1750.4" r="3.3"/><circle cx="520.2" cy="1757.4" r="3.3"/><circle cx="534.2" cy="1745.9" r="3.3"/><circle cx="539.6" cy="1738.5" r="3.3"/><circle cx="539.6" cy="1766.8" r="3.3"/><circle cx="544.6" cy="1767.3" r="3.3"/><circle cx="601.0" cy="1790.3" r="3.3"/><circle cx="601.0" cy="1806.3" r="3.3"/><circle cx="608.2" cy="1816.6" r="3.3"/><circle cx="627.3" cy="1796.1" r="3.3"/><circle cx="627.3" cy="1810.6" r="3.3"/><circle cx="638.3" cy="1797.4" r="3.3"/><circle cx="641.6" cy="1797.4" r="3.3"/><circle cx="641.6" cy="1802.3" r="3.3"/><circle cx="661.3" cy="1787.9" r="3.3"/><circle cx="661.3" cy="1808.9" r="3.3"/><circle cx="665.1" cy="1798.5" r="3.3"/><circle cx="671.2" cy="1784.2" r="3.3"/><circle cx="684.9" cy="1789.8" r="3.3"/><circle cx="684.9" cy="1830.3" r="3.3"/><circle cx="692.1" cy="1787.5" r="3.3"/><circle cx="692.1" cy="1789.2" r="3.3"/><circle cx="696.7" cy="1813.3" r="3.3"/><circle cx="696.7" cy="1830.3" r="3.3"/><circle cx="708.6" cy="1803.0" r="3.3"/><circle cx="716.1" cy="1799.0" r="3.3"/><circle cx="729.0" cy="1782.6" r="3.3"/><circle cx="729.0" cy="1789.5" r="3.3"/><circle cx="732.8" cy="1795.3" r="3.3"/><circle cx="732.8" cy="1799.4" r="3.3"/><circle cx="737.3" cy="1794.8" r="3.3"/><circle cx="738.4" cy="1812.9" r="3.3"/><circle cx="743.8" cy="1774.7" r="3.3"/><circle cx="756.2" cy="1792.8" r="3.3"/><circle cx="771.3" cy="1754.6" r="3.3"/><circle cx="771.3" cy="1777.2" r="3.3"/><circle cx="782.2" cy="1749.2" r="3.3"/><circle cx="793.5" cy="1771.7" r="3.3"/><circle cx="801.1" cy="1768.4" r="3.3"/><circle cx="808.8" cy="1767.3" r="3.3"/><circle cx="811.3" cy="1729.5" r="3.3"/><circle cx="811.3" cy="1766.5" r="3.3"/><circle cx="812.9" cy="1765.7" r="3.3"/><circle cx="817.0" cy="1743.8" r="3.3"/><circle cx="820.8" cy="1733.2" r="3.3"/><circle cx="836.8" cy="1758.6" r="3.3"/><circle cx="844.7" cy="1753.6" r="3.3"/><circle cx="851.9" cy="1761.5" r="3.3"/><circle cx="860.6" cy="1751.3" r="3.3"/><circle cx="878.2" cy="1755.3" r="3.3"/><circle cx="881.2" cy="1768.4" r="3.3"/><circle cx="884.5" cy="1761.5" r="3.3"/><circle cx="892.4" cy="1752.5" r="3.3"/><circle cx="892.4" cy="1808.9" r="3.3"/><circle cx="932.5" cy="1799.4" r="3.3"/><circle cx="948.6" cy="1816.1" r="3.3"/></g>
<polyline points="209.7,1747.6 253.3,1789.5 303.5,1782.9 325.7,1805.9 370.9,1784.6 410.4,1765.7 450.0,1764.0 455.9,1761.9 488.7,1757.4 532.2,1759.1 569.2,1775.5 615.3,1801.3 651.5,1798.5 690.1,1801.0 720.0,1794.4 729.9,1792.0 733.2,1791.5 771.0,1769.4 809.6,1757.4 846.6,1759.9 886.9,1768.9 941.2,1808.4" fill="none" stroke="#ff0000" stroke-width="2.00" stroke-linejoin="round"/>
<g fill="#000000"><circle cx="190.0" cy="1766.5" r="3.3"/><circle cx="217.6" cy="1776.0" r="3.3"/><circle cx="225.0" cy="1769.8" r="3.3"/><circle cx="239.8" cy="1777.7" r="3.3"/><circle cx="250.0" cy="1764.0" r="3.3"/><circle cx="253.3" cy="1774.4" r="3.3"/><circle cx="253.3" cy="1779.3" r="3.3"/><circle cx="259.1" cy="1768.1" r="3.3"/><circle cx="264.8" cy="1787.9" r="3.3"/><circle cx="269.3" cy="1792.5" r="3.3"/><circle cx="293.1" cy="1774.4" r="3.3"/><circle cx="305.1" cy="1764.8" r="3.3"/><circle cx="308.9" cy="1778.3" r="3.3"/><circle cx="316.1" cy="1777.2" r="3.3"/><circle cx="318.8" cy="1779.3" r="3.3"/><circle cx="319.9" cy="1791.1" r="3.3"/><circle cx="327.0" cy="1789.5" r="3.3"/><circle cx="327.0" cy="1793.6" r="3.3"/><circle cx="335.9" cy="1789.2" r="3.3"/><circle cx="348.4" cy="1773.1" r="3.3"/><circle cx="352.0" cy="1778.8" r="3.3"/><circle cx="359.7" cy="1784.9" r="3.3"/><circle cx="365.1" cy="1792.0" r="3.3"/><circle cx="365.1" cy="1797.4" r="3.3"/><circle cx="366.3" cy="1778.3" r="3.3"/><circle cx="374.2" cy="1787.0" r="3.3"/><circle cx="378.6" cy="1773.1" r="3.3"/><circle cx="382.9" cy="1784.9" r="3.3"/><circle cx="387.0" cy="1778.3" r="3.3"/><circle cx="389.5" cy="1784.2" r="3.3"/><circle cx="395.6" cy="1787.5" r="3.3"/><circle cx="401.7" cy="1771.4" r="3.3"/><circle cx="403.3" cy="1781.3" r="3.3"/><circle cx="413.3" cy="1780.5" r="3.3"/><circle cx="418.1" cy="1773.4" r="3.3"/><circle cx="420.2" cy="1774.7" r="3.3"/><circle cx="423.5" cy="1778.0" r="3.3"/><circle cx="429.0" cy="1767.8" r="3.3"/><circle cx="434.2" cy="1777.7" r="3.3"/><circle cx="440.0" cy="1757.9" r="3.3"/><circle cx="440.0" cy="1774.7" r="3.3"/><circle cx="456.9" cy="1780.0" r="3.3"/><circle cx="456.9" cy="1782.9" r="3.3"/><circle cx="461.8" cy="1780.5" r="3.3"/><circle cx="466.8" cy="1782.9" r="3.3"/><circle cx="470.1" cy="1777.7" r="3.3"/><circle cx="475.0" cy="1757.9" r="3.3"/><circle cx="475.0" cy="1773.1" r="3.3"/><circle cx="494.1" cy="1776.0" r="3.3"/><circle cx="494.1" cy="1783.7" r="3.3"/><circle cx="497.4" cy="1778.3" r="3.3"/><circle cx="501.8" cy="1778.3" r="3.3"/><circle cx="505.1" cy="1777.2" r="3.3"/><circle cx="517.8" cy="1778.3" r="3.3"/><circle cx="520.2" cy="1774.4" r="3.3"/><circle cx="534.2" cy="1764.8" r="3.3"/><circle cx="534.2" cy="1777.7" r="3.3"/><circle cx="539.6" cy="1755.3" r="3.3"/><circle cx="544.6" cy="1772.2" r="3.3"/><circle cx="569.2" cy="1775.5" r="3.3"/><circle cx="601.0" cy="1782.9" r="3.3"/><circle cx="601.0" cy="1795.3" r="3.3"/><circle cx="608.2" cy="1794.1" r="3.3"/><circle cx="627.3" cy="1773.1" r="3.3"/><circle cx="627.3" cy="1778.8" r="3.3"/><circle cx="627.3" cy="1787.0" r="3.3"/><circle cx="638.3" cy="1775.5" r="3.3"/><circle cx="641.6" cy="1778.3" r="3.3"/><circle cx="656.9" cy="1778.0" r="3.3"/><circle cx="661.3" cy="1769.8" r="3.3"/><circle cx="661.3" cy="1778.8" r="3.3"/><circle cx="665.1" cy="1773.1" r="3.3"/><circle cx="671.2" cy="1769.8" r="3.3"/><circle cx="684.9" cy="1774.4" r="3.3"/><circle cx="684.9" cy="1797.7" r="3.3"/><circle cx="692.1" cy="1771.4" r="3.3"/><circle cx="696.7" cy="1780.5" r="3.3"/><circle cx="696.7" cy="1783.2" r="3.3"/><circle cx="696.7" cy="1795.8" r="3.3"/><circle cx="708.6" cy="1775.5" r="3.3"/><circle cx="716.1" cy="1783.2" r="3.3"/><circle cx="720.0" cy="1782.9" r="3.3"/><circle cx="729.0" cy="1773.1" r="3.3"/><circle cx="729.0" cy="1787.0" r="3.3"/><circle cx="732.8" cy="1778.3" r="3.3"/><circle cx="732.8" cy="1782.9" r="3.3"/><circle cx="737.3" cy="1780.5" r="3.3"/><circle cx="738.4" cy="1788.7" r="3.3"/><circle cx="743.8" cy="1768.1" r="3.3"/><circle cx="747.1" cy="1768.1" r="3.3"/><circle cx="756.2" cy="1780.9" r="3.3"/><circle cx="766.5" cy="1767.8" r="3.3"/><circle cx="771.3" cy="1760.2" r="3.3"/><circle cx="775.6" cy="1775.5" r="3.3"/><circle cx="782.2" cy="1764.8" r="3.3"/><circle cx="793.5" cy="1780.5" r="3.3"/><circle cx="801.1" cy="1773.9" r="3.3"/><circle cx="808.8" cy="1771.4" r="3.3"/><circle cx="808.8" cy="1778.0" r="3.3"/><circle cx="811.3" cy="1759.1" r="3.3"/><circle cx="811.3" cy="1777.2" r="3.3"/><circle cx="812.9" cy="1778.0" r="3.3"/><circle cx="817.0" cy="1773.4" r="3.3"/><circle cx="817.0" cy="1769.4" r="3.3"/><circle cx="820.8" cy="1757.9" r="3.3"/><circle cx="836.8" cy="1776.3" r="3.3"/><circle cx="836.8" cy="1787.5" r="3.3"/><circle cx="844.7" cy="1771.1" r="3.3"/><circle cx="851.9" cy="1774.4" r="3.3"/><circle cx="860.6" cy="1773.1" r="3.3"/><circle cx="878.2" cy="1782.9" r="3.3"/><circle cx="881.2" cy="1789.2" r="3.3"/><circle cx="884.5" cy="1774.7" r="3.3"/><circle cx="892.4" cy="1767.8" r="3.3"/><circle cx="892.4" cy="1773.1" r="3.3"/><circle cx="892.4" cy="1791.1" r="3.3"/><circle cx="932.5" cy="1781.6" r="3.3"/><circle cx="948.6" cy="1781.6" r="3.3"/></g>
<polyline points="209.7,1770.6 250.0,1777.2 303.5,1771.7 325.7,1783.7 370.9,1783.2 410.4,1777.7 450.0,1777.2 455.9,1777.2 488.7,1777.2 532.2,1770.1 569.2,1776.0 615.3,1784.9 651.5,1775.5 690.1,1778.8 720.0,1778.8 729.9,1778.8 736.4,1777.7 771.0,1769.4 809.6,1771.1 846.6,1776.3 886.9,1780.0 941.2,1781.3" fill="none" stroke="#000000" stroke-width="2.00" stroke-linejoin="round"/>
</g>
<rect x="174.80" y="1600.70" width="809.10" height="353.10" fill="none" stroke="#000" stroke-width="3.50"/>
<path d="M203.01 1600.70V1616.50M203.01 1953.80V1938.00M391.23 1600.70V1616.50M391.23 1953.80V1938.00M579.45 1600.70V1616.50M579.45 1953.80V1938.00M767.67 1600.70V1616.50M767.67 1953.80V1938.00M955.89 1600.70V1616.50M955.89 1953.80V1938.00" stroke="#000" stroke-width="3.50" fill="none"/>
<path d="M174.80 1635.75H190.60M983.90 1635.75H968.10M174.80 1706.50H190.60M983.90 1706.50H968.10M174.80 1777.25H190.60M983.90 1777.25H968.10M174.80 1848.00H190.60M983.90 1848.00H968.10M174.80 1918.75H190.60M983.90 1918.75H968.10" stroke="#000" stroke-width="3.50" fill="none"/>
<text transform="translate(93.39 1647.83) scale(1.0482 1)" font-size="35.60" fill="#000">0.04</text>
<text transform="translate(93.36 1718.58) scale(1.0732 1)" font-size="35.60" fill="#000">0.02</text>
<text transform="translate(141.36 1789.33) scale(1.0190 1)" font-size="35.60" fill="#000">0</text>
<text transform="translate(64.61 1862.63) scale(1.3831 1)" font-size="35.60" fill="#000">−</text>
<text transform="translate(93.36 1860.08) scale(1.0732 1)" font-size="35.60" fill="#000">0.02</text>
<text transform="translate(64.61 1933.38) scale(1.3831 1)" font-size="35.60" fill="#000">−</text>
<text transform="translate(93.39 1930.83) scale(1.0482 1)" font-size="35.60" fill="#000">0.04</text>
<clipPath id="cR4"><rect x="1024.50" y="1600.70" width="809.00" height="353.10"/></clipPath>
<g clip-path="url(#cR4)">
<g fill="#008000"><circle cx="1039.7" cy="1780.9" r="3.3"/><circle cx="1067.1" cy="1720.8" r="3.3"/><circle cx="1075.0" cy="1727.3" r="3.3"/><circle cx="1089.7" cy="1762.4" r="3.3"/><circle cx="1099.7" cy="1691.6" r="3.3"/><circle cx="1103.3" cy="1701.0" r="3.3"/><circle cx="1103.3" cy="1729.5" r="3.3"/><circle cx="1108.2" cy="1690.5" r="3.3"/><circle cx="1114.8" cy="1736.0" r="3.3"/><circle cx="1118.9" cy="1739.8" r="3.3"/><circle cx="1143.1" cy="1713.5" r="3.3"/><circle cx="1154.3" cy="1718.0" r="3.3"/><circle cx="1157.1" cy="1798.1" r="3.3"/><circle cx="1158.9" cy="1765.2" r="3.3"/><circle cx="1165.8" cy="1747.6" r="3.3"/><circle cx="1168.3" cy="1785.9" r="3.3"/><circle cx="1169.9" cy="1728.3" r="3.3"/><circle cx="1176.0" cy="1725.7" r="3.3"/><circle cx="1176.0" cy="1737.7" r="3.3"/><circle cx="1185.5" cy="1742.1" r="3.3"/><circle cx="1197.9" cy="1759.6" r="3.3"/><circle cx="1201.7" cy="1771.4" r="3.3"/><circle cx="1209.1" cy="1768.1" r="3.3"/><circle cx="1214.3" cy="1788.7" r="3.3"/><circle cx="1216.0" cy="1763.5" r="3.3"/><circle cx="1223.9" cy="1791.1" r="3.3"/><circle cx="1232.9" cy="1787.0" r="3.3"/><circle cx="1232.9" cy="1803.0" r="3.3"/><circle cx="1236.5" cy="1745.1" r="3.3"/><circle cx="1239.5" cy="1806.3" r="3.3"/><circle cx="1239.5" cy="1808.4" r="3.3"/><circle cx="1245.6" cy="1819.4" r="3.3"/><circle cx="1253.0" cy="1746.7" r="3.3"/><circle cx="1262.8" cy="1830.6" r="3.3"/><circle cx="1268.1" cy="1826.0" r="3.3"/><circle cx="1270.2" cy="1796.9" r="3.3"/><circle cx="1270.2" cy="1825.7" r="3.3"/><circle cx="1279.0" cy="1773.1" r="3.3"/><circle cx="1279.0" cy="1774.7" r="3.3"/><circle cx="1282.9" cy="1766.8" r="3.3"/><circle cx="1282.9" cy="1822.1" r="3.3"/><circle cx="1290.5" cy="1800.2" r="3.3"/><circle cx="1290.5" cy="1821.1" r="3.3"/><circle cx="1290.5" cy="1834.7" r="3.3"/><circle cx="1306.6" cy="1805.1" r="3.3"/><circle cx="1306.6" cy="1817.5" r="3.3"/><circle cx="1311.5" cy="1865.2" r="3.3"/><circle cx="1316.1" cy="1820.8" r="3.3"/><circle cx="1319.4" cy="1783.7" r="3.3"/><circle cx="1319.4" cy="1796.1" r="3.3"/><circle cx="1324.7" cy="1818.8" r="3.3"/><circle cx="1324.7" cy="1862.7" r="3.3"/><circle cx="1343.6" cy="1804.0" r="3.3"/><circle cx="1343.6" cy="1812.2" r="3.3"/><circle cx="1343.6" cy="1830.6" r="3.3"/><circle cx="1346.9" cy="1815.8" r="3.3"/><circle cx="1351.0" cy="1836.9" r="3.3"/><circle cx="1354.3" cy="1815.5" r="3.3"/><circle cx="1367.4" cy="1839.7" r="3.3"/><circle cx="1370.2" cy="1833.1" r="3.3"/><circle cx="1383.9" cy="1843.0" r="3.3"/><circle cx="1383.9" cy="1856.1" r="3.3"/><circle cx="1386.8" cy="1856.9" r="3.3"/><circle cx="1394.2" cy="1852.3" r="3.3"/><circle cx="1419.2" cy="1858.9" r="3.3"/><circle cx="1450.0" cy="1843.4" r="3.3"/><circle cx="1450.0" cy="1857.8" r="3.3"/><circle cx="1457.9" cy="1846.7" r="3.3"/><circle cx="1476.8" cy="1817.5" r="3.3"/><circle cx="1476.8" cy="1836.4" r="3.3"/><circle cx="1487.5" cy="1816.6" r="3.3"/><circle cx="1487.5" cy="1827.0" r="3.3"/><circle cx="1490.8" cy="1820.8" r="3.3"/><circle cx="1506.9" cy="1825.7" r="3.3"/><circle cx="1511.0" cy="1795.3" r="3.3"/><circle cx="1511.0" cy="1798.5" r="3.3"/><circle cx="1515.1" cy="1803.0" r="3.3"/><circle cx="1521.2" cy="1805.9" r="3.3"/><circle cx="1521.2" cy="1817.8" r="3.3"/><circle cx="1533.2" cy="1825.7" r="3.3"/><circle cx="1542.1" cy="1785.9" r="3.3"/><circle cx="1542.1" cy="1796.4" r="3.3"/><circle cx="1542.1" cy="1817.8" r="3.3"/><circle cx="1546.7" cy="1819.4" r="3.3"/><circle cx="1546.7" cy="1773.9" r="3.3"/><circle cx="1557.9" cy="1774.4" r="3.3"/><circle cx="1557.9" cy="1827.0" r="3.3"/><circle cx="1566.1" cy="1836.9" r="3.3"/><circle cx="1579.0" cy="1797.7" r="3.3"/><circle cx="1579.0" cy="1824.9" r="3.3"/><circle cx="1581.2" cy="1788.7" r="3.3"/><circle cx="1581.2" cy="1813.8" r="3.3"/><circle cx="1586.8" cy="1820.4" r="3.3"/><circle cx="1593.8" cy="1819.9" r="3.3"/><circle cx="1596.6" cy="1812.9" r="3.3"/><circle cx="1605.9" cy="1757.4" r="3.3"/><circle cx="1616.5" cy="1797.7" r="3.3"/><circle cx="1621.5" cy="1746.4" r="3.3"/><circle cx="1621.5" cy="1776.7" r="3.3"/><circle cx="1625.1" cy="1762.4" r="3.3"/><circle cx="1631.7" cy="1787.5" r="3.3"/><circle cx="1643.2" cy="1759.6" r="3.3"/><circle cx="1650.6" cy="1775.5" r="3.3"/><circle cx="1658.5" cy="1768.9" r="3.3"/><circle cx="1661.0" cy="1726.7" r="3.3"/><circle cx="1661.0" cy="1742.6" r="3.3"/><circle cx="1670.3" cy="1731.1" r="3.3"/><circle cx="1686.8" cy="1731.9" r="3.3"/><circle cx="1686.8" cy="1789.2" r="3.3"/><circle cx="1694.5" cy="1715.8" r="3.3"/><circle cx="1701.6" cy="1743.8" r="3.3"/><circle cx="1710.3" cy="1741.0" r="3.3"/><circle cx="1728.2" cy="1695.8" r="3.3"/><circle cx="1731.2" cy="1697.4" r="3.3"/><circle cx="1734.5" cy="1710.9" r="3.3"/><circle cx="1742.7" cy="1753.0" r="3.3"/><circle cx="1742.7" cy="1757.4" r="3.3"/><circle cx="1742.7" cy="1789.5" r="3.3"/><circle cx="1782.2" cy="1747.6" r="3.3"/><circle cx="1798.3" cy="1733.6" r="3.3"/></g>
<polyline points="1059.7,1743.4 1105.8,1721.2 1153.5,1754.6 1175.7,1746.7 1220.9,1769.8 1260.4,1799.4 1298.7,1817.2 1305.9,1816.6 1337.8,1818.3 1382.2,1841.8 1419.2,1858.9 1465.3,1839.7 1500.7,1814.2 1541.8,1804.6 1570.0,1801.8 1579.9,1800.2 1620.2,1772.2 1659.6,1757.9 1696.6,1745.4 1736.9,1733.9 1791.2,1741.5" fill="none" stroke="#008000" stroke-width="2.00" stroke-linejoin="round"/>
<g fill="#0000ff"><circle cx="1039.7" cy="1867.6" r="3.3"/><circle cx="1067.1" cy="1862.7" r="3.3"/><circle cx="1075.0" cy="1819.4" r="3.3"/><circle cx="1089.7" cy="1873.4" r="3.3"/><circle cx="1099.7" cy="1792.0" r="3.3"/><circle cx="1103.3" cy="1808.4" r="3.3"/><circle cx="1103.3" cy="1819.4" r="3.3"/><circle cx="1108.2" cy="1776.7" r="3.3"/><circle cx="1114.8" cy="1842.1" r="3.3"/><circle cx="1118.9" cy="1821.1" r="3.3"/><circle cx="1143.1" cy="1751.7" r="3.3"/><circle cx="1154.3" cy="1732.8" r="3.3"/><circle cx="1157.1" cy="1773.4" r="3.3"/><circle cx="1157.1" cy="1795.8" r="3.3"/><circle cx="1158.9" cy="1755.8" r="3.3"/><circle cx="1165.8" cy="1716.3" r="3.3"/><circle cx="1168.3" cy="1756.3" r="3.3"/><circle cx="1169.9" cy="1731.6" r="3.3"/><circle cx="1176.0" cy="1709.7" r="3.3"/><circle cx="1176.0" cy="1719.1" r="3.3"/><circle cx="1185.5" cy="1704.3" r="3.3"/><circle cx="1197.9" cy="1716.8" r="3.3"/><circle cx="1201.7" cy="1723.7" r="3.3"/><circle cx="1209.1" cy="1736.0" r="3.3"/><circle cx="1214.3" cy="1696.1" r="3.3"/><circle cx="1216.0" cy="1718.0" r="3.3"/><circle cx="1216.0" cy="1728.3" r="3.3"/><circle cx="1223.9" cy="1736.5" r="3.3"/><circle cx="1228.0" cy="1731.9" r="3.3"/><circle cx="1232.9" cy="1726.7" r="3.3"/><circle cx="1236.5" cy="1731.6" r="3.3"/><circle cx="1239.5" cy="1759.1" r="3.3"/><circle cx="1242.3" cy="1720.1" r="3.3"/><circle cx="1251.7" cy="1733.9" r="3.3"/><circle cx="1251.7" cy="1744.8" r="3.3"/><circle cx="1262.8" cy="1797.4" r="3.3"/><circle cx="1268.1" cy="1802.3" r="3.3"/><circle cx="1268.1" cy="1805.9" r="3.3"/><circle cx="1272.7" cy="1745.9" r="3.3"/><circle cx="1272.7" cy="1773.1" r="3.3"/><circle cx="1279.0" cy="1728.3" r="3.3"/><circle cx="1282.9" cy="1717.5" r="3.3"/><circle cx="1290.5" cy="1771.7" r="3.3"/><circle cx="1290.5" cy="1780.5" r="3.3"/><circle cx="1306.6" cy="1729.0" r="3.3"/><circle cx="1306.6" cy="1748.1" r="3.3"/><circle cx="1311.5" cy="1752.5" r="3.3"/><circle cx="1316.1" cy="1728.6" r="3.3"/><circle cx="1319.4" cy="1722.1" r="3.3"/><circle cx="1324.7" cy="1748.1" r="3.3"/><circle cx="1343.6" cy="1705.9" r="3.3"/><circle cx="1343.6" cy="1717.1" r="3.3"/><circle cx="1343.6" cy="1773.9" r="3.3"/><circle cx="1346.9" cy="1705.9" r="3.3"/><circle cx="1351.0" cy="1790.8" r="3.3"/><circle cx="1354.3" cy="1745.1" r="3.3"/><circle cx="1367.4" cy="1787.5" r="3.3"/><circle cx="1370.2" cy="1782.1" r="3.3"/><circle cx="1383.9" cy="1779.6" r="3.3"/><circle cx="1386.8" cy="1796.1" r="3.3"/><circle cx="1386.8" cy="1800.2" r="3.3"/><circle cx="1394.2" cy="1824.9" r="3.3"/><circle cx="1419.2" cy="1837.2" r="3.3"/><circle cx="1450.0" cy="1810.9" r="3.3"/><circle cx="1450.0" cy="1817.8" r="3.3"/><circle cx="1457.9" cy="1775.5" r="3.3"/><circle cx="1476.8" cy="1746.7" r="3.3"/><circle cx="1476.8" cy="1804.0" r="3.3"/><circle cx="1487.5" cy="1710.9" r="3.3"/><circle cx="1490.8" cy="1706.4" r="3.3"/><circle cx="1490.8" cy="1771.4" r="3.3"/><circle cx="1506.9" cy="1771.1" r="3.3"/><circle cx="1511.0" cy="1704.8" r="3.3"/><circle cx="1511.0" cy="1727.3" r="3.3"/><circle cx="1515.1" cy="1721.7" r="3.3"/><circle cx="1521.2" cy="1725.7" r="3.3"/><circle cx="1533.2" cy="1746.7" r="3.3"/><circle cx="1542.1" cy="1732.3" r="3.3"/><circle cx="1542.1" cy="1746.7" r="3.3"/><circle cx="1546.7" cy="1773.1" r="3.3"/><circle cx="1557.9" cy="1739.3" r="3.3"/><circle cx="1566.1" cy="1797.7" r="3.3"/><circle cx="1579.0" cy="1774.4" r="3.3"/><circle cx="1581.2" cy="1722.4" r="3.3"/><circle cx="1581.2" cy="1784.9" r="3.3"/><circle cx="1586.8" cy="1728.3" r="3.3"/><circle cx="1586.8" cy="1738.2" r="3.3"/><circle cx="1593.8" cy="1787.0" r="3.3"/><circle cx="1596.6" cy="1777.2" r="3.3"/><circle cx="1605.9" cy="1743.4" r="3.3"/><circle cx="1616.5" cy="1743.8" r="3.3"/><circle cx="1621.5" cy="1704.8" r="3.3"/><circle cx="1621.5" cy="1714.7" r="3.3"/><circle cx="1621.5" cy="1729.0" r="3.3"/><circle cx="1625.1" cy="1714.2" r="3.3"/><circle cx="1631.7" cy="1726.2" r="3.3"/><circle cx="1643.2" cy="1719.1" r="3.3"/><circle cx="1650.6" cy="1743.8" r="3.3"/><circle cx="1658.5" cy="1730.0" r="3.3"/><circle cx="1658.5" cy="1749.7" r="3.3"/><circle cx="1661.0" cy="1709.2" r="3.3"/><circle cx="1661.0" cy="1719.1" r="3.3"/><circle cx="1667.0" cy="1715.5" r="3.3"/><circle cx="1667.0" cy="1744.3" r="3.3"/><circle cx="1670.3" cy="1706.9" r="3.3"/><circle cx="1686.8" cy="1724.0" r="3.3"/><circle cx="1686.8" cy="1736.5" r="3.3"/><circle cx="1694.5" cy="1763.5" r="3.3"/><circle cx="1701.6" cy="1765.2" r="3.3"/><circle cx="1710.3" cy="1756.6" r="3.3"/><circle cx="1728.2" cy="1769.4" r="3.3"/><circle cx="1734.5" cy="1815.8" r="3.3"/><circle cx="1742.7" cy="1851.2" r="3.3"/><circle cx="1742.7" cy="1862.2" r="3.3"/><circle cx="1782.2" cy="1862.7" r="3.3"/><circle cx="1798.3" cy="1839.7" r="3.3"/></g>
<polyline points="1059.7,1850.4 1105.8,1819.1 1153.5,1752.0 1175.7,1721.7 1220.9,1730.0 1260.4,1764.0 1298.7,1745.9 1305.9,1743.4 1337.8,1734.4 1382.2,1796.1 1419.2,1837.2 1465.3,1785.9 1500.7,1728.3 1538.5,1739.3 1570.0,1756.9 1579.9,1764.0 1583.2,1764.0 1620.2,1725.7 1659.6,1726.7 1696.6,1749.2 1736.9,1810.9 1791.2,1852.0" fill="none" stroke="#0000ff" stroke-width="2.00" stroke-linejoin="round"/>
<g fill="#ff0000"><circle cx="1039.7" cy="1728.3" r="3.3"/><circle cx="1067.1" cy="1774.7" r="3.3"/><circle cx="1075.0" cy="1749.7" r="3.3"/><circle cx="1089.7" cy="1771.1" r="3.3"/><circle cx="1103.3" cy="1780.9" r="3.3"/><circle cx="1103.3" cy="1829.0" r="3.3"/><circle cx="1108.2" cy="1840.2" r="3.3"/><circle cx="1114.8" cy="1823.2" r="3.3"/><circle cx="1118.9" cy="1824.9" r="3.3"/><circle cx="1143.1" cy="1831.9" r="3.3"/><circle cx="1154.3" cy="1794.4" r="3.3"/><circle cx="1154.3" cy="1822.7" r="3.3"/><circle cx="1157.1" cy="1817.1" r="3.3"/><circle cx="1158.9" cy="1789.5" r="3.3"/><circle cx="1165.8" cy="1796.4" r="3.3"/><circle cx="1168.3" cy="1789.2" r="3.3"/><circle cx="1168.3" cy="1827.3" r="3.3"/><circle cx="1176.0" cy="1782.6" r="3.3"/><circle cx="1176.0" cy="1805.9" r="3.3"/><circle cx="1185.5" cy="1787.0" r="3.3"/><circle cx="1197.9" cy="1779.6" r="3.3"/><circle cx="1201.7" cy="1779.3" r="3.3"/><circle cx="1209.1" cy="1801.0" r="3.3"/><circle cx="1214.3" cy="1780.9" r="3.3"/><circle cx="1223.9" cy="1805.9" r="3.3"/><circle cx="1228.0" cy="1758.6" r="3.3"/><circle cx="1232.9" cy="1776.7" r="3.3"/><circle cx="1236.5" cy="1751.7" r="3.3"/><circle cx="1239.5" cy="1782.9" r="3.3"/><circle cx="1242.3" cy="1757.4" r="3.3"/><circle cx="1245.6" cy="1798.5" r="3.3"/><circle cx="1251.7" cy="1751.7" r="3.3"/><circle cx="1262.8" cy="1788.7" r="3.3"/><circle cx="1268.1" cy="1773.4" r="3.3"/><circle cx="1270.2" cy="1771.1" r="3.3"/><circle cx="1272.7" cy="1739.3" r="3.3"/><circle cx="1279.0" cy="1724.5" r="3.3"/><circle cx="1279.0" cy="1737.2" r="3.3"/><circle cx="1282.9" cy="1730.6" r="3.3"/><circle cx="1282.9" cy="1747.1" r="3.3"/><circle cx="1290.5" cy="1734.9" r="3.3"/><circle cx="1290.5" cy="1740.2" r="3.3"/><circle cx="1290.5" cy="1749.2" r="3.3"/><circle cx="1306.6" cy="1710.6" r="3.3"/><circle cx="1306.6" cy="1717.5" r="3.3"/><circle cx="1306.6" cy="1761.2" r="3.3"/><circle cx="1316.1" cy="1707.3" r="3.3"/><circle cx="1319.4" cy="1719.1" r="3.3"/><circle cx="1319.4" cy="1727.3" r="3.3"/><circle cx="1324.7" cy="1740.2" r="3.3"/><circle cx="1324.7" cy="1757.9" r="3.3"/><circle cx="1343.6" cy="1713.0" r="3.3"/><circle cx="1343.6" cy="1720.4" r="3.3"/><circle cx="1343.6" cy="1753.3" r="3.3"/><circle cx="1346.9" cy="1702.3" r="3.3"/><circle cx="1354.3" cy="1743.1" r="3.3"/><circle cx="1367.4" cy="1757.4" r="3.3"/><circle cx="1370.2" cy="1747.6" r="3.3"/><circle cx="1383.9" cy="1745.4" r="3.3"/><circle cx="1389.6" cy="1753.0" r="3.3"/><circle cx="1394.2" cy="1766.5" r="3.3"/><circle cx="1419.2" cy="1772.2" r="3.3"/><circle cx="1457.9" cy="1739.8" r="3.3"/><circle cx="1476.8" cy="1736.9" r="3.3"/><circle cx="1487.5" cy="1711.4" r="3.3"/><circle cx="1490.8" cy="1702.7" r="3.3"/><circle cx="1490.8" cy="1713.8" r="3.3"/><circle cx="1506.9" cy="1750.8" r="3.3"/><circle cx="1511.0" cy="1710.6" r="3.3"/><circle cx="1511.0" cy="1731.9" r="3.3"/><circle cx="1515.1" cy="1729.0" r="3.3"/><circle cx="1521.2" cy="1702.3" r="3.3"/><circle cx="1521.2" cy="1706.4" r="3.3"/><circle cx="1533.2" cy="1718.8" r="3.3"/><circle cx="1533.2" cy="1740.5" r="3.3"/><circle cx="1542.1" cy="1713.0" r="3.3"/><circle cx="1546.7" cy="1723.4" r="3.3"/><circle cx="1546.7" cy="1739.3" r="3.3"/><circle cx="1548.7" cy="1731.9" r="3.3"/><circle cx="1557.9" cy="1722.4" r="3.3"/><circle cx="1579.0" cy="1747.6" r="3.3"/><circle cx="1581.2" cy="1739.8" r="3.3"/><circle cx="1581.2" cy="1753.3" r="3.3"/><circle cx="1581.2" cy="1768.9" r="3.3"/><circle cx="1586.8" cy="1727.3" r="3.3"/><circle cx="1586.8" cy="1743.8" r="3.3"/><circle cx="1593.8" cy="1799.4" r="3.3"/><circle cx="1596.6" cy="1793.6" r="3.3"/><circle cx="1605.9" cy="1747.6" r="3.3"/><circle cx="1616.5" cy="1777.2" r="3.3"/><circle cx="1621.5" cy="1771.7" r="3.3"/><circle cx="1631.7" cy="1779.3" r="3.3"/><circle cx="1643.2" cy="1782.9" r="3.3"/><circle cx="1650.6" cy="1799.0" r="3.3"/><circle cx="1658.5" cy="1784.6" r="3.3"/><circle cx="1658.5" cy="1827.7" r="3.3"/><circle cx="1661.0" cy="1791.5" r="3.3"/><circle cx="1667.0" cy="1787.9" r="3.3"/><circle cx="1667.0" cy="1816.6" r="3.3"/><circle cx="1670.3" cy="1789.2" r="3.3"/><circle cx="1686.8" cy="1809.6" r="3.3"/><circle cx="1686.8" cy="1821.6" r="3.3"/><circle cx="1694.5" cy="1833.1" r="3.3"/><circle cx="1701.6" cy="1787.9" r="3.3"/><circle cx="1710.3" cy="1787.5" r="3.3"/><circle cx="1728.2" cy="1829.8" r="3.3"/><circle cx="1728.2" cy="1840.2" r="3.3"/><circle cx="1731.2" cy="1830.6" r="3.3"/><circle cx="1734.5" cy="1833.1" r="3.3"/><circle cx="1742.7" cy="1802.3" r="3.3"/><circle cx="1782.2" cy="1750.8" r="3.3"/><circle cx="1798.3" cy="1741.0" r="3.3"/></g>
<polyline points="1059.7,1750.4 1105.8,1814.2 1153.5,1810.9 1175.7,1796.1 1220.9,1775.0 1260.4,1761.9 1298.7,1733.0 1305.9,1732.8 1337.8,1730.6 1382.2,1753.0 1419.2,1772.2 1465.3,1749.2 1500.7,1725.0 1538.5,1722.4 1570.0,1748.4 1579.9,1757.9 1583.2,1758.2 1620.2,1766.5 1659.6,1796.9 1696.6,1807.6 1736.9,1812.5 1791.2,1745.9" fill="none" stroke="#ff0000" stroke-width="2.00" stroke-linejoin="round"/>
<g fill="#000000"><circle cx="1039.7" cy="1769.4" r="3.3"/><circle cx="1067.1" cy="1772.7" r="3.3"/><circle cx="1075.0" cy="1777.7" r="3.3"/><circle cx="1089.7" cy="1786.5" r="3.3"/><circle cx="1099.7" cy="1787.5" r="3.3"/><circle cx="1103.3" cy="1788.7" r="3.3"/><circle cx="1108.2" cy="1783.7" r="3.3"/><circle cx="1114.8" cy="1789.5" r="3.3"/><circle cx="1118.9" cy="1791.1" r="3.3"/><circle cx="1143.1" cy="1794.1" r="3.3"/><circle cx="1154.3" cy="1778.8" r="3.3"/><circle cx="1154.3" cy="1789.2" r="3.3"/><circle cx="1157.1" cy="1775.5" r="3.3"/><circle cx="1157.1" cy="1792.5" r="3.3"/><circle cx="1165.8" cy="1769.4" r="3.3"/><circle cx="1165.8" cy="1771.1" r="3.3"/><circle cx="1165.8" cy="1796.1" r="3.3"/><circle cx="1176.0" cy="1774.4" r="3.3"/><circle cx="1176.0" cy="1784.9" r="3.3"/><circle cx="1185.5" cy="1776.0" r="3.3"/><circle cx="1197.9" cy="1774.4" r="3.3"/><circle cx="1201.7" cy="1773.1" r="3.3"/><circle cx="1209.1" cy="1786.5" r="3.3"/><circle cx="1214.3" cy="1761.2" r="3.3"/><circle cx="1214.3" cy="1773.9" r="3.3"/><circle cx="1223.9" cy="1784.9" r="3.3"/><circle cx="1228.0" cy="1768.4" r="3.3"/><circle cx="1232.9" cy="1758.6" r="3.3"/><circle cx="1236.5" cy="1764.8" r="3.3"/><circle cx="1242.3" cy="1762.9" r="3.3"/><circle cx="1245.6" cy="1782.6" r="3.3"/><circle cx="1251.7" cy="1760.7" r="3.3"/><circle cx="1262.8" cy="1780.9" r="3.3"/><circle cx="1268.1" cy="1769.8" r="3.3"/><circle cx="1270.2" cy="1765.7" r="3.3"/><circle cx="1279.0" cy="1755.8" r="3.3"/><circle cx="1282.9" cy="1757.9" r="3.3"/><circle cx="1282.9" cy="1762.9" r="3.3"/><circle cx="1290.5" cy="1760.7" r="3.3"/><circle cx="1290.5" cy="1764.0" r="3.3"/><circle cx="1290.5" cy="1766.8" r="3.3"/><circle cx="1306.6" cy="1753.6" r="3.3"/><circle cx="1311.5" cy="1773.1" r="3.3"/><circle cx="1316.1" cy="1750.8" r="3.3"/><circle cx="1319.4" cy="1762.4" r="3.3"/><circle cx="1324.7" cy="1764.8" r="3.3"/><circle cx="1324.7" cy="1772.7" r="3.3"/><circle cx="1343.6" cy="1757.4" r="3.3"/><circle cx="1346.9" cy="1752.0" r="3.3"/><circle cx="1351.0" cy="1753.0" r="3.3"/><circle cx="1354.3" cy="1762.4" r="3.3"/><circle cx="1367.4" cy="1755.8" r="3.3"/><circle cx="1370.2" cy="1754.6" r="3.3"/><circle cx="1383.9" cy="1752.5" r="3.3"/><circle cx="1386.8" cy="1754.6" r="3.3"/><circle cx="1389.6" cy="1757.4" r="3.3"/><circle cx="1394.2" cy="1764.5" r="3.3"/><circle cx="1419.2" cy="1770.1" r="3.3"/><circle cx="1450.0" cy="1757.4" r="3.3"/><circle cx="1450.0" cy="1761.5" r="3.3"/><circle cx="1457.9" cy="1752.0" r="3.3"/><circle cx="1476.8" cy="1754.6" r="3.3"/><circle cx="1476.8" cy="1759.6" r="3.3"/><circle cx="1487.5" cy="1755.0" r="3.3"/><circle cx="1490.8" cy="1750.8" r="3.3"/><circle cx="1490.8" cy="1757.4" r="3.3"/><circle cx="1506.9" cy="1757.4" r="3.3"/><circle cx="1511.0" cy="1764.0" r="3.3"/><circle cx="1515.1" cy="1762.9" r="3.3"/><circle cx="1521.2" cy="1750.8" r="3.3"/><circle cx="1533.2" cy="1754.1" r="3.3"/><circle cx="1533.2" cy="1764.8" r="3.3"/><circle cx="1542.1" cy="1756.6" r="3.3"/><circle cx="1546.7" cy="1759.6" r="3.3"/><circle cx="1546.7" cy="1764.5" r="3.3"/><circle cx="1548.7" cy="1754.1" r="3.3"/><circle cx="1557.9" cy="1757.9" r="3.3"/><circle cx="1566.1" cy="1777.2" r="3.3"/><circle cx="1579.0" cy="1760.7" r="3.3"/><circle cx="1581.2" cy="1759.9" r="3.3"/><circle cx="1586.8" cy="1752.0" r="3.3"/><circle cx="1593.8" cy="1782.1" r="3.3"/><circle cx="1596.6" cy="1779.3" r="3.3"/><circle cx="1605.9" cy="1762.4" r="3.3"/><circle cx="1616.5" cy="1764.0" r="3.3"/><circle cx="1621.5" cy="1760.2" r="3.3"/><circle cx="1621.5" cy="1767.3" r="3.3"/><circle cx="1625.1" cy="1761.2" r="3.3"/><circle cx="1631.7" cy="1770.6" r="3.3"/><circle cx="1643.2" cy="1775.0" r="3.3"/><circle cx="1650.6" cy="1784.2" r="3.3"/><circle cx="1658.5" cy="1779.3" r="3.3"/><circle cx="1658.5" cy="1794.1" r="3.3"/><circle cx="1661.0" cy="1778.3" r="3.3"/><circle cx="1667.0" cy="1768.9" r="3.3"/><circle cx="1667.0" cy="1793.6" r="3.3"/><circle cx="1670.3" cy="1776.0" r="3.3"/><circle cx="1686.8" cy="1779.3" r="3.3"/><circle cx="1686.8" cy="1785.4" r="3.3"/><circle cx="1694.5" cy="1794.1" r="3.3"/><circle cx="1701.6" cy="1780.0" r="3.3"/><circle cx="1710.3" cy="1777.7" r="3.3"/><circle cx="1728.2" cy="1781.6" r="3.3"/><circle cx="1728.2" cy="1787.5" r="3.3"/><circle cx="1734.5" cy="1791.5" r="3.3"/><circle cx="1742.7" cy="1781.6" r="3.3"/><circle cx="1742.7" cy="1787.5" r="3.3"/><circle cx="1782.2" cy="1766.8" r="3.3"/><circle cx="1798.3" cy="1775.0" r="3.3"/></g>
<polyline points="1059.7,1773.1 1100.0,1786.2 1154.3,1785.9 1175.7,1776.7 1220.9,1770.6 1260.4,1764.5 1298.7,1760.2 1305.9,1760.2 1339.5,1759.6 1382.2,1756.6 1419.2,1770.6 1465.3,1756.3 1502.3,1756.6 1538.5,1756.6 1570.0,1764.0 1579.9,1765.7 1583.2,1765.7 1620.2,1765.7 1659.6,1781.3 1736.9,1785.4 1744.3,1784.2 1791.2,1770.6" fill="none" stroke="#000000" stroke-width="2.00" stroke-linejoin="round"/>
</g>
<rect x="1024.50" y="1600.70" width="809.00" height="353.10" fill="none" stroke="#000" stroke-width="3.50"/>
<path d="M1052.80 1600.70V1616.50M1052.80 1953.80V1938.00M1240.90 1600.70V1616.50M1240.90 1953.80V1938.00M1429.00 1600.70V1616.50M1429.00 1953.80V1938.00M1617.10 1600.70V1616.50M1617.10 1953.80V1938.00M1805.20 1600.70V1616.50M1805.20 1953.80V1938.00" stroke="#000" stroke-width="3.50" fill="none"/>
<path d="M1024.50 1635.75H1040.30M1833.50 1635.75H1817.70M1024.50 1706.50H1040.30M1833.50 1706.50H1817.70M1024.50 1777.25H1040.30M1833.50 1777.25H1817.70M1024.50 1848.00H1040.30M1833.50 1848.00H1817.70M1024.50 1918.75H1040.30M1833.50 1918.75H1817.70" stroke="#000" stroke-width="3.50" fill="none"/>
<text transform="translate(1849.27 1647.83) scale(1.0482 1)" font-size="35.60" fill="#000">0.04</text>
<text transform="translate(1849.23 1718.58) scale(1.0732 1)" font-size="35.60" fill="#000">0.02</text>
<text transform="translate(1849.31 1789.33) scale(1.0190 1)" font-size="35.60" fill="#000">0</text>
<text transform="translate(1849.66 1862.63) scale(1.3831 1)" font-size="35.60" fill="#000">−</text>
<text transform="translate(1878.41 1860.08) scale(1.0732 1)" font-size="35.60" fill="#000">0.02</text>
<text transform="translate(1849.66 1933.38) scale(1.3831 1)" font-size="35.60" fill="#000">−</text>
<text transform="translate(1878.44 1930.83) scale(1.0482 1)" font-size="35.60" fill="#000">0.04</text>
<clipPath id="cL5"><rect x="174.80" y="1989.30" width="809.10" height="353.10"/></clipPath>
<g clip-path="url(#cL5)">
<g fill="#008000"><circle cx="190.0" cy="2241.0" r="3.3"/><circle cx="217.6" cy="2252.5" r="3.3"/><circle cx="225.0" cy="2235.7" r="3.3"/><circle cx="239.8" cy="2246.3" r="3.3"/><circle cx="250.0" cy="2195.8" r="3.3"/><circle cx="253.3" cy="2208.9" r="3.3"/><circle cx="253.3" cy="2230.8" r="3.3"/><circle cx="269.3" cy="2221.6" r="3.3"/><circle cx="293.1" cy="2130.5" r="3.3"/><circle cx="305.1" cy="2101.2" r="3.3"/><circle cx="305.1" cy="2190.8" r="3.3"/><circle cx="305.1" cy="2241.3" r="3.3"/><circle cx="308.9" cy="2201.9" r="3.3"/><circle cx="316.1" cy="2031.3" r="3.3"/><circle cx="316.1" cy="2034.1" r="3.3"/><circle cx="318.8" cy="2218.0" r="3.3"/><circle cx="318.8" cy="2227.5" r="3.3"/><circle cx="326.0" cy="2146.9" r="3.3"/><circle cx="326.0" cy="2188.4" r="3.3"/><circle cx="335.9" cy="2120.1" r="3.3"/><circle cx="348.4" cy="2047.7" r="3.3"/><circle cx="351.7" cy="2034.6" r="3.3"/><circle cx="359.7" cy="2170.6" r="3.3"/><circle cx="365.1" cy="2019.3" r="3.3"/><circle cx="366.5" cy="2145.9" r="3.3"/><circle cx="374.2" cy="2200.7" r="3.3"/><circle cx="382.9" cy="2100.9" r="3.3"/><circle cx="382.9" cy="2132.4" r="3.3"/><circle cx="378.3" cy="2134.1" r="3.3"/><circle cx="387.0" cy="2194.6" r="3.3"/><circle cx="389.5" cy="2091.7" r="3.3"/><circle cx="395.6" cy="2076.2" r="3.3"/><circle cx="401.7" cy="2154.2" r="3.3"/><circle cx="403.3" cy="2126.2" r="3.3"/><circle cx="413.3" cy="2088.0" r="3.3"/><circle cx="418.1" cy="2090.5" r="3.3"/><circle cx="418.1" cy="2093.0" r="3.3"/><circle cx="420.2" cy="2089.4" r="3.3"/><circle cx="423.5" cy="2104.8" r="3.3"/><circle cx="429.0" cy="2153.0" r="3.3"/><circle cx="429.0" cy="2215.5" r="3.3"/><circle cx="440.0" cy="2084.4" r="3.3"/><circle cx="440.0" cy="2100.4" r="3.3"/><circle cx="440.0" cy="2220.4" r="3.3"/><circle cx="456.9" cy="2070.8" r="3.3"/><circle cx="456.9" cy="2076.9" r="3.3"/><circle cx="461.8" cy="2160.1" r="3.3"/><circle cx="466.8" cy="2060.1" r="3.3"/><circle cx="470.1" cy="2139.0" r="3.3"/><circle cx="470.1" cy="2160.1" r="3.3"/><circle cx="475.0" cy="2175.5" r="3.3"/><circle cx="475.0" cy="2218.3" r="3.3"/><circle cx="494.1" cy="2071.3" r="3.3"/><circle cx="494.1" cy="2094.3" r="3.3"/><circle cx="494.1" cy="2178.2" r="3.3"/><circle cx="497.4" cy="2071.6" r="3.3"/><circle cx="520.2" cy="2144.8" r="3.3"/><circle cx="534.2" cy="2135.4" r="3.3"/><circle cx="539.6" cy="2145.6" r="3.3"/><circle cx="544.6" cy="2162.1" r="3.3"/><circle cx="570.1" cy="2165.7" r="3.3"/><circle cx="600.5" cy="2173.2" r="3.3"/><circle cx="600.5" cy="2176.0" r="3.3"/><circle cx="608.2" cy="2202.3" r="3.3"/><circle cx="627.3" cy="2173.2" r="3.3"/><circle cx="627.3" cy="2201.5" r="3.3"/><circle cx="627.3" cy="2209.4" r="3.3"/><circle cx="638.8" cy="2154.7" r="3.3"/><circle cx="638.8" cy="2247.2" r="3.3"/><circle cx="638.8" cy="2260.7" r="3.3"/><circle cx="641.6" cy="2245.1" r="3.3"/><circle cx="656.9" cy="2157.9" r="3.3"/><circle cx="661.3" cy="2160.1" r="3.3"/><circle cx="661.3" cy="2190.8" r="3.3"/><circle cx="661.3" cy="2282.4" r="3.3"/><circle cx="671.2" cy="2262.7" r="3.3"/><circle cx="671.2" cy="2269.8" r="3.3"/><circle cx="683.2" cy="2109.4" r="3.3"/><circle cx="683.2" cy="2264.4" r="3.3"/><circle cx="692.1" cy="2218.8" r="3.3"/><circle cx="692.1" cy="2241.3" r="3.3"/><circle cx="696.7" cy="2113.0" r="3.3"/><circle cx="696.7" cy="2142.3" r="3.3"/><circle cx="696.7" cy="2253.8" r="3.3"/><circle cx="716.1" cy="2241.3" r="3.3"/><circle cx="720.0" cy="2242.6" r="3.3"/><circle cx="731.2" cy="2132.8" r="3.3"/><circle cx="731.2" cy="2178.8" r="3.3"/><circle cx="731.2" cy="2208.4" r="3.3"/><circle cx="731.2" cy="2220.9" r="3.3"/><circle cx="733.2" cy="2124.6" r="3.3"/><circle cx="733.2" cy="2226.5" r="3.3"/><circle cx="743.8" cy="2252.5" r="3.3"/><circle cx="743.8" cy="2260.7" r="3.3"/><circle cx="756.2" cy="2188.4" r="3.3"/><circle cx="766.5" cy="2222.9" r="3.3"/><circle cx="771.3" cy="2195.8" r="3.3"/><circle cx="771.3" cy="2200.7" r="3.3"/><circle cx="772.6" cy="2131.1" r="3.3"/><circle cx="775.1" cy="2189.2" r="3.3"/><circle cx="782.2" cy="2315.0" r="3.3"/><circle cx="793.5" cy="2275.5" r="3.3"/><circle cx="801.1" cy="2150.2" r="3.3"/><circle cx="808.8" cy="2117.6" r="3.3"/><circle cx="808.8" cy="2179.3" r="3.3"/><circle cx="811.3" cy="2142.3" r="3.3"/><circle cx="812.9" cy="2247.9" r="3.3"/><circle cx="817.0" cy="2131.1" r="3.3"/><circle cx="817.0" cy="2306.0" r="3.3"/><circle cx="820.8" cy="2150.2" r="3.3"/><circle cx="836.8" cy="2136.6" r="3.3"/><circle cx="836.8" cy="2263.2" r="3.3"/><circle cx="844.7" cy="2176.5" r="3.3"/><circle cx="851.9" cy="2114.7" r="3.3"/><circle cx="860.6" cy="2114.4" r="3.3"/><circle cx="878.2" cy="2150.2" r="3.3"/><circle cx="878.2" cy="2181.5" r="3.3"/><circle cx="884.5" cy="2134.4" r="3.3"/><circle cx="892.7" cy="2089.4" r="3.3"/><circle cx="892.7" cy="2090.5" r="3.3"/><circle cx="932.2" cy="2079.5" r="3.3"/><circle cx="948.6" cy="2097.9" r="3.3"/></g>
<polyline points="209.7,2243.5 255.8,2211.4 304.3,2172.2 325.7,2126.7 370.9,2128.3 410.4,2125.5 448.7,2120.8 455.9,2125.0 488.7,2139.8 532.2,2153.0 569.2,2165.7 615.3,2189.2 651.5,2206.8 690.1,2204.5 720.0,2202.3 729.9,2201.2 733.2,2201.2 771.0,2206.1 809.6,2189.2 846.6,2161.2 886.9,2122.6 941.2,2088.4" fill="none" stroke="#008000" stroke-width="2.00" stroke-linejoin="round"/>
<g fill="#0000ff"><circle cx="190.0" cy="2151.4" r="3.3"/><circle cx="217.6" cy="2203.5" r="3.3"/><circle cx="225.0" cy="2166.7" r="3.3"/><circle cx="239.8" cy="2179.3" r="3.3"/><circle cx="250.0" cy="2240.7" r="3.3"/><circle cx="253.3" cy="2181.0" r="3.3"/><circle cx="253.3" cy="2237.7" r="3.3"/><circle cx="259.1" cy="2230.3" r="3.3"/><circle cx="264.8" cy="2215.5" r="3.3"/><circle cx="269.3" cy="2219.9" r="3.3"/><circle cx="293.1" cy="2210.1" r="3.3"/><circle cx="305.1" cy="2197.9" r="3.3"/><circle cx="305.1" cy="2272.6" r="3.3"/><circle cx="307.1" cy="2262.7" r="3.3"/><circle cx="308.9" cy="2254.2" r="3.3"/><circle cx="316.1" cy="2142.3" r="3.3"/><circle cx="316.1" cy="2146.4" r="3.3"/><circle cx="318.8" cy="2239.0" r="3.3"/><circle cx="318.8" cy="2258.3" r="3.3"/><circle cx="326.0" cy="2219.6" r="3.3"/><circle cx="326.0" cy="2264.0" r="3.3"/><circle cx="335.9" cy="2211.1" r="3.3"/><circle cx="348.4" cy="2166.7" r="3.3"/><circle cx="351.7" cy="2157.4" r="3.3"/><circle cx="359.7" cy="2265.3" r="3.3"/><circle cx="365.1" cy="2143.6" r="3.3"/><circle cx="365.1" cy="2239.0" r="3.3"/><circle cx="365.1" cy="2285.1" r="3.3"/><circle cx="374.2" cy="2194.9" r="3.3"/><circle cx="378.0" cy="2275.5" r="3.3"/><circle cx="382.9" cy="2205.1" r="3.3"/><circle cx="382.9" cy="2251.2" r="3.3"/><circle cx="387.0" cy="2234.1" r="3.3"/><circle cx="389.5" cy="2199.6" r="3.3"/><circle cx="395.6" cy="2183.8" r="3.3"/><circle cx="401.7" cy="2246.3" r="3.3"/><circle cx="401.7" cy="2267.0" r="3.3"/><circle cx="413.3" cy="2181.0" r="3.3"/><circle cx="418.1" cy="2183.4" r="3.3"/><circle cx="423.5" cy="2192.5" r="3.3"/><circle cx="429.0" cy="2157.1" r="3.3"/><circle cx="429.0" cy="2217.2" r="3.3"/><circle cx="434.2" cy="2236.4" r="3.3"/><circle cx="440.0" cy="2133.3" r="3.3"/><circle cx="440.0" cy="2176.0" r="3.3"/><circle cx="440.0" cy="2199.1" r="3.3"/><circle cx="456.9" cy="2099.2" r="3.3"/><circle cx="466.8" cy="2063.0" r="3.3"/><circle cx="470.1" cy="2153.8" r="3.3"/><circle cx="470.1" cy="2157.1" r="3.3"/><circle cx="475.0" cy="2193.3" r="3.3"/><circle cx="494.1" cy="2076.2" r="3.3"/><circle cx="494.1" cy="2083.4" r="3.3"/><circle cx="494.1" cy="2102.5" r="3.3"/><circle cx="494.1" cy="2114.7" r="3.3"/><circle cx="497.4" cy="2076.9" r="3.3"/><circle cx="497.4" cy="2083.4" r="3.3"/><circle cx="505.1" cy="2155.8" r="3.3"/><circle cx="520.2" cy="2159.1" r="3.3"/><circle cx="534.2" cy="2160.1" r="3.3"/><circle cx="537.2" cy="2160.7" r="3.3"/><circle cx="600.5" cy="2162.9" r="3.3"/><circle cx="608.2" cy="2171.9" r="3.3"/><circle cx="627.3" cy="2183.1" r="3.3"/><circle cx="627.3" cy="2190.8" r="3.3"/><circle cx="638.8" cy="2166.7" r="3.3"/><circle cx="638.8" cy="2229.5" r="3.3"/><circle cx="638.8" cy="2234.8" r="3.3"/><circle cx="638.8" cy="2254.5" r="3.3"/><circle cx="656.9" cy="2169.5" r="3.3"/><circle cx="661.3" cy="2169.9" r="3.3"/><circle cx="661.3" cy="2193.0" r="3.3"/><circle cx="661.3" cy="2274.2" r="3.3"/><circle cx="665.5" cy="2193.6" r="3.3"/><circle cx="671.2" cy="2259.1" r="3.3"/><circle cx="671.2" cy="2265.3" r="3.3"/><circle cx="683.2" cy="2134.4" r="3.3"/><circle cx="683.2" cy="2248.4" r="3.3"/><circle cx="692.1" cy="2164.5" r="3.3"/><circle cx="692.1" cy="2210.1" r="3.3"/><circle cx="692.1" cy="2201.5" r="3.3"/><circle cx="696.7" cy="2114.0" r="3.3"/><circle cx="696.7" cy="2137.4" r="3.3"/><circle cx="708.6" cy="2134.9" r="3.3"/><circle cx="716.1" cy="2169.5" r="3.3"/><circle cx="720.0" cy="2169.0" r="3.3"/><circle cx="731.2" cy="2088.4" r="3.3"/><circle cx="731.2" cy="2122.2" r="3.3"/><circle cx="731.2" cy="2143.6" r="3.3"/><circle cx="733.2" cy="2069.1" r="3.3"/><circle cx="737.3" cy="2095.4" r="3.3"/><circle cx="737.3" cy="2107.4" r="3.3"/><circle cx="747.1" cy="2150.2" r="3.3"/><circle cx="756.2" cy="2064.2" r="3.3"/><circle cx="766.5" cy="2122.2" r="3.3"/><circle cx="771.3" cy="2069.9" r="3.3"/><circle cx="771.3" cy="2109.8" r="3.3"/><circle cx="772.6" cy="2107.0" r="3.3"/><circle cx="775.1" cy="2050.2" r="3.3"/><circle cx="782.2" cy="2190.8" r="3.3"/><circle cx="793.5" cy="2160.1" r="3.3"/><circle cx="801.1" cy="2061.4" r="3.3"/><circle cx="808.8" cy="2047.7" r="3.3"/><circle cx="808.8" cy="2121.8" r="3.3"/><circle cx="811.3" cy="2078.5" r="3.3"/><circle cx="812.9" cy="2144.0" r="3.3"/><circle cx="817.0" cy="2075.7" r="3.3"/><circle cx="817.0" cy="2190.8" r="3.3"/><circle cx="820.8" cy="2081.8" r="3.3"/><circle cx="836.8" cy="2143.6" r="3.3"/><circle cx="836.8" cy="2158.4" r="3.3"/><circle cx="844.7" cy="2116.3" r="3.3"/><circle cx="851.9" cy="2105.8" r="3.3"/><circle cx="860.6" cy="2093.3" r="3.3"/><circle cx="878.2" cy="2111.1" r="3.3"/><circle cx="881.2" cy="2099.9" r="3.3"/><circle cx="884.5" cy="2104.2" r="3.3"/><circle cx="892.7" cy="2073.6" r="3.3"/><circle cx="892.7" cy="2125.0" r="3.3"/><circle cx="892.7" cy="2143.1" r="3.3"/><circle cx="932.2" cy="2151.4" r="3.3"/><circle cx="948.6" cy="2179.8" r="3.3"/></g>
<polyline points="209.7,2173.6 255.8,2214.7 304.3,2239.4 325.7,2206.1 370.9,2225.4 410.4,2203.2 448.7,2147.6 455.9,2145.6 488.7,2139.8 532.2,2165.7 569.2,2167.0 615.3,2170.6 651.5,2205.6 690.1,2186.7 720.0,2142.3 729.9,2128.3 733.2,2125.0 771.0,2102.0 809.6,2107.0 846.6,2123.9 886.9,2109.4 941.2,2166.2" fill="none" stroke="#0000ff" stroke-width="2.00" stroke-linejoin="round"/>
<g fill="#ff0000"><circle cx="190.0" cy="2199.6" r="3.3"/><circle cx="217.6" cy="2163.4" r="3.3"/><circle cx="225.0" cy="2209.4" r="3.3"/><circle cx="239.8" cy="2151.4" r="3.3"/><circle cx="250.0" cy="2135.4" r="3.3"/><circle cx="253.3" cy="2130.0" r="3.3"/><circle cx="253.3" cy="2144.8" r="3.3"/><circle cx="259.1" cy="2132.4" r="3.3"/><circle cx="264.8" cy="2130.0" r="3.3"/><circle cx="269.3" cy="2118.0" r="3.3"/><circle cx="293.1" cy="2120.6" r="3.3"/><circle cx="305.1" cy="2120.9" r="3.3"/><circle cx="305.1" cy="2144.0" r="3.3"/><circle cx="305.1" cy="2190.0" r="3.3"/><circle cx="308.9" cy="2132.8" r="3.3"/><circle cx="316.1" cy="2112.7" r="3.3"/><circle cx="316.1" cy="2116.8" r="3.3"/><circle cx="319.9" cy="2106.1" r="3.3"/><circle cx="326.0" cy="2122.9" r="3.3"/><circle cx="335.9" cy="2140.3" r="3.3"/><circle cx="348.4" cy="2151.9" r="3.3"/><circle cx="351.7" cy="2158.8" r="3.3"/><circle cx="359.7" cy="2145.6" r="3.3"/><circle cx="365.1" cy="2145.3" r="3.3"/><circle cx="366.5" cy="2149.7" r="3.3"/><circle cx="374.2" cy="2167.3" r="3.3"/><circle cx="378.0" cy="2173.2" r="3.3"/><circle cx="382.9" cy="2173.2" r="3.3"/><circle cx="387.0" cy="2182.1" r="3.3"/><circle cx="389.5" cy="2174.4" r="3.3"/><circle cx="395.6" cy="2186.7" r="3.3"/><circle cx="401.7" cy="2180.5" r="3.3"/><circle cx="403.3" cy="2168.3" r="3.3"/><circle cx="413.3" cy="2195.8" r="3.3"/><circle cx="418.1" cy="2193.6" r="3.3"/><circle cx="420.2" cy="2194.1" r="3.3"/><circle cx="423.5" cy="2179.8" r="3.3"/><circle cx="429.0" cy="2199.6" r="3.3"/><circle cx="434.2" cy="2192.5" r="3.3"/><circle cx="434.2" cy="2158.8" r="3.3"/><circle cx="440.0" cy="2196.3" r="3.3"/><circle cx="440.0" cy="2209.4" r="3.3"/><circle cx="456.9" cy="2181.8" r="3.3"/><circle cx="456.9" cy="2184.8" r="3.3"/><circle cx="461.8" cy="2161.2" r="3.3"/><circle cx="466.8" cy="2176.9" r="3.3"/><circle cx="470.1" cy="2194.9" r="3.3"/><circle cx="470.1" cy="2201.9" r="3.3"/><circle cx="475.0" cy="2172.7" r="3.3"/><circle cx="475.0" cy="2214.7" r="3.3"/><circle cx="494.1" cy="2183.1" r="3.3"/><circle cx="494.1" cy="2187.5" r="3.3"/><circle cx="497.4" cy="2182.6" r="3.3"/><circle cx="501.8" cy="2159.6" r="3.3"/><circle cx="505.1" cy="2197.4" r="3.3"/><circle cx="517.8" cy="2166.7" r="3.3"/><circle cx="520.2" cy="2186.7" r="3.3"/><circle cx="534.2" cy="2196.6" r="3.3"/><circle cx="539.6" cy="2176.0" r="3.3"/><circle cx="539.6" cy="2203.5" r="3.3"/><circle cx="544.6" cy="2175.5" r="3.3"/><circle cx="600.5" cy="2136.6" r="3.3"/><circle cx="608.2" cy="2129.5" r="3.3"/><circle cx="627.3" cy="2134.4" r="3.3"/><circle cx="627.3" cy="2144.0" r="3.3"/><circle cx="638.8" cy="2145.3" r="3.3"/><circle cx="641.6" cy="2145.6" r="3.3"/><circle cx="641.6" cy="2149.2" r="3.3"/><circle cx="656.9" cy="2144.8" r="3.3"/><circle cx="661.3" cy="2126.7" r="3.3"/><circle cx="661.3" cy="2146.9" r="3.3"/><circle cx="665.5" cy="2137.1" r="3.3"/><circle cx="671.2" cy="2154.2" r="3.3"/><circle cx="683.2" cy="2119.0" r="3.3"/><circle cx="683.2" cy="2148.6" r="3.3"/><circle cx="692.1" cy="2148.1" r="3.3"/><circle cx="696.7" cy="2116.3" r="3.3"/><circle cx="696.7" cy="2125.9" r="3.3"/><circle cx="696.7" cy="2141.0" r="3.3"/><circle cx="708.6" cy="2132.8" r="3.3"/><circle cx="716.1" cy="2132.1" r="3.3"/><circle cx="716.1" cy="2136.6" r="3.3"/><circle cx="720.0" cy="2137.1" r="3.3"/><circle cx="731.2" cy="2145.3" r="3.3"/><circle cx="731.2" cy="2153.0" r="3.3"/><circle cx="733.2" cy="2127.2" r="3.3"/><circle cx="737.3" cy="2141.0" r="3.3"/><circle cx="738.4" cy="2127.2" r="3.3"/><circle cx="743.8" cy="2144.0" r="3.3"/><circle cx="747.1" cy="2148.1" r="3.3"/><circle cx="756.2" cy="2149.2" r="3.3"/><circle cx="771.3" cy="2153.0" r="3.3"/><circle cx="771.3" cy="2180.1" r="3.3"/><circle cx="772.6" cy="2171.1" r="3.3"/><circle cx="775.1" cy="2179.3" r="3.3"/><circle cx="782.2" cy="2175.2" r="3.3"/><circle cx="793.5" cy="2178.8" r="3.3"/><circle cx="801.1" cy="2181.0" r="3.3"/><circle cx="808.8" cy="2186.7" r="3.3"/><circle cx="811.3" cy="2213.4" r="3.3"/><circle cx="817.0" cy="2179.8" r="3.3"/><circle cx="817.0" cy="2208.9" r="3.3"/><circle cx="820.8" cy="2209.4" r="3.3"/><circle cx="836.8" cy="2213.4" r="3.3"/><circle cx="844.7" cy="2213.0" r="3.3"/><circle cx="851.9" cy="2197.4" r="3.3"/><circle cx="860.6" cy="2207.8" r="3.3"/><circle cx="878.2" cy="2204.8" r="3.3"/><circle cx="881.2" cy="2200.2" r="3.3"/><circle cx="884.5" cy="2206.1" r="3.3"/><circle cx="892.7" cy="2124.2" r="3.3"/><circle cx="892.7" cy="2190.3" r="3.3"/><circle cx="892.7" cy="2199.9" r="3.3"/><circle cx="932.2" cy="2149.2" r="3.3"/><circle cx="948.6" cy="2130.5" r="3.3"/></g>
<polyline points="209.7,2191.3 255.8,2134.4 303.5,2141.0 325.7,2130.8 370.9,2158.4 410.4,2185.9 448.7,2183.3 455.9,2183.4 491.1,2187.5 532.2,2184.3 569.2,2167.8 615.3,2142.0 651.5,2141.5 690.1,2139.0 720.0,2142.3 729.9,2144.0 733.2,2144.0 771.0,2167.8 809.6,2190.0 846.6,2198.6 886.9,2187.5 941.2,2139.4" fill="none" stroke="#ff0000" stroke-width="2.00" stroke-linejoin="round"/>
<g fill="#000000"><circle cx="190.0" cy="2178.2" r="3.3"/><circle cx="217.6" cy="2170.3" r="3.3"/><circle cx="225.0" cy="2187.5" r="3.3"/><circle cx="239.8" cy="2165.0" r="3.3"/><circle cx="250.0" cy="2167.8" r="3.3"/><circle cx="253.3" cy="2158.8" r="3.3"/><circle cx="259.1" cy="2166.2" r="3.3"/><circle cx="264.8" cy="2159.6" r="3.3"/><circle cx="269.3" cy="2161.2" r="3.3"/><circle cx="293.1" cy="2161.2" r="3.3"/><circle cx="305.1" cy="2163.7" r="3.3"/><circle cx="307.1" cy="2183.1" r="3.3"/><circle cx="308.9" cy="2162.1" r="3.3"/><circle cx="316.1" cy="2161.2" r="3.3"/><circle cx="318.8" cy="2169.9" r="3.3"/><circle cx="318.8" cy="2161.2" r="3.3"/><circle cx="319.9" cy="2162.1" r="3.3"/><circle cx="326.0" cy="2163.7" r="3.3"/><circle cx="326.0" cy="2167.0" r="3.3"/><circle cx="335.9" cy="2167.8" r="3.3"/><circle cx="348.4" cy="2175.5" r="3.3"/><circle cx="351.7" cy="2176.9" r="3.3"/><circle cx="359.7" cy="2157.1" r="3.3"/><circle cx="365.1" cy="2162.1" r="3.3"/><circle cx="365.1" cy="2176.5" r="3.3"/><circle cx="366.5" cy="2168.3" r="3.3"/><circle cx="374.2" cy="2163.7" r="3.3"/><circle cx="378.0" cy="2169.5" r="3.3"/><circle cx="382.9" cy="2159.6" r="3.3"/><circle cx="387.0" cy="2167.0" r="3.3"/><circle cx="389.5" cy="2169.0" r="3.3"/><circle cx="392.8" cy="2166.7" r="3.3"/><circle cx="401.7" cy="2171.6" r="3.3"/><circle cx="403.3" cy="2159.6" r="3.3"/><circle cx="413.3" cy="2173.9" r="3.3"/><circle cx="418.1" cy="2171.6" r="3.3"/><circle cx="420.2" cy="2171.6" r="3.3"/><circle cx="423.5" cy="2160.4" r="3.3"/><circle cx="429.0" cy="2165.7" r="3.3"/><circle cx="429.0" cy="2174.9" r="3.3"/><circle cx="434.2" cy="2163.7" r="3.3"/><circle cx="440.0" cy="2161.7" r="3.3"/><circle cx="440.0" cy="2170.6" r="3.3"/><circle cx="440.0" cy="2177.2" r="3.3"/><circle cx="456.9" cy="2164.5" r="3.3"/><circle cx="461.8" cy="2164.5" r="3.3"/><circle cx="466.8" cy="2164.0" r="3.3"/><circle cx="470.1" cy="2164.0" r="3.3"/><circle cx="470.1" cy="2167.3" r="3.3"/><circle cx="475.0" cy="2168.6" r="3.3"/><circle cx="475.0" cy="2176.5" r="3.3"/><circle cx="494.1" cy="2163.7" r="3.3"/><circle cx="494.1" cy="2167.0" r="3.3"/><circle cx="497.4" cy="2168.6" r="3.3"/><circle cx="501.8" cy="2165.7" r="3.3"/><circle cx="505.1" cy="2167.0" r="3.3"/><circle cx="517.8" cy="2165.0" r="3.3"/><circle cx="520.2" cy="2169.9" r="3.3"/><circle cx="534.2" cy="2177.7" r="3.3"/><circle cx="537.2" cy="2165.7" r="3.3"/><circle cx="539.6" cy="2186.4" r="3.3"/><circle cx="544.6" cy="2170.6" r="3.3"/><circle cx="570.1" cy="2167.0" r="3.3"/><circle cx="600.5" cy="2148.1" r="3.3"/><circle cx="600.5" cy="2160.4" r="3.3"/><circle cx="608.2" cy="2149.7" r="3.3"/><circle cx="627.3" cy="2155.8" r="3.3"/><circle cx="627.3" cy="2163.4" r="3.3"/><circle cx="627.3" cy="2167.8" r="3.3"/><circle cx="638.8" cy="2165.0" r="3.3"/><circle cx="641.6" cy="2162.1" r="3.3"/><circle cx="656.9" cy="2165.7" r="3.3"/><circle cx="661.3" cy="2169.0" r="3.3"/><circle cx="665.5" cy="2166.7" r="3.3"/><circle cx="671.2" cy="2169.0" r="3.3"/><circle cx="683.2" cy="2154.7" r="3.3"/><circle cx="683.2" cy="2166.7" r="3.3"/><circle cx="692.1" cy="2171.6" r="3.3"/><circle cx="696.7" cy="2155.5" r="3.3"/><circle cx="696.7" cy="2162.9" r="3.3"/><circle cx="708.6" cy="2167.8" r="3.3"/><circle cx="716.1" cy="2158.4" r="3.3"/><circle cx="716.1" cy="2160.4" r="3.3"/><circle cx="720.0" cy="2161.2" r="3.3"/><circle cx="731.2" cy="2158.4" r="3.3"/><circle cx="731.2" cy="2160.4" r="3.3"/><circle cx="731.2" cy="2171.6" r="3.3"/><circle cx="731.2" cy="2173.6" r="3.3"/><circle cx="733.2" cy="2166.7" r="3.3"/><circle cx="738.4" cy="2157.9" r="3.3"/><circle cx="743.8" cy="2157.9" r="3.3"/><circle cx="747.1" cy="2158.4" r="3.3"/><circle cx="756.2" cy="2163.7" r="3.3"/><circle cx="766.5" cy="2166.7" r="3.3"/><circle cx="771.3" cy="2164.5" r="3.3"/><circle cx="771.3" cy="2171.1" r="3.3"/><circle cx="775.1" cy="2163.7" r="3.3"/><circle cx="782.2" cy="2155.5" r="3.3"/><circle cx="793.5" cy="2157.4" r="3.3"/><circle cx="801.1" cy="2171.1" r="3.3"/><circle cx="808.8" cy="2166.7" r="3.3"/><circle cx="811.3" cy="2160.4" r="3.3"/><circle cx="811.3" cy="2165.7" r="3.3"/><circle cx="817.0" cy="2165.3" r="3.3"/><circle cx="817.0" cy="2172.2" r="3.3"/><circle cx="820.8" cy="2167.3" r="3.3"/><circle cx="836.8" cy="2162.1" r="3.3"/><circle cx="844.7" cy="2171.9" r="3.3"/><circle cx="851.9" cy="2170.3" r="3.3"/><circle cx="860.6" cy="2170.3" r="3.3"/><circle cx="878.2" cy="2168.6" r="3.3"/><circle cx="884.5" cy="2174.4" r="3.3"/><circle cx="892.7" cy="2137.7" r="3.3"/><circle cx="892.7" cy="2167.8" r="3.3"/><circle cx="932.2" cy="2155.5" r="3.3"/><circle cx="948.6" cy="2153.5" r="3.3"/></g>
<polyline points="209.7,2178.8 250.0,2163.7 258.2,2162.9 303.5,2167.0 370.9,2167.8 410.4,2169.0 448.7,2166.4 455.9,2166.2 488.7,2167.3 532.2,2172.7 569.2,2167.0 615.3,2157.9 651.5,2165.0 690.1,2165.0 720.0,2162.9 729.9,2162.9 736.4,2162.1 771.0,2165.0 809.6,2165.7 846.6,2167.8 886.9,2162.9 941.2,2154.2" fill="none" stroke="#000000" stroke-width="2.00" stroke-linejoin="round"/>
</g>
<rect x="174.80" y="1989.30" width="809.10" height="353.10" fill="none" stroke="#000" stroke-width="3.50"/>
<path d="M203.01 1989.30V2005.10M203.01 2342.40V2326.60M391.23 1989.30V2005.10M391.23 2342.40V2326.60M579.45 1989.30V2005.10M579.45 2342.40V2326.60M767.67 1989.30V2005.10M767.67 2342.40V2326.60M955.89 1989.30V2005.10M955.89 2342.40V2326.60" stroke="#000" stroke-width="3.50" fill="none"/>
<path d="M174.80 2024.35H190.60M983.90 2024.35H968.10M174.80 2095.10H190.60M983.90 2095.10H968.10M174.80 2165.85H190.60M983.90 2165.85H968.10M174.80 2236.60H190.60M983.90 2236.60H968.10M174.80 2307.35H190.60M983.90 2307.35H968.10" stroke="#000" stroke-width="3.50" fill="none"/>
<text transform="translate(93.39 2036.42) scale(1.0482 1)" font-size="35.60" fill="#000">0.04</text>
<text transform="translate(93.36 2107.17) scale(1.0732 1)" font-size="35.60" fill="#000">0.02</text>
<text transform="translate(141.36 2177.92) scale(1.0190 1)" font-size="35.60" fill="#000">0</text>
<text transform="translate(64.61 2251.23) scale(1.3831 1)" font-size="35.60" fill="#000">−</text>
<text transform="translate(93.36 2248.67) scale(1.0732 1)" font-size="35.60" fill="#000">0.02</text>
<text transform="translate(64.61 2321.98) scale(1.3831 1)" font-size="35.60" fill="#000">−</text>
<text transform="translate(93.39 2319.42) scale(1.0482 1)" font-size="35.60" fill="#000">0.04</text>
<text transform="translate(179.71 2385.46) scale(1.3831 1)" font-size="35.60" fill="#000">−</text>
<text transform="translate(209.26 2382.90) scale(0.9291 1)" font-size="35.60" fill="#000">4</text>
<text transform="translate(367.93 2385.46) scale(1.3831 1)" font-size="35.60" fill="#000">−</text>
<text transform="translate(396.44 2382.90) scale(1.0773 1)" font-size="35.60" fill="#000">2</text>
<text transform="translate(570.38 2382.90) scale(1.0190 1)" font-size="35.60" fill="#000">0</text>
<text transform="translate(758.30 2382.90) scale(1.0773 1)" font-size="35.60" fill="#000">2</text>
<text transform="translate(947.56 2382.90) scale(0.9291 1)" font-size="35.60" fill="#000">4</text>
<clipPath id="cR5"><rect x="1024.50" y="1989.30" width="809.00" height="353.10"/></clipPath>
<g clip-path="url(#cR5)">
<g fill="#008000"><circle cx="1039.7" cy="2145.3" r="3.3"/><circle cx="1067.1" cy="2202.3" r="3.3"/><circle cx="1075.0" cy="2186.7" r="3.3"/><circle cx="1089.7" cy="2143.1" r="3.3"/><circle cx="1099.7" cy="2217.2" r="3.3"/><circle cx="1103.0" cy="2181.5" r="3.3"/><circle cx="1103.0" cy="2204.8" r="3.3"/><circle cx="1108.2" cy="2215.5" r="3.3"/><circle cx="1118.9" cy="2157.9" r="3.3"/><circle cx="1143.1" cy="2199.1" r="3.3"/><circle cx="1154.3" cy="2173.6" r="3.3"/><circle cx="1154.3" cy="2204.0" r="3.3"/><circle cx="1158.9" cy="2182.6" r="3.3"/><circle cx="1165.8" cy="2188.4" r="3.3"/><circle cx="1168.3" cy="2179.3" r="3.3"/><circle cx="1168.3" cy="2190.3" r="3.3"/><circle cx="1175.7" cy="2178.5" r="3.3"/><circle cx="1175.7" cy="2180.1" r="3.3"/><circle cx="1185.5" cy="2164.0" r="3.3"/><circle cx="1201.7" cy="2150.2" r="3.3"/><circle cx="1209.1" cy="2188.0" r="3.3"/><circle cx="1214.3" cy="2136.6" r="3.3"/><circle cx="1214.3" cy="2172.2" r="3.3"/><circle cx="1223.9" cy="2171.6" r="3.3"/><circle cx="1232.9" cy="2103.7" r="3.3"/><circle cx="1232.9" cy="2123.9" r="3.3"/><circle cx="1236.5" cy="2196.3" r="3.3"/><circle cx="1239.5" cy="2102.5" r="3.3"/><circle cx="1245.6" cy="2100.4" r="3.3"/><circle cx="1251.7" cy="2118.5" r="3.3"/><circle cx="1253.0" cy="2190.0" r="3.3"/><circle cx="1262.8" cy="2091.7" r="3.3"/><circle cx="1268.1" cy="2090.5" r="3.3"/><circle cx="1270.2" cy="2094.9" r="3.3"/><circle cx="1272.7" cy="2127.5" r="3.3"/><circle cx="1279.0" cy="2162.9" r="3.3"/><circle cx="1282.9" cy="2153.0" r="3.3"/><circle cx="1282.9" cy="2163.4" r="3.3"/><circle cx="1290.0" cy="2099.6" r="3.3"/><circle cx="1290.0" cy="2127.2" r="3.3"/><circle cx="1290.0" cy="2139.0" r="3.3"/><circle cx="1306.6" cy="2123.4" r="3.3"/><circle cx="1306.6" cy="2139.4" r="3.3"/><circle cx="1311.5" cy="2110.7" r="3.3"/><circle cx="1316.4" cy="2129.5" r="3.3"/><circle cx="1319.7" cy="2152.2" r="3.3"/><circle cx="1319.7" cy="2158.8" r="3.3"/><circle cx="1324.7" cy="2135.7" r="3.3"/><circle cx="1326.3" cy="2114.0" r="3.3"/><circle cx="1342.8" cy="2125.0" r="3.3"/><circle cx="1342.8" cy="2149.7" r="3.3"/><circle cx="1344.1" cy="2145.6" r="3.3"/><circle cx="1344.1" cy="2153.8" r="3.3"/><circle cx="1346.9" cy="2144.8" r="3.3"/><circle cx="1351.3" cy="2119.0" r="3.3"/><circle cx="1354.6" cy="2138.7" r="3.3"/><circle cx="1367.4" cy="2118.0" r="3.3"/><circle cx="1370.2" cy="2123.9" r="3.3"/><circle cx="1383.9" cy="2118.5" r="3.3"/><circle cx="1386.8" cy="2119.0" r="3.3"/><circle cx="1388.8" cy="2103.7" r="3.3"/><circle cx="1394.2" cy="2097.9" r="3.3"/><circle cx="1419.2" cy="2088.0" r="3.3"/><circle cx="1450.0" cy="2097.1" r="3.3"/><circle cx="1450.0" cy="2108.1" r="3.3"/><circle cx="1457.9" cy="2117.3" r="3.3"/><circle cx="1476.8" cy="2114.4" r="3.3"/><circle cx="1476.8" cy="2127.8" r="3.3"/><circle cx="1476.8" cy="2140.3" r="3.3"/><circle cx="1487.5" cy="2127.2" r="3.3"/><circle cx="1487.5" cy="2146.9" r="3.3"/><circle cx="1491.6" cy="2144.0" r="3.3"/><circle cx="1506.4" cy="2128.3" r="3.3"/><circle cx="1511.0" cy="2149.7" r="3.3"/><circle cx="1511.0" cy="2155.5" r="3.3"/><circle cx="1515.1" cy="2150.2" r="3.3"/><circle cx="1521.2" cy="2132.1" r="3.3"/><circle cx="1521.2" cy="2147.2" r="3.3"/><circle cx="1533.2" cy="2119.0" r="3.3"/><circle cx="1533.2" cy="2133.3" r="3.3"/><circle cx="1542.1" cy="2145.3" r="3.3"/><circle cx="1542.1" cy="2149.2" r="3.3"/><circle cx="1546.4" cy="2113.5" r="3.3"/><circle cx="1546.4" cy="2135.7" r="3.3"/><circle cx="1548.0" cy="2162.9" r="3.3"/><circle cx="1557.9" cy="2162.1" r="3.3"/><circle cx="1565.1" cy="2089.7" r="3.3"/><circle cx="1565.1" cy="2096.6" r="3.3"/><circle cx="1579.0" cy="2122.9" r="3.3"/><circle cx="1579.0" cy="2146.4" r="3.3"/><circle cx="1582.8" cy="2097.9" r="3.3"/><circle cx="1582.8" cy="2128.3" r="3.3"/><circle cx="1582.8" cy="2177.7" r="3.3"/><circle cx="1586.8" cy="2188.7" r="3.3"/><circle cx="1593.8" cy="2097.6" r="3.3"/><circle cx="1596.6" cy="2104.8" r="3.3"/><circle cx="1605.9" cy="2176.0" r="3.3"/><circle cx="1616.1" cy="2106.1" r="3.3"/><circle cx="1621.5" cy="2137.1" r="3.3"/><circle cx="1621.5" cy="2197.4" r="3.3"/><circle cx="1622.6" cy="2128.3" r="3.3"/><circle cx="1625.1" cy="2169.5" r="3.3"/><circle cx="1631.7" cy="2141.0" r="3.3"/><circle cx="1650.6" cy="2181.8" r="3.3"/><circle cx="1658.0" cy="2179.3" r="3.3"/><circle cx="1661.0" cy="2182.6" r="3.3"/><circle cx="1667.0" cy="2173.2" r="3.3"/><circle cx="1667.0" cy="2186.4" r="3.3"/><circle cx="1670.3" cy="2178.2" r="3.3"/><circle cx="1686.8" cy="2197.4" r="3.3"/><circle cx="1701.6" cy="2187.5" r="3.3"/><circle cx="1710.3" cy="2189.7" r="3.3"/><circle cx="1728.2" cy="2212.7" r="3.3"/><circle cx="1731.2" cy="2213.0" r="3.3"/><circle cx="1734.5" cy="2191.7" r="3.3"/><circle cx="1742.7" cy="2145.6" r="3.3"/><circle cx="1782.2" cy="2181.0" r="3.3"/><circle cx="1798.3" cy="2178.8" r="3.3"/></g>
<polyline points="1059.7,2178.5 1103.3,2183.4 1153.5,2185.9 1175.7,2177.7 1216.8,2157.1 1260.4,2128.8 1298.7,2131.9 1305.9,2133.3 1338.7,2139.8 1382.2,2113.5 1419.2,2088.4 1465.3,2116.0 1500.7,2143.1 1538.5,2139.8 1570.0,2132.1 1579.9,2130.0 1583.2,2129.2 1620.2,2151.4 1659.6,2178.2 1696.6,2188.0 1736.9,2179.3 1791.2,2181.0" fill="none" stroke="#008000" stroke-width="2.00" stroke-linejoin="round"/>
<g fill="#0000ff"><circle cx="1039.7" cy="2055.5" r="3.3"/><circle cx="1067.1" cy="2058.4" r="3.3"/><circle cx="1075.0" cy="2113.5" r="3.3"/><circle cx="1089.7" cy="2044.0" r="3.3"/><circle cx="1099.7" cy="2109.8" r="3.3"/><circle cx="1103.0" cy="2084.4" r="3.3"/><circle cx="1108.2" cy="2118.5" r="3.3"/><circle cx="1114.8" cy="2071.3" r="3.3"/><circle cx="1118.9" cy="2095.4" r="3.3"/><circle cx="1103.6" cy="2127.8" r="3.3"/><circle cx="1143.1" cy="2170.6" r="3.3"/><circle cx="1154.3" cy="2192.0" r="3.3"/><circle cx="1154.3" cy="2197.9" r="3.3"/><circle cx="1158.9" cy="2193.0" r="3.3"/><circle cx="1165.8" cy="2211.4" r="3.3"/><circle cx="1165.8" cy="2217.6" r="3.3"/><circle cx="1169.4" cy="2202.3" r="3.3"/><circle cx="1175.7" cy="2208.4" r="3.3"/><circle cx="1175.7" cy="2220.4" r="3.3"/><circle cx="1185.5" cy="2225.9" r="3.3"/><circle cx="1197.9" cy="2222.1" r="3.3"/><circle cx="1201.7" cy="2216.7" r="3.3"/><circle cx="1209.1" cy="2211.4" r="3.3"/><circle cx="1214.3" cy="2211.7" r="3.3"/><circle cx="1214.3" cy="2229.2" r="3.3"/><circle cx="1216.0" cy="2215.5" r="3.3"/><circle cx="1223.9" cy="2217.6" r="3.3"/><circle cx="1232.9" cy="2174.4" r="3.3"/><circle cx="1232.9" cy="2200.7" r="3.3"/><circle cx="1236.5" cy="2202.8" r="3.3"/><circle cx="1239.5" cy="2173.9" r="3.3"/><circle cx="1242.3" cy="2226.2" r="3.3"/><circle cx="1245.6" cy="2149.2" r="3.3"/><circle cx="1251.7" cy="2184.8" r="3.3"/><circle cx="1251.7" cy="2196.3" r="3.3"/><circle cx="1262.8" cy="2127.2" r="3.3"/><circle cx="1268.1" cy="2121.8" r="3.3"/><circle cx="1270.2" cy="2121.8" r="3.3"/><circle cx="1272.7" cy="2150.2" r="3.3"/><circle cx="1279.0" cy="2179.8" r="3.3"/><circle cx="1279.0" cy="2210.1" r="3.3"/><circle cx="1282.9" cy="2175.2" r="3.3"/><circle cx="1282.9" cy="2234.4" r="3.3"/><circle cx="1290.0" cy="2137.1" r="3.3"/><circle cx="1290.0" cy="2150.2" r="3.3"/><circle cx="1290.0" cy="2212.7" r="3.3"/><circle cx="1306.6" cy="2190.0" r="3.3"/><circle cx="1311.5" cy="2213.9" r="3.3"/><circle cx="1316.4" cy="2198.6" r="3.3"/><circle cx="1319.7" cy="2195.8" r="3.3"/><circle cx="1319.7" cy="2201.5" r="3.3"/><circle cx="1324.7" cy="2218.0" r="3.3"/><circle cx="1342.8" cy="2164.5" r="3.3"/><circle cx="1342.8" cy="2223.2" r="3.3"/><circle cx="1346.9" cy="2236.4" r="3.3"/><circle cx="1351.3" cy="2149.7" r="3.3"/><circle cx="1354.6" cy="2185.4" r="3.3"/><circle cx="1367.4" cy="2156.3" r="3.3"/><circle cx="1370.2" cy="2149.7" r="3.3"/><circle cx="1383.9" cy="2159.1" r="3.3"/><circle cx="1386.8" cy="2132.1" r="3.3"/><circle cx="1388.8" cy="2140.3" r="3.3"/><circle cx="1394.2" cy="2102.5" r="3.3"/><circle cx="1419.2" cy="2089.7" r="3.3"/><circle cx="1450.0" cy="2117.3" r="3.3"/><circle cx="1476.8" cy="2122.6" r="3.3"/><circle cx="1476.8" cy="2180.1" r="3.3"/><circle cx="1476.8" cy="2184.8" r="3.3"/><circle cx="1487.5" cy="2163.4" r="3.3"/><circle cx="1487.5" cy="2229.2" r="3.3"/><circle cx="1491.6" cy="2229.2" r="3.3"/><circle cx="1491.6" cy="2239.4" r="3.3"/><circle cx="1506.4" cy="2162.9" r="3.3"/><circle cx="1511.0" cy="2197.9" r="3.3"/><circle cx="1511.0" cy="2217.2" r="3.3"/><circle cx="1515.1" cy="2203.5" r="3.3"/><circle cx="1521.2" cy="2200.2" r="3.3"/><circle cx="1521.2" cy="2219.9" r="3.3"/><circle cx="1533.2" cy="2208.4" r="3.3"/><circle cx="1542.1" cy="2184.8" r="3.3"/><circle cx="1546.4" cy="2145.6" r="3.3"/><circle cx="1546.4" cy="2200.2" r="3.3"/><circle cx="1557.9" cy="2182.6" r="3.3"/><circle cx="1565.1" cy="2121.3" r="3.3"/><circle cx="1565.1" cy="2123.4" r="3.3"/><circle cx="1579.0" cy="2151.4" r="3.3"/><circle cx="1579.0" cy="2174.9" r="3.3"/><circle cx="1581.2" cy="2184.8" r="3.3"/><circle cx="1581.2" cy="2230.8" r="3.3"/><circle cx="1582.8" cy="2145.3" r="3.3"/><circle cx="1586.8" cy="2192.0" r="3.3"/><circle cx="1586.8" cy="2206.8" r="3.3"/><circle cx="1593.8" cy="2144.3" r="3.3"/><circle cx="1596.6" cy="2156.8" r="3.3"/><circle cx="1605.9" cy="2186.4" r="3.3"/><circle cx="1616.1" cy="2188.0" r="3.3"/><circle cx="1621.5" cy="2206.8" r="3.3"/><circle cx="1621.5" cy="2213.9" r="3.3"/><circle cx="1621.5" cy="2221.6" r="3.3"/><circle cx="1625.1" cy="2218.0" r="3.3"/><circle cx="1631.7" cy="2214.7" r="3.3"/><circle cx="1643.2" cy="2219.3" r="3.3"/><circle cx="1650.6" cy="2205.6" r="3.3"/><circle cx="1658.0" cy="2209.4" r="3.3"/><circle cx="1658.0" cy="2217.2" r="3.3"/><circle cx="1661.0" cy="2218.8" r="3.3"/><circle cx="1667.0" cy="2220.9" r="3.3"/><circle cx="1667.0" cy="2213.0" r="3.3"/><circle cx="1670.3" cy="2221.3" r="3.3"/><circle cx="1686.8" cy="2203.5" r="3.3"/><circle cx="1686.8" cy="2225.9" r="3.3"/><circle cx="1694.5" cy="2157.1" r="3.3"/><circle cx="1701.6" cy="2178.5" r="3.3"/><circle cx="1710.3" cy="2187.5" r="3.3"/><circle cx="1728.2" cy="2128.3" r="3.3"/><circle cx="1731.2" cy="2121.8" r="3.3"/><circle cx="1734.5" cy="2091.7" r="3.3"/><circle cx="1742.7" cy="2055.5" r="3.3"/><circle cx="1742.7" cy="2065.3" r="3.3"/><circle cx="1742.7" cy="2171.9" r="3.3"/><circle cx="1782.2" cy="2062.1" r="3.3"/><circle cx="1798.3" cy="2089.2" r="3.3"/></g>
<polyline points="1059.7,2075.7 1105.8,2093.3 1153.5,2190.0 1175.7,2215.5 1220.9,2208.1 1260.4,2167.8 1298.7,2186.7 1305.9,2190.0 1338.7,2203.2 1382.2,2139.8 1419.2,2089.7 1465.3,2149.2 1500.7,2205.6 1543.4,2182.6 1570.0,2172.7 1579.9,2167.8 1583.2,2166.2 1621.0,2207.3 1659.6,2215.0 1696.6,2189.2 1736.9,2106.1 1791.2,2075.7" fill="none" stroke="#0000ff" stroke-width="2.00" stroke-linejoin="round"/>
<g fill="#ff0000"><circle cx="1039.7" cy="2218.0" r="3.3"/><circle cx="1067.1" cy="2169.5" r="3.3"/><circle cx="1075.0" cy="2194.6" r="3.3"/><circle cx="1089.7" cy="2167.0" r="3.3"/><circle cx="1099.7" cy="2079.5" r="3.3"/><circle cx="1103.0" cy="2089.4" r="3.3"/><circle cx="1103.0" cy="2153.0" r="3.3"/><circle cx="1108.2" cy="2061.4" r="3.3"/><circle cx="1114.8" cy="2105.3" r="3.3"/><circle cx="1118.9" cy="2102.5" r="3.3"/><circle cx="1143.1" cy="2075.2" r="3.3"/><circle cx="1154.3" cy="2076.9" r="3.3"/><circle cx="1156.9" cy="2149.7" r="3.3"/><circle cx="1158.9" cy="2143.6" r="3.3"/><circle cx="1165.8" cy="2109.1" r="3.3"/><circle cx="1165.8" cy="2112.4" r="3.3"/><circle cx="1168.3" cy="2143.1" r="3.3"/><circle cx="1169.4" cy="2126.7" r="3.3"/><circle cx="1175.7" cy="2107.4" r="3.3"/><circle cx="1175.7" cy="2130.0" r="3.3"/><circle cx="1185.5" cy="2125.0" r="3.3"/><circle cx="1197.9" cy="2137.4" r="3.3"/><circle cx="1201.7" cy="2145.6" r="3.3"/><circle cx="1209.1" cy="2159.6" r="3.3"/><circle cx="1214.3" cy="2141.0" r="3.3"/><circle cx="1214.3" cy="2148.1" r="3.3"/><circle cx="1216.0" cy="2148.1" r="3.3"/><circle cx="1223.9" cy="2145.9" r="3.3"/><circle cx="1228.0" cy="2178.2" r="3.3"/><circle cx="1232.9" cy="2146.9" r="3.3"/><circle cx="1236.5" cy="2191.3" r="3.3"/><circle cx="1239.5" cy="2141.0" r="3.3"/><circle cx="1239.5" cy="2174.4" r="3.3"/><circle cx="1242.3" cy="2174.4" r="3.3"/><circle cx="1245.6" cy="2136.1" r="3.3"/><circle cx="1251.7" cy="2188.7" r="3.3"/><circle cx="1262.8" cy="2145.6" r="3.3"/><circle cx="1268.1" cy="2169.5" r="3.3"/><circle cx="1272.7" cy="2199.9" r="3.3"/><circle cx="1279.0" cy="2200.2" r="3.3"/><circle cx="1279.0" cy="2216.0" r="3.3"/><circle cx="1282.9" cy="2187.5" r="3.3"/><circle cx="1282.9" cy="2209.8" r="3.3"/><circle cx="1290.0" cy="2194.9" r="3.3"/><circle cx="1290.0" cy="2201.9" r="3.3"/><circle cx="1290.0" cy="2205.1" r="3.3"/><circle cx="1306.6" cy="2227.0" r="3.3"/><circle cx="1306.6" cy="2234.8" r="3.3"/><circle cx="1311.5" cy="2191.3" r="3.3"/><circle cx="1316.4" cy="2212.2" r="3.3"/><circle cx="1316.4" cy="2242.0" r="3.3"/><circle cx="1319.7" cy="2224.6" r="3.3"/><circle cx="1324.7" cy="2191.3" r="3.3"/><circle cx="1324.7" cy="2202.8" r="3.3"/><circle cx="1342.8" cy="2178.2" r="3.3"/><circle cx="1342.8" cy="2216.3" r="3.3"/><circle cx="1342.8" cy="2228.2" r="3.3"/><circle cx="1346.9" cy="2236.1" r="3.3"/><circle cx="1346.9" cy="2238.5" r="3.3"/><circle cx="1351.3" cy="2172.7" r="3.3"/><circle cx="1354.6" cy="2190.3" r="3.3"/><circle cx="1367.4" cy="2173.6" r="3.3"/><circle cx="1383.9" cy="2180.1" r="3.3"/><circle cx="1388.8" cy="2172.7" r="3.3"/><circle cx="1394.2" cy="2152.2" r="3.3"/><circle cx="1419.2" cy="2146.9" r="3.3"/><circle cx="1450.0" cy="2160.1" r="3.3"/><circle cx="1457.9" cy="2186.4" r="3.3"/><circle cx="1476.8" cy="2191.3" r="3.3"/><circle cx="1487.5" cy="2177.7" r="3.3"/><circle cx="1487.5" cy="2226.5" r="3.3"/><circle cx="1491.6" cy="2222.9" r="3.3"/><circle cx="1491.6" cy="2237.7" r="3.3"/><circle cx="1506.4" cy="2177.7" r="3.3"/><circle cx="1506.4" cy="2232.1" r="3.3"/><circle cx="1511.0" cy="2207.8" r="3.3"/><circle cx="1515.1" cy="2207.8" r="3.3"/><circle cx="1521.2" cy="2243.5" r="3.3"/><circle cx="1533.2" cy="2203.2" r="3.3"/><circle cx="1533.2" cy="2229.2" r="3.3"/><circle cx="1542.1" cy="2202.8" r="3.3"/><circle cx="1542.1" cy="2231.5" r="3.3"/><circle cx="1542.1" cy="2220.9" r="3.3"/><circle cx="1546.4" cy="2202.3" r="3.3"/><circle cx="1546.4" cy="2207.8" r="3.3"/><circle cx="1548.0" cy="2217.6" r="3.3"/><circle cx="1557.9" cy="2219.3" r="3.3"/><circle cx="1565.1" cy="2160.4" r="3.3"/><circle cx="1565.1" cy="2177.7" r="3.3"/><circle cx="1579.0" cy="2189.2" r="3.3"/><circle cx="1581.2" cy="2178.2" r="3.3"/><circle cx="1581.2" cy="2196.6" r="3.3"/><circle cx="1582.8" cy="2158.4" r="3.3"/><circle cx="1582.8" cy="2194.9" r="3.3"/><circle cx="1586.8" cy="2194.9" r="3.3"/><circle cx="1586.8" cy="2211.4" r="3.3"/><circle cx="1593.8" cy="2133.8" r="3.3"/><circle cx="1596.6" cy="2140.3" r="3.3"/><circle cx="1605.9" cy="2191.3" r="3.3"/><circle cx="1616.1" cy="2144.8" r="3.3"/><circle cx="1621.5" cy="2143.1" r="3.3"/><circle cx="1621.5" cy="2181.0" r="3.3"/><circle cx="1622.6" cy="2144.0" r="3.3"/><circle cx="1625.1" cy="2153.0" r="3.3"/><circle cx="1631.7" cy="2157.9" r="3.3"/><circle cx="1643.2" cy="2135.4" r="3.3"/><circle cx="1650.6" cy="2159.1" r="3.3"/><circle cx="1658.0" cy="2138.7" r="3.3"/><circle cx="1658.0" cy="2150.2" r="3.3"/><circle cx="1661.0" cy="2120.1" r="3.3"/><circle cx="1667.0" cy="2123.4" r="3.3"/><circle cx="1667.0" cy="2152.5" r="3.3"/><circle cx="1670.3" cy="2122.9" r="3.3"/><circle cx="1686.8" cy="2091.0" r="3.3"/><circle cx="1686.8" cy="2140.7" r="3.3"/><circle cx="1694.5" cy="2080.1" r="3.3"/><circle cx="1701.6" cy="2143.1" r="3.3"/><circle cx="1710.3" cy="2139.0" r="3.3"/><circle cx="1728.2" cy="2060.1" r="3.3"/><circle cx="1728.2" cy="2076.9" r="3.3"/><circle cx="1734.5" cy="2085.1" r="3.3"/><circle cx="1742.7" cy="2130.5" r="3.3"/><circle cx="1742.7" cy="2151.4" r="3.3"/><circle cx="1782.2" cy="2196.6" r="3.3"/><circle cx="1798.3" cy="2206.5" r="3.3"/></g>
<polyline points="1059.7,2194.6 1105.8,2108.1 1175.7,2123.4 1220.9,2157.1 1260.4,2171.9 1298.7,2210.6 1305.9,2210.1 1338.7,2208.1 1382.2,2167.8 1419.2,2146.9 1465.3,2176.0 1500.7,2211.4 1540.1,2222.1 1570.0,2190.8 1579.9,2177.7 1583.2,2176.0 1620.2,2161.7 1659.6,2136.6 1696.6,2119.0 1736.9,2111.9 1791.2,2201.5" fill="none" stroke="#ff0000" stroke-width="2.00" stroke-linejoin="round"/>
<g fill="#000000"><circle cx="1039.7" cy="2168.6" r="3.3"/><circle cx="1067.1" cy="2176.9" r="3.3"/><circle cx="1075.0" cy="2163.7" r="3.3"/><circle cx="1089.7" cy="2157.9" r="3.3"/><circle cx="1099.7" cy="2152.2" r="3.3"/><circle cx="1103.0" cy="2158.8" r="3.3"/><circle cx="1108.2" cy="2149.7" r="3.3"/><circle cx="1114.8" cy="2165.3" r="3.3"/><circle cx="1118.9" cy="2161.7" r="3.3"/><circle cx="1143.1" cy="2150.2" r="3.3"/><circle cx="1154.3" cy="2148.6" r="3.3"/><circle cx="1154.3" cy="2166.7" r="3.3"/><circle cx="1156.9" cy="2172.7" r="3.3"/><circle cx="1165.8" cy="2165.3" r="3.3"/><circle cx="1165.8" cy="2167.8" r="3.3"/><circle cx="1168.3" cy="2171.9" r="3.3"/><circle cx="1169.4" cy="2157.9" r="3.3"/><circle cx="1175.7" cy="2154.7" r="3.3"/><circle cx="1175.7" cy="2157.9" r="3.3"/><circle cx="1185.5" cy="2157.4" r="3.3"/><circle cx="1197.9" cy="2160.4" r="3.3"/><circle cx="1209.1" cy="2167.8" r="3.3"/><circle cx="1214.3" cy="2154.7" r="3.3"/><circle cx="1214.3" cy="2164.5" r="3.3"/><circle cx="1214.3" cy="2168.6" r="3.3"/><circle cx="1223.9" cy="2168.6" r="3.3"/><circle cx="1228.0" cy="2160.1" r="3.3"/><circle cx="1232.9" cy="2167.8" r="3.3"/><circle cx="1239.5" cy="2160.4" r="3.3"/><circle cx="1245.6" cy="2150.9" r="3.3"/><circle cx="1251.7" cy="2164.5" r="3.3"/><circle cx="1262.8" cy="2150.2" r="3.3"/><circle cx="1268.1" cy="2157.1" r="3.3"/><circle cx="1268.1" cy="2158.8" r="3.3"/><circle cx="1272.7" cy="2165.3" r="3.3"/><circle cx="1279.0" cy="2169.9" r="3.3"/><circle cx="1279.0" cy="2171.9" r="3.3"/><circle cx="1282.9" cy="2171.9" r="3.3"/><circle cx="1290.0" cy="2164.5" r="3.3"/><circle cx="1290.0" cy="2175.5" r="3.3"/><circle cx="1306.6" cy="2171.1" r="3.3"/><circle cx="1311.5" cy="2177.7" r="3.3"/><circle cx="1316.4" cy="2176.9" r="3.3"/><circle cx="1319.7" cy="2165.0" r="3.3"/><circle cx="1324.7" cy="2172.7" r="3.3"/><circle cx="1324.7" cy="2176.5" r="3.3"/><circle cx="1342.8" cy="2173.2" r="3.3"/><circle cx="1344.1" cy="2164.0" r="3.3"/><circle cx="1346.9" cy="2168.6" r="3.3"/><circle cx="1351.3" cy="2176.0" r="3.3"/><circle cx="1354.6" cy="2167.3" r="3.3"/><circle cx="1367.4" cy="2176.0" r="3.3"/><circle cx="1370.2" cy="2167.8" r="3.3"/><circle cx="1383.9" cy="2166.2" r="3.3"/><circle cx="1386.8" cy="2169.5" r="3.3"/><circle cx="1394.2" cy="2160.1" r="3.3"/><circle cx="1419.2" cy="2156.8" r="3.3"/><circle cx="1450.0" cy="2163.4" r="3.3"/><circle cx="1450.0" cy="2167.0" r="3.3"/><circle cx="1457.9" cy="2168.6" r="3.3"/><circle cx="1476.8" cy="2164.5" r="3.3"/><circle cx="1476.8" cy="2169.5" r="3.3"/><circle cx="1487.5" cy="2166.7" r="3.3"/><circle cx="1487.5" cy="2173.2" r="3.3"/><circle cx="1491.6" cy="2168.6" r="3.3"/><circle cx="1506.4" cy="2171.6" r="3.3"/><circle cx="1511.0" cy="2165.0" r="3.3"/><circle cx="1515.1" cy="2164.0" r="3.3"/><circle cx="1521.2" cy="2175.5" r="3.3"/><circle cx="1533.2" cy="2175.5" r="3.3"/><circle cx="1542.1" cy="2168.6" r="3.3"/><circle cx="1546.4" cy="2171.6" r="3.3"/><circle cx="1557.9" cy="2168.3" r="3.3"/><circle cx="1565.1" cy="2153.8" r="3.3"/><circle cx="1565.1" cy="2160.4" r="3.3"/><circle cx="1579.0" cy="2162.1" r="3.3"/><circle cx="1581.2" cy="2171.9" r="3.3"/><circle cx="1582.8" cy="2162.1" r="3.3"/><circle cx="1582.8" cy="2169.9" r="3.3"/><circle cx="1582.8" cy="2173.2" r="3.3"/><circle cx="1586.8" cy="2170.3" r="3.3"/><circle cx="1593.8" cy="2149.7" r="3.3"/><circle cx="1596.6" cy="2153.5" r="3.3"/><circle cx="1621.5" cy="2164.5" r="3.3"/><circle cx="1625.1" cy="2166.7" r="3.3"/><circle cx="1631.7" cy="2170.3" r="3.3"/><circle cx="1643.2" cy="2159.1" r="3.3"/><circle cx="1650.6" cy="2168.6" r="3.3"/><circle cx="1658.0" cy="2157.1" r="3.3"/><circle cx="1658.0" cy="2172.2" r="3.3"/><circle cx="1661.0" cy="2155.1" r="3.3"/><circle cx="1667.0" cy="2157.9" r="3.3"/><circle cx="1667.0" cy="2168.6" r="3.3"/><circle cx="1667.0" cy="2170.3" r="3.3"/><circle cx="1670.3" cy="2157.9" r="3.3"/><circle cx="1686.8" cy="2155.8" r="3.3"/><circle cx="1686.8" cy="2177.7" r="3.3"/><circle cx="1694.5" cy="2153.8" r="3.3"/><circle cx="1701.6" cy="2161.7" r="3.3"/><circle cx="1710.3" cy="2162.9" r="3.3"/><circle cx="1728.2" cy="2150.9" r="3.3"/><circle cx="1731.2" cy="2151.9" r="3.3"/><circle cx="1734.5" cy="2159.6" r="3.3"/><circle cx="1742.7" cy="2159.6" r="3.3"/><circle cx="1742.7" cy="2162.9" r="3.3"/><circle cx="1742.7" cy="2166.2" r="3.3"/><circle cx="1782.2" cy="2178.5" r="3.3"/><circle cx="1798.3" cy="2167.8" r="3.3"/></g>
<polyline points="1059.7,2170.3 1103.3,2157.4 1153.5,2160.4 1175.7,2162.1 1220.9,2164.5 1260.4,2162.9 1298.7,2171.3 1305.9,2171.6 1338.7,2169.0 1382.2,2167.8 1419.2,2156.8 1465.3,2167.0 1502.3,2167.8 1538.5,2171.6 1570.0,2165.7 1579.9,2163.4 1583.2,2163.4 1620.2,2164.0 1659.6,2162.9 1696.6,2162.1 1736.9,2159.1 1744.3,2160.4 1791.2,2173.2" fill="none" stroke="#000000" stroke-width="2.00" stroke-linejoin="round"/>
</g>
<rect x="1024.50" y="1989.30" width="809.00" height="353.10" fill="none" stroke="#000" stroke-width="3.50"/>
<path d="M1052.80 1989.30V2005.10M1052.80 2342.40V2326.60M1240.90 1989.30V2005.10M1240.90 2342.40V2326.60M1429.00 1989.30V2005.10M1429.00 2342.40V2326.60M1617.10 1989.30V2005.10M1617.10 2342.40V2326.60M1805.20 1989.30V2005.10M1805.20 2342.40V2326.60" stroke="#000" stroke-width="3.50" fill="none"/>
<path d="M1024.50 2024.35H1040.30M1833.50 2024.35H1817.70M1024.50 2095.10H1040.30M1833.50 2095.10H1817.70M1024.50 2165.85H1040.30M1833.50 2165.85H1817.70M1024.50 2236.60H1040.30M1833.50 2236.60H1817.70M1024.50 2307.35H1040.30M1833.50 2307.35H1817.70" stroke="#000" stroke-width="3.50" fill="none"/>
<text transform="translate(1849.27 2036.42) scale(1.0482 1)" font-size="35.60" fill="#000">0.04</text>
<text transform="translate(1849.23 2107.17) scale(1.0732 1)" font-size="35.60" fill="#000">0.02</text>
<text transform="translate(1849.31 2177.92) scale(1.0190 1)" font-size="35.60" fill="#000">0</text>
<text transform="translate(1849.66 2251.23) scale(1.3831 1)" font-size="35.60" fill="#000">−</text>
<text transform="translate(1878.41 2248.67) scale(1.0732 1)" font-size="35.60" fill="#000">0.02</text>
<text transform="translate(1849.66 2321.98) scale(1.3831 1)" font-size="35.60" fill="#000">−</text>
<text transform="translate(1878.44 2319.42) scale(1.0482 1)" font-size="35.60" fill="#000">0.04</text>
<text transform="translate(1029.50 2385.46) scale(1.3831 1)" font-size="35.60" fill="#000">−</text>
<text transform="translate(1059.05 2382.90) scale(0.9291 1)" font-size="35.60" fill="#000">4</text>
<text transform="translate(1217.60 2385.46) scale(1.3831 1)" font-size="35.60" fill="#000">−</text>
<text transform="translate(1246.11 2382.90) scale(1.0773 1)" font-size="35.60" fill="#000">2</text>
<text transform="translate(1419.93 2382.90) scale(1.0190 1)" font-size="35.60" fill="#000">0</text>
<text transform="translate(1607.73 2382.90) scale(1.0773 1)" font-size="35.60" fill="#000">2</text>
<text transform="translate(1796.87 2382.90) scale(0.9291 1)" font-size="35.60" fill="#000">4</text>
<text transform="translate(30.90 236.09) rotate(-90) scale(1.0449 1)" font-size="47.50" font-style="italic">V</text>
<text transform="translate(67.90 299.13) rotate(-90) scale(1.1833 1)" font-size="48.70">(</text>
<text transform="translate(67.70 283.40) rotate(-90) scale(1.0695 1)" font-size="44.00">km</text>
<text transform="translate(77.50 221.20) rotate(-90) scale(0.9216 1)" font-size="66.00">/</text>
<text transform="translate(67.70 202.84) rotate(-90) scale(1.1290 1)" font-size="44.00">s</text>
<text transform="translate(67.90 183.22) rotate(-90) scale(0.9034 1)" font-size="48.70">)</text>
<text transform="translate(1951.50 235.44) rotate(-90) scale(1.1017 1)" font-size="44.00" font-style="italic">σ</text>
<text transform="translate(1988.80 298.72) rotate(-90) scale(1.1753 1)" font-size="48.70">(</text>
<text transform="translate(1988.60 283.51) rotate(-90) scale(1.0823 1)" font-size="44.00">km</text>
<text transform="translate(1998.40 221.00) rotate(-90) scale(0.9216 1)" font-size="66.00">/</text>
<text transform="translate(1988.60 202.45) rotate(-90) scale(1.1363 1)" font-size="44.00">s</text>
<text transform="translate(1988.80 181.67) rotate(-90) scale(0.7435 1)" font-size="48.70">)</text>
<text transform="translate(51.00 632.82) rotate(-90) scale(1.1784 1)" font-size="44.00" font-style="italic">h</text>
<text transform="translate(57.60 607.74) rotate(-90) scale(1.1475 1)" font-size="30.80">3</text>
<text transform="translate(1987.60 632.50) rotate(-90) scale(1.1623 1)" font-size="44.00" font-style="italic">h</text>
<text transform="translate(1993.60 607.10) rotate(-90) scale(1.0756 1)" font-size="30.80">4</text>
<text transform="translate(51.00 1021.42) rotate(-90) scale(1.1784 1)" font-size="44.00" font-style="italic">h</text>
<text transform="translate(57.60 996.76) rotate(-90) scale(1.1767 1)" font-size="30.80">5</text>
<text transform="translate(1987.60 1021.10) rotate(-90) scale(1.1623 1)" font-size="44.00" font-style="italic">h</text>
<text transform="translate(1993.60 996.60) rotate(-90) scale(1.1703 1)" font-size="30.80">6</text>
<text transform="translate(51.00 1410.02) rotate(-90) scale(1.1784 1)" font-size="44.00" font-style="italic">h</text>
<text transform="translate(57.60 1385.62) rotate(-90) scale(1.1696 1)" font-size="30.80">7</text>
<text transform="translate(1987.60 1409.70) rotate(-90) scale(1.1623 1)" font-size="44.00" font-style="italic">h</text>
<text transform="translate(1993.60 1385.03) rotate(-90) scale(1.1797 1)" font-size="30.80">8</text>
<text transform="translate(51.00 1798.62) rotate(-90) scale(1.1784 1)" font-size="44.00" font-style="italic">h</text>
<text transform="translate(57.60 1772.95) rotate(-90) scale(1.1108 1)" font-size="30.80">9</text>
<text transform="translate(1987.60 1798.30) rotate(-90) scale(1.1623 1)" font-size="44.00" font-style="italic">h</text>
<text transform="translate(1993.60 1775.17) rotate(-90) scale(1.0773 1)" font-size="30.80">10</text>
<text transform="translate(51.00 2187.22) rotate(-90) scale(1.1784 1)" font-size="44.00" font-style="italic">h</text>
<text transform="translate(57.60 2163.44) rotate(-90) scale(1.1050 1)" font-size="30.80">11</text>
<text transform="translate(1987.60 2186.90) rotate(-90) scale(1.1623 1)" font-size="44.00" font-style="italic">h</text>
<text transform="translate(1993.60 2163.82) rotate(-90) scale(1.0988 1)" font-size="30.80">12</text>
<text transform="translate(486.82 2440.80) scale(1.1523 1)" font-size="44.00" font-style="italic" fill="#000">R</text>
<text transform="translate(528.20 2441.40) scale(0.8635 1)" font-size="48.70" fill="#000">(</text>
<text transform="translate(543.11 2440.80) scale(1.0627 1)" font-size="44.00" fill="#000">arcsec</text>
<text transform="translate(660.07 2441.40) scale(0.8794 1)" font-size="48.70" fill="#000">)</text>
<text transform="translate(1336.37 2440.80) scale(1.1523 1)" font-size="44.00" font-style="italic" fill="#000">R</text>
<text transform="translate(1377.75 2441.40) scale(0.8635 1)" font-size="48.70" fill="#000">(</text>
<text transform="translate(1392.66 2440.80) scale(1.0627 1)" font-size="44.00" fill="#000">arcsec</text>
<text transform="translate(1509.62 2441.40) scale(0.8794 1)" font-size="48.70" fill="#000">)</text>
<path d="M197.9 79.10H252.9" stroke="#008000" stroke-width="2.1"/>
<text transform="translate(273.74 83.50) scale(1.4014 1)" font-size="26.30" fill="#000">Fit</text>
<text transform="translate(322.15 83.50) scale(1.3803 1)" font-size="26.30" fill="#000">to</text>
<text transform="translate(357.32 83.50) scale(1.1079 1)" font-size="26.30" fill="#000">h</text>
<text transform="translate(374.97 88.80) scale(1.3222 1)" font-size="20.50" fill="#000">4</text>
<path d="M197.9 116.30H252.9" stroke="#0000ff" stroke-width="2.1"/>
<text transform="translate(273.74 120.70) scale(1.4014 1)" font-size="26.30" fill="#000">Fit</text>
<text transform="translate(322.15 120.70) scale(1.3803 1)" font-size="26.30" fill="#000">to</text>
<text transform="translate(357.32 120.70) scale(1.1079 1)" font-size="26.30" fill="#000">h</text>
<text transform="translate(374.23 126.00) scale(1.4386 1)" font-size="20.50" fill="#000">6</text>
<path d="M197.9 153.40H252.9" stroke="#ff0000" stroke-width="2.1"/>
<text transform="translate(273.74 157.80) scale(1.4014 1)" font-size="26.30" fill="#000">Fit</text>
<text transform="translate(322.15 157.80) scale(1.3803 1)" font-size="26.30" fill="#000">to</text>
<text transform="translate(357.32 157.80) scale(1.1079 1)" font-size="26.30" fill="#000">h</text>
<text transform="translate(374.37 163.10) scale(1.4502 1)" font-size="20.50" fill="#000">8</text>
<path d="M197.9 190.40H252.9" stroke="#000000" stroke-width="2.1"/>
<text transform="translate(273.74 194.80) scale(1.4014 1)" font-size="26.30" fill="#000">Fit</text>
<text transform="translate(322.15 194.80) scale(1.3803 1)" font-size="26.30" fill="#000">to</text>
<text transform="translate(357.32 194.80) scale(1.1079 1)" font-size="26.30" fill="#000">h</text>
<text transform="translate(374.11 200.10) scale(1.4914 1)" font-size="20.50" fill="#000">12</text>
</svg>
</body></html>
